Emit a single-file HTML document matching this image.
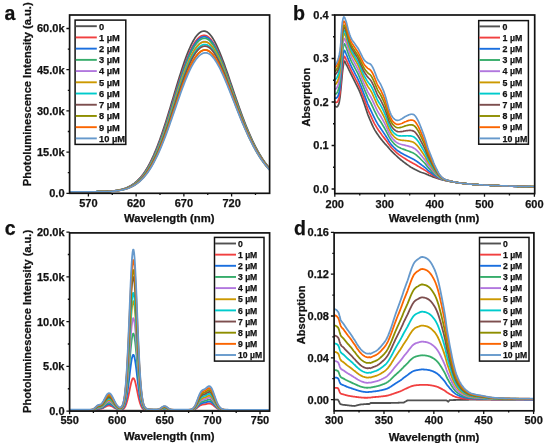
<!DOCTYPE html>
<html><head><meta charset="utf-8"><title>Figure</title>
<style>
html,body{margin:0;padding:0;background:#fff;}
body{width:550px;height:448px;overflow:hidden;font-family:"Liberation Sans",sans-serif;}
svg{display:block;filter:blur(0.45px);}
text{stroke:#111;stroke-width:0.25px;}
</style></head><body>
<svg width="550" height="448" viewBox="0 0 550 448" font-family="Liberation Sans, sans-serif" font-weight="bold" fill="#111">
<clipPath id="ca"><rect x="69.6" y="15" width="200" height="178.3"/></clipPath>
<path d="M68.6 191.8 L69.6 191.8 L70.6 191.8 L71.6 191.8 L72.6 191.8 L73.6 191.8 L74.6 191.8 L75.6 191.8 L76.6 191.8 L77.6 191.8 L78.6 191.8 L79.6 191.8 L80.6 191.79 L81.6 191.79 L82.6 191.79 L83.6 191.79 L84.6 191.79 L85.6 191.79 L86.6 191.78 L87.6 191.78 L88.6 191.78 L89.6 191.77 L90.6 191.77 L91.6 191.76 L92.6 191.75 L93.6 191.75 L94.6 191.74 L95.6 191.73 L96.6 191.71 L97.6 191.7 L98.6 191.68 L99.6 191.66 L100.6 191.64 L101.6 191.62 L102.6 191.59 L103.6 191.55 L104.6 191.52 L105.6 191.47 L106.6 191.43 L107.6 191.37 L108.6 191.31 L109.6 191.24 L110.6 191.16 L111.6 191.08 L112.6 190.98 L113.6 190.87 L114.6 190.75 L115.6 190.61 L116.6 190.46 L117.6 190.29 L118.6 190.1 L119.6 189.9 L120.6 189.67 L121.6 189.42 L122.6 189.14 L123.6 188.84 L124.6 188.5 L125.6 188.14 L126.6 187.74 L127.6 187.31 L128.6 186.84 L129.6 186.33 L130.6 185.77 L131.6 185.17 L132.6 184.52 L133.6 183.82 L134.6 183.06 L135.6 182.25 L136.6 181.38 L137.6 180.45 L138.6 179.45 L139.6 178.39 L140.6 177.25 L141.6 176.05 L142.6 174.77 L143.6 173.41 L144.6 171.97 L145.6 170.45 L146.6 168.85 L147.6 167.17 L148.6 165.4 L149.6 163.54 L150.6 161.6 L151.6 159.57 L152.6 157.45 L153.6 155.24 L154.6 152.94 L155.6 150.56 L156.6 148.09 L157.6 145.54 L158.6 142.91 L159.6 140.2 L160.6 137.41 L161.6 134.54 L162.6 131.61 L163.6 128.61 L164.6 125.55 L165.6 122.43 L166.6 119.26 L167.6 116.04 L168.6 112.79 L169.6 109.5 L170.6 106.18 L171.6 102.84 L172.6 99.49 L173.6 96.13 L174.6 92.78 L175.6 89.43 L176.6 86.1 L177.6 82.8 L178.6 79.54 L179.6 76.31 L180.6 73.14 L181.6 70.03 L182.6 66.99 L183.6 64.02 L184.6 61.14 L185.6 58.35 L186.6 55.66 L187.6 53.08 L188.6 50.61 L189.6 48.26 L190.6 46.05 L191.6 43.97 L192.6 42.02 L193.6 40.23 L194.6 38.58 L195.6 37.09 L196.6 35.76 L197.6 34.59 L198.6 33.59 L199.6 32.76 L200.6 32.09 L201.6 31.59 L202.6 31.27 L203.6 31.11 L204.6 31.13 L205.6 31.34 L206.6 31.74 L207.6 32.33 L208.6 33.11 L209.6 34.07 L210.6 35.21 L211.6 36.52 L212.6 38.01 L213.6 39.67 L214.6 41.45 L215.6 43.35 L216.6 45.38 L217.6 47.52 L218.6 49.78 L219.6 52.14 L220.6 54.59 L221.6 57.13 L222.6 59.74 L223.6 62.42 L224.6 65.16 L225.6 67.95 L226.6 70.78 L227.6 73.65 L228.6 76.55 L229.6 79.48 L230.6 82.41 L231.6 85.36 L232.6 88.3 L233.6 91.24 L234.6 94.18 L235.6 97.1 L236.6 99.99 L237.6 102.87 L238.6 105.71 L239.6 108.52 L240.6 111.3 L241.6 114.03 L242.6 116.72 L243.6 119.37 L244.6 121.96 L245.6 124.51 L246.6 127 L247.6 129.44 L248.6 131.82 L249.6 134.14 L250.6 136.41 L251.6 138.62 L252.6 140.76 L253.6 142.85 L254.6 144.88 L255.6 146.84 L256.6 148.75 L257.6 150.6 L258.6 152.38 L259.6 154.11 L260.6 155.78 L261.6 157.39 L262.6 158.94 L263.6 160.44 L264.6 161.89 L265.6 163.28 L266.6 164.61 L267.6 165.9 L268.6 167.13 L269.6 168.32 L270.6 169.45" stroke="#515151" stroke-width="1.7" fill="none" stroke-linejoin="round" clip-path="url(#ca)"/>
<path d="M68.6 191.8 L69.6 191.8 L70.6 191.8 L71.6 191.8 L72.6 191.8 L73.6 191.8 L74.6 191.8 L75.6 191.8 L76.6 191.8 L77.6 191.8 L78.6 191.8 L79.6 191.8 L80.6 191.79 L81.6 191.79 L82.6 191.79 L83.6 191.79 L84.6 191.79 L85.6 191.79 L86.6 191.78 L87.6 191.78 L88.6 191.78 L89.6 191.77 L90.6 191.77 L91.6 191.76 L92.6 191.76 L93.6 191.75 L94.6 191.74 L95.6 191.73 L96.6 191.72 L97.6 191.7 L98.6 191.69 L99.6 191.67 L100.6 191.65 L101.6 191.62 L102.6 191.6 L103.6 191.57 L104.6 191.53 L105.6 191.49 L106.6 191.44 L107.6 191.39 L108.6 191.33 L109.6 191.27 L110.6 191.19 L111.6 191.11 L112.6 191.01 L113.6 190.91 L114.6 190.79 L115.6 190.66 L116.6 190.52 L117.6 190.35 L118.6 190.18 L119.6 189.98 L120.6 189.76 L121.6 189.52 L122.6 189.25 L123.6 188.96 L124.6 188.64 L125.6 188.29 L126.6 187.91 L127.6 187.49 L128.6 187.04 L129.6 186.55 L130.6 186.01 L131.6 185.43 L132.6 184.81 L133.6 184.13 L134.6 183.41 L135.6 182.62 L136.6 181.79 L137.6 180.89 L138.6 179.92 L139.6 178.9 L140.6 177.8 L141.6 176.64 L142.6 175.4 L143.6 174.09 L144.6 172.7 L145.6 171.24 L146.6 169.69 L147.6 168.06 L148.6 166.35 L149.6 164.56 L150.6 162.68 L151.6 160.71 L152.6 158.66 L153.6 156.52 L154.6 154.3 L155.6 151.99 L156.6 149.6 L157.6 147.13 L158.6 144.58 L159.6 141.95 L160.6 139.24 L161.6 136.46 L162.6 133.62 L163.6 130.7 L164.6 127.73 L165.6 124.7 L166.6 121.62 L167.6 118.5 L168.6 115.33 L169.6 112.13 L170.6 108.9 L171.6 105.65 L172.6 102.39 L173.6 99.12 L174.6 95.85 L175.6 92.59 L176.6 89.35 L177.6 86.13 L178.6 82.95 L179.6 79.8 L180.6 76.7 L181.6 73.66 L182.6 70.69 L183.6 67.79 L184.6 64.97 L185.6 62.24 L186.6 59.6 L187.6 57.07 L188.6 54.65 L189.6 52.35 L190.6 50.17 L191.6 48.13 L192.6 46.21 L193.6 44.44 L194.6 42.82 L195.6 41.35 L196.6 40.03 L197.6 38.86 L198.6 37.86 L199.6 37.02 L200.6 36.35 L201.6 35.84 L202.6 35.5 L203.6 35.33 L204.6 35.32 L205.6 35.5 L206.6 35.86 L207.6 36.4 L208.6 37.13 L209.6 38.04 L210.6 39.12 L211.6 40.38 L212.6 41.8 L213.6 43.39 L214.6 45.11 L215.6 46.95 L216.6 48.9 L217.6 50.97 L218.6 53.16 L219.6 55.44 L220.6 57.81 L221.6 60.27 L222.6 62.8 L223.6 65.4 L224.6 68.06 L225.6 70.77 L226.6 73.53 L227.6 76.32 L228.6 79.14 L229.6 81.98 L230.6 84.84 L231.6 87.71 L232.6 90.58 L233.6 93.44 L234.6 96.3 L235.6 99.15 L236.6 101.97 L237.6 104.77 L238.6 107.55 L239.6 110.29 L240.6 113 L241.6 115.67 L242.6 118.29 L243.6 120.88 L244.6 123.41 L245.6 125.9 L246.6 128.33 L247.6 130.71 L248.6 133.04 L249.6 135.31 L250.6 137.53 L251.6 139.69 L252.6 141.79 L253.6 143.83 L254.6 145.81 L255.6 147.73 L256.6 149.6 L257.6 151.41 L258.6 153.15 L259.6 154.85 L260.6 156.48 L261.6 158.06 L262.6 159.58 L263.6 161.05 L264.6 162.46 L265.6 163.82 L266.6 165.13 L267.6 166.39 L268.6 167.6 L269.6 168.76 L270.6 169.87" stroke="#F14040" stroke-width="1.7" fill="none" stroke-linejoin="round" clip-path="url(#ca)"/>
<path d="M68.6 191.8 L69.6 191.8 L70.6 191.8 L71.6 191.8 L72.6 191.8 L73.6 191.8 L74.6 191.8 L75.6 191.8 L76.6 191.8 L77.6 191.8 L78.6 191.8 L79.6 191.8 L80.6 191.79 L81.6 191.79 L82.6 191.79 L83.6 191.79 L84.6 191.79 L85.6 191.79 L86.6 191.78 L87.6 191.78 L88.6 191.78 L89.6 191.77 L90.6 191.77 L91.6 191.76 L92.6 191.76 L93.6 191.75 L94.6 191.74 L95.6 191.73 L96.6 191.72 L97.6 191.71 L98.6 191.69 L99.6 191.67 L100.6 191.65 L101.6 191.63 L102.6 191.6 L103.6 191.57 L104.6 191.54 L105.6 191.5 L106.6 191.45 L107.6 191.4 L108.6 191.35 L109.6 191.28 L110.6 191.21 L111.6 191.13 L112.6 191.04 L113.6 190.93 L114.6 190.82 L115.6 190.69 L116.6 190.55 L117.6 190.39 L118.6 190.22 L119.6 190.02 L120.6 189.81 L121.6 189.58 L122.6 189.32 L123.6 189.03 L124.6 188.72 L125.6 188.38 L126.6 188 L127.6 187.6 L128.6 187.15 L129.6 186.67 L130.6 186.15 L131.6 185.58 L132.6 184.97 L133.6 184.31 L134.6 183.59 L135.6 182.83 L136.6 182 L137.6 181.12 L138.6 180.18 L139.6 179.17 L140.6 178.1 L141.6 176.95 L142.6 175.74 L143.6 174.45 L144.6 173.09 L145.6 171.65 L146.6 170.12 L147.6 168.52 L148.6 166.84 L149.6 165.07 L150.6 163.22 L151.6 161.29 L152.6 159.27 L153.6 157.16 L154.6 154.97 L155.6 152.7 L156.6 150.34 L157.6 147.9 L158.6 145.38 L159.6 142.79 L160.6 140.12 L161.6 137.38 L162.6 134.56 L163.6 131.69 L164.6 128.75 L165.6 125.76 L166.6 122.71 L167.6 119.62 L168.6 116.49 L169.6 113.32 L170.6 110.12 L171.6 106.91 L172.6 103.68 L173.6 100.44 L174.6 97.2 L175.6 93.96 L176.6 90.75 L177.6 87.55 L178.6 84.39 L179.6 81.27 L180.6 78.19 L181.6 75.17 L182.6 72.21 L183.6 69.32 L184.6 66.52 L185.6 63.8 L186.6 61.17 L187.6 58.65 L188.6 56.23 L189.6 53.93 L190.6 51.76 L191.6 49.71 L192.6 47.79 L193.6 46.02 L194.6 44.38 L195.6 42.9 L196.6 41.57 L197.6 40.39 L198.6 39.38 L199.6 38.52 L200.6 37.83 L201.6 37.3 L202.6 36.94 L203.6 36.74 L204.6 36.71 L205.6 36.86 L206.6 37.19 L207.6 37.7 L208.6 38.4 L209.6 39.27 L210.6 40.32 L211.6 41.54 L212.6 42.92 L213.6 44.47 L214.6 46.17 L215.6 47.96 L216.6 49.88 L217.6 51.92 L218.6 54.07 L219.6 56.31 L220.6 58.65 L221.6 61.08 L222.6 63.58 L223.6 66.14 L224.6 68.77 L225.6 71.45 L226.6 74.17 L227.6 76.94 L228.6 79.73 L229.6 82.54 L230.6 85.37 L231.6 88.21 L232.6 91.06 L233.6 93.9 L234.6 96.73 L235.6 99.55 L236.6 102.36 L237.6 105.14 L238.6 107.89 L239.6 110.61 L240.6 113.3 L241.6 115.95 L242.6 118.56 L243.6 121.13 L244.6 123.65 L245.6 126.12 L246.6 128.54 L247.6 130.91 L248.6 133.23 L249.6 135.49 L250.6 137.69 L251.6 139.84 L252.6 141.93 L253.6 143.96 L254.6 145.93 L255.6 147.85 L256.6 149.7 L257.6 151.5 L258.6 153.24 L259.6 154.93 L260.6 156.56 L261.6 158.13 L262.6 159.64 L263.6 161.11 L264.6 162.52 L265.6 163.87 L266.6 165.18 L267.6 166.43 L268.6 167.64 L269.6 168.8 L270.6 169.91" stroke="#1A6FDF" stroke-width="1.7" fill="none" stroke-linejoin="round" clip-path="url(#ca)"/>
<path d="M68.6 191.8 L69.6 191.8 L70.6 191.8 L71.6 191.8 L72.6 191.8 L73.6 191.8 L74.6 191.8 L75.6 191.8 L76.6 191.8 L77.6 191.8 L78.6 191.8 L79.6 191.8 L80.6 191.8 L81.6 191.79 L82.6 191.79 L83.6 191.79 L84.6 191.79 L85.6 191.79 L86.6 191.79 L87.6 191.78 L88.6 191.78 L89.6 191.78 L90.6 191.77 L91.6 191.77 L92.6 191.76 L93.6 191.75 L94.6 191.74 L95.6 191.73 L96.6 191.72 L97.6 191.71 L98.6 191.69 L99.6 191.68 L100.6 191.66 L101.6 191.63 L102.6 191.61 L103.6 191.58 L104.6 191.55 L105.6 191.51 L106.6 191.46 L107.6 191.41 L108.6 191.36 L109.6 191.3 L110.6 191.23 L111.6 191.15 L112.6 191.06 L113.6 190.96 L114.6 190.85 L115.6 190.72 L116.6 190.58 L117.6 190.43 L118.6 190.26 L119.6 190.07 L120.6 189.86 L121.6 189.63 L122.6 189.38 L123.6 189.1 L124.6 188.8 L125.6 188.47 L126.6 188.1 L127.6 187.7 L128.6 187.27 L129.6 186.8 L130.6 186.29 L131.6 185.73 L132.6 185.13 L133.6 184.48 L134.6 183.79 L135.6 183.04 L136.6 182.23 L137.6 181.37 L138.6 180.44 L139.6 179.45 L140.6 178.4 L141.6 177.28 L142.6 176.09 L143.6 174.82 L144.6 173.49 L145.6 172.07 L146.6 170.58 L147.6 169.01 L148.6 167.35 L149.6 165.62 L150.6 163.8 L151.6 161.89 L152.6 159.91 L153.6 157.84 L154.6 155.68 L155.6 153.44 L156.6 151.12 L157.6 148.72 L158.6 146.24 L159.6 143.68 L160.6 141.05 L161.6 138.35 L162.6 135.58 L163.6 132.74 L164.6 129.84 L165.6 126.88 L166.6 123.88 L167.6 120.82 L168.6 117.73 L169.6 114.6 L170.6 111.44 L171.6 108.26 L172.6 105.07 L173.6 101.86 L174.6 98.65 L175.6 95.45 L176.6 92.27 L177.6 89.1 L178.6 85.97 L179.6 82.87 L180.6 79.81 L181.6 76.82 L182.6 73.88 L183.6 71.01 L184.6 68.22 L185.6 65.51 L186.6 62.9 L187.6 60.39 L188.6 57.98 L189.6 55.69 L190.6 53.52 L191.6 51.47 L192.6 49.55 L193.6 47.77 L194.6 46.14 L195.6 44.65 L196.6 43.31 L197.6 42.12 L198.6 41.09 L199.6 40.22 L200.6 39.51 L201.6 38.96 L202.6 38.58 L203.6 38.36 L204.6 38.3 L205.6 38.42 L206.6 38.72 L207.6 39.2 L208.6 39.86 L209.6 40.7 L210.6 41.71 L211.6 42.9 L212.6 44.24 L213.6 45.75 L214.6 47.41 L215.6 49.17 L216.6 51.05 L217.6 53.05 L218.6 55.16 L219.6 57.37 L220.6 59.67 L221.6 62.06 L222.6 64.52 L223.6 67.05 L224.6 69.65 L225.6 72.29 L226.6 74.98 L227.6 77.71 L228.6 80.47 L229.6 83.25 L230.6 86.05 L231.6 88.86 L232.6 91.67 L233.6 94.49 L234.6 97.29 L235.6 100.09 L236.6 102.86 L237.6 105.62 L238.6 108.35 L239.6 111.05 L240.6 113.72 L241.6 116.34 L242.6 118.93 L243.6 121.48 L244.6 123.98 L245.6 126.43 L246.6 128.84 L247.6 131.19 L248.6 133.49 L249.6 135.73 L250.6 137.92 L251.6 140.06 L252.6 142.13 L253.6 144.15 L254.6 146.11 L255.6 148.02 L256.6 149.87 L257.6 151.65 L258.6 153.39 L259.6 155.06 L260.6 156.68 L261.6 158.25 L262.6 159.75 L263.6 161.21 L264.6 162.61 L265.6 163.96 L266.6 165.26 L267.6 166.51 L268.6 167.71 L269.6 168.87 L270.6 169.97" stroke="#37AD6B" stroke-width="1.7" fill="none" stroke-linejoin="round" clip-path="url(#ca)"/>
<path d="M68.6 191.8 L69.6 191.8 L70.6 191.8 L71.6 191.8 L72.6 191.8 L73.6 191.8 L74.6 191.8 L75.6 191.8 L76.6 191.8 L77.6 191.8 L78.6 191.8 L79.6 191.8 L80.6 191.8 L81.6 191.79 L82.6 191.79 L83.6 191.79 L84.6 191.79 L85.6 191.79 L86.6 191.79 L87.6 191.78 L88.6 191.78 L89.6 191.78 L90.6 191.77 L91.6 191.77 L92.6 191.76 L93.6 191.75 L94.6 191.75 L95.6 191.74 L96.6 191.73 L97.6 191.71 L98.6 191.7 L99.6 191.68 L100.6 191.66 L101.6 191.64 L102.6 191.62 L103.6 191.59 L104.6 191.56 L105.6 191.52 L106.6 191.48 L107.6 191.43 L108.6 191.38 L109.6 191.32 L110.6 191.25 L111.6 191.17 L112.6 191.09 L113.6 190.99 L114.6 190.88 L115.6 190.76 L116.6 190.63 L117.6 190.48 L118.6 190.32 L119.6 190.14 L120.6 189.94 L121.6 189.72 L122.6 189.47 L123.6 189.2 L124.6 188.91 L125.6 188.59 L126.6 188.24 L127.6 187.85 L128.6 187.43 L129.6 186.98 L130.6 186.48 L131.6 185.95 L132.6 185.37 L133.6 184.74 L134.6 184.06 L135.6 183.34 L136.6 182.56 L137.6 181.72 L138.6 180.83 L139.6 179.87 L140.6 178.85 L141.6 177.76 L142.6 176.61 L143.6 175.38 L144.6 174.08 L145.6 172.71 L146.6 171.26 L147.6 169.73 L148.6 168.13 L149.6 166.44 L150.6 164.67 L151.6 162.82 L152.6 160.89 L153.6 158.88 L154.6 156.78 L155.6 154.6 L156.6 152.34 L157.6 150.01 L158.6 147.59 L159.6 145.1 L160.6 142.53 L161.6 139.9 L162.6 137.2 L163.6 134.43 L164.6 131.6 L165.6 128.72 L166.6 125.78 L167.6 122.8 L168.6 119.78 L169.6 116.72 L170.6 113.64 L171.6 110.53 L172.6 107.4 L173.6 104.26 L174.6 101.13 L175.6 97.99 L176.6 94.87 L177.6 91.77 L178.6 88.7 L179.6 85.66 L180.6 82.67 L181.6 79.72 L182.6 76.84 L183.6 74.02 L184.6 71.28 L185.6 68.62 L186.6 66.05 L187.6 63.58 L188.6 61.2 L189.6 58.94 L190.6 56.8 L191.6 54.78 L192.6 52.88 L193.6 51.12 L194.6 49.5 L195.6 48.02 L196.6 46.69 L197.6 45.5 L198.6 44.47 L199.6 43.6 L200.6 42.88 L201.6 42.32 L202.6 41.92 L203.6 41.68 L204.6 41.6 L205.6 41.69 L206.6 41.96 L207.6 42.4 L208.6 43.02 L209.6 43.82 L210.6 44.78 L211.6 45.91 L212.6 47.21 L213.6 48.66 L214.6 50.27 L215.6 51.97 L216.6 53.79 L217.6 55.73 L218.6 57.78 L219.6 59.93 L220.6 62.17 L221.6 64.49 L222.6 66.89 L223.6 69.36 L224.6 71.89 L225.6 74.47 L226.6 77.1 L227.6 79.76 L228.6 82.45 L229.6 85.17 L230.6 87.91 L231.6 90.66 L232.6 93.41 L233.6 96.17 L234.6 98.91 L235.6 101.65 L236.6 104.37 L237.6 107.07 L238.6 109.74 L239.6 112.39 L240.6 115.01 L241.6 117.58 L242.6 120.12 L243.6 122.62 L244.6 125.08 L245.6 127.48 L246.6 129.84 L247.6 132.15 L248.6 134.41 L249.6 136.61 L250.6 138.76 L251.6 140.86 L252.6 142.9 L253.6 144.88 L254.6 146.81 L255.6 148.68 L256.6 150.5 L257.6 152.26 L258.6 153.96 L259.6 155.61 L260.6 157.2 L261.6 158.74 L262.6 160.23 L263.6 161.66 L264.6 163.04 L265.6 164.37 L266.6 165.65 L267.6 166.87 L268.6 168.06 L269.6 169.19 L270.6 170.28" stroke="#B177DE" stroke-width="1.7" fill="none" stroke-linejoin="round" clip-path="url(#ca)"/>
<path d="M68.6 191.8 L69.6 191.8 L70.6 191.8 L71.6 191.8 L72.6 191.8 L73.6 191.8 L74.6 191.8 L75.6 191.8 L76.6 191.8 L77.6 191.8 L78.6 191.8 L79.6 191.8 L80.6 191.8 L81.6 191.79 L82.6 191.79 L83.6 191.79 L84.6 191.79 L85.6 191.79 L86.6 191.79 L87.6 191.78 L88.6 191.78 L89.6 191.78 L90.6 191.77 L91.6 191.77 L92.6 191.76 L93.6 191.76 L94.6 191.75 L95.6 191.74 L96.6 191.73 L97.6 191.72 L98.6 191.7 L99.6 191.69 L100.6 191.67 L101.6 191.65 L102.6 191.62 L103.6 191.59 L104.6 191.56 L105.6 191.53 L106.6 191.48 L107.6 191.44 L108.6 191.39 L109.6 191.33 L110.6 191.26 L111.6 191.19 L112.6 191.1 L113.6 191.01 L114.6 190.9 L115.6 190.78 L116.6 190.65 L117.6 190.51 L118.6 190.35 L119.6 190.17 L120.6 189.97 L121.6 189.75 L122.6 189.51 L123.6 189.25 L124.6 188.96 L125.6 188.64 L126.6 188.3 L127.6 187.92 L128.6 187.5 L129.6 187.05 L130.6 186.57 L131.6 186.04 L132.6 185.46 L133.6 184.85 L134.6 184.18 L135.6 183.46 L136.6 182.69 L137.6 181.86 L138.6 180.98 L139.6 180.03 L140.6 179.02 L141.6 177.95 L142.6 176.8 L143.6 175.59 L144.6 174.3 L145.6 172.94 L146.6 171.51 L147.6 170 L148.6 168.4 L149.6 166.73 L150.6 164.98 L151.6 163.14 L152.6 161.23 L153.6 159.23 L154.6 157.15 L155.6 154.98 L156.6 152.74 L157.6 150.42 L158.6 148.02 L159.6 145.54 L160.6 142.99 L161.6 140.37 L162.6 137.68 L163.6 134.92 L164.6 132.11 L165.6 129.24 L166.6 126.31 L167.6 123.34 L168.6 120.33 L169.6 117.28 L170.6 114.2 L171.6 111.1 L172.6 107.98 L173.6 104.85 L174.6 101.72 L175.6 98.59 L176.6 95.47 L177.6 92.37 L178.6 89.29 L179.6 86.26 L180.6 83.26 L181.6 80.31 L182.6 77.42 L183.6 74.6 L184.6 71.85 L185.6 69.18 L186.6 66.6 L187.6 64.11 L188.6 61.73 L189.6 59.45 L190.6 57.29 L191.6 55.25 L192.6 53.34 L193.6 51.57 L194.6 49.92 L195.6 48.42 L196.6 47.07 L197.6 45.87 L198.6 44.81 L199.6 43.92 L200.6 43.17 L201.6 42.59 L202.6 42.17 L203.6 41.91 L204.6 41.8 L205.6 41.86 L206.6 42.1 L207.6 42.52 L208.6 43.12 L209.6 43.88 L210.6 44.82 L211.6 45.93 L212.6 47.2 L213.6 48.62 L214.6 50.21 L215.6 51.89 L216.6 53.7 L217.6 55.62 L218.6 57.65 L219.6 59.78 L220.6 62 L221.6 64.31 L222.6 66.7 L223.6 69.15 L224.6 71.67 L225.6 74.24 L226.6 76.85 L227.6 79.51 L228.6 82.19 L229.6 84.91 L230.6 87.64 L231.6 90.38 L232.6 93.13 L233.6 95.88 L234.6 98.63 L235.6 101.36 L236.6 104.08 L237.6 106.78 L238.6 109.45 L239.6 112.1 L240.6 114.72 L241.6 117.3 L242.6 119.84 L243.6 122.34 L244.6 124.8 L245.6 127.21 L246.6 129.57 L247.6 131.89 L248.6 134.15 L249.6 136.36 L250.6 138.52 L251.6 140.62 L252.6 142.66 L253.6 144.65 L254.6 146.59 L255.6 148.47 L256.6 150.29 L257.6 152.05 L258.6 153.76 L259.6 155.41 L260.6 157.01 L261.6 158.56 L262.6 160.05 L263.6 161.49 L264.6 162.87 L265.6 164.21 L266.6 165.49 L267.6 166.73 L268.6 167.91 L269.6 169.06 L270.6 170.15" stroke="#CC9900" stroke-width="1.7" fill="none" stroke-linejoin="round" clip-path="url(#ca)"/>
<path d="M68.6 191.8 L69.6 191.8 L70.6 191.8 L71.6 191.8 L72.6 191.8 L73.6 191.8 L74.6 191.8 L75.6 191.8 L76.6 191.8 L77.6 191.8 L78.6 191.8 L79.6 191.8 L80.6 191.8 L81.6 191.79 L82.6 191.79 L83.6 191.79 L84.6 191.79 L85.6 191.79 L86.6 191.79 L87.6 191.78 L88.6 191.78 L89.6 191.78 L90.6 191.77 L91.6 191.77 L92.6 191.76 L93.6 191.76 L94.6 191.75 L95.6 191.74 L96.6 191.73 L97.6 191.72 L98.6 191.71 L99.6 191.69 L100.6 191.67 L101.6 191.65 L102.6 191.63 L103.6 191.6 L104.6 191.57 L105.6 191.54 L106.6 191.5 L107.6 191.45 L108.6 191.4 L109.6 191.34 L110.6 191.28 L111.6 191.21 L112.6 191.13 L113.6 191.04 L114.6 190.93 L115.6 190.82 L116.6 190.7 L117.6 190.55 L118.6 190.4 L119.6 190.23 L120.6 190.03 L121.6 189.82 L122.6 189.59 L123.6 189.34 L124.6 189.06 L125.6 188.75 L126.6 188.41 L127.6 188.04 L128.6 187.64 L129.6 187.21 L130.6 186.73 L131.6 186.22 L132.6 185.67 L133.6 185.06 L134.6 184.42 L135.6 183.72 L136.6 182.97 L137.6 182.17 L138.6 181.31 L139.6 180.39 L140.6 179.41 L141.6 178.36 L142.6 177.25 L143.6 176.07 L144.6 174.81 L145.6 173.49 L146.6 172.09 L147.6 170.62 L148.6 169.06 L149.6 167.43 L150.6 165.72 L151.6 163.93 L152.6 162.06 L153.6 160.11 L154.6 158.08 L155.6 155.97 L156.6 153.78 L157.6 151.51 L158.6 149.16 L159.6 146.74 L160.6 144.25 L161.6 141.68 L162.6 139.05 L163.6 136.36 L164.6 133.6 L165.6 130.79 L166.6 127.93 L167.6 125.02 L168.6 122.06 L169.6 119.07 L170.6 116.06 L171.6 113.01 L172.6 109.95 L173.6 106.88 L174.6 103.8 L175.6 100.73 L176.6 97.66 L177.6 94.61 L178.6 91.59 L179.6 88.6 L180.6 85.65 L181.6 82.75 L182.6 79.9 L183.6 77.12 L184.6 74.41 L185.6 71.77 L186.6 69.22 L187.6 66.77 L188.6 64.41 L189.6 62.16 L190.6 60.02 L191.6 58 L192.6 56.11 L193.6 54.34 L194.6 52.71 L195.6 51.22 L196.6 49.87 L197.6 48.66 L198.6 47.6 L199.6 46.7 L200.6 45.95 L201.6 45.35 L202.6 44.91 L203.6 44.63 L204.6 44.51 L205.6 44.54 L206.6 44.75 L207.6 45.14 L208.6 45.69 L209.6 46.42 L210.6 47.32 L211.6 48.38 L212.6 49.6 L213.6 50.98 L214.6 52.51 L215.6 54.16 L216.6 55.91 L217.6 57.78 L218.6 59.76 L219.6 61.83 L220.6 64 L221.6 66.26 L222.6 68.59 L223.6 70.99 L224.6 73.45 L225.6 75.97 L226.6 78.53 L227.6 81.14 L228.6 83.77 L229.6 86.43 L230.6 89.11 L231.6 91.8 L232.6 94.5 L233.6 97.2 L234.6 99.9 L235.6 102.59 L236.6 105.26 L237.6 107.91 L238.6 110.54 L239.6 113.15 L240.6 115.72 L241.6 118.26 L242.6 120.76 L243.6 123.23 L244.6 125.65 L245.6 128.02 L246.6 130.35 L247.6 132.63 L248.6 134.86 L249.6 137.04 L250.6 139.16 L251.6 141.23 L252.6 143.25 L253.6 145.21 L254.6 147.12 L255.6 148.97 L256.6 150.77 L257.6 152.51 L258.6 154.2 L259.6 155.83 L260.6 157.41 L261.6 158.93 L262.6 160.4 L263.6 161.82 L264.6 163.19 L265.6 164.51 L266.6 165.78 L267.6 167 L268.6 168.17 L269.6 169.3 L270.6 170.38" stroke="#00CBCC" stroke-width="1.7" fill="none" stroke-linejoin="round" clip-path="url(#ca)"/>
<path d="M68.6 191.8 L69.6 191.8 L70.6 191.8 L71.6 191.8 L72.6 191.8 L73.6 191.8 L74.6 191.8 L75.6 191.8 L76.6 191.8 L77.6 191.8 L78.6 191.8 L79.6 191.8 L80.6 191.8 L81.6 191.79 L82.6 191.79 L83.6 191.79 L84.6 191.79 L85.6 191.79 L86.6 191.79 L87.6 191.78 L88.6 191.78 L89.6 191.78 L90.6 191.77 L91.6 191.77 L92.6 191.76 L93.6 191.76 L94.6 191.75 L95.6 191.74 L96.6 191.73 L97.6 191.72 L98.6 191.71 L99.6 191.69 L100.6 191.68 L101.6 191.66 L102.6 191.63 L103.6 191.61 L104.6 191.58 L105.6 191.54 L106.6 191.51 L107.6 191.46 L108.6 191.41 L109.6 191.36 L110.6 191.3 L111.6 191.23 L112.6 191.15 L113.6 191.06 L114.6 190.96 L115.6 190.85 L116.6 190.73 L117.6 190.59 L118.6 190.44 L119.6 190.27 L120.6 190.08 L121.6 189.88 L122.6 189.65 L123.6 189.4 L124.6 189.13 L125.6 188.83 L126.6 188.5 L127.6 188.14 L128.6 187.75 L129.6 187.32 L130.6 186.86 L131.6 186.36 L132.6 185.82 L133.6 185.23 L134.6 184.6 L135.6 183.92 L136.6 183.18 L137.6 182.4 L138.6 181.55 L139.6 180.65 L140.6 179.69 L141.6 178.66 L142.6 177.57 L143.6 176.42 L144.6 175.19 L145.6 173.89 L146.6 172.52 L147.6 171.07 L148.6 169.55 L149.6 167.95 L150.6 166.27 L151.6 164.51 L152.6 162.67 L153.6 160.75 L154.6 158.75 L155.6 156.68 L156.6 154.52 L157.6 152.29 L158.6 149.98 L159.6 147.59 L160.6 145.14 L161.6 142.61 L162.6 140.02 L163.6 137.36 L164.6 134.65 L165.6 131.87 L166.6 129.05 L167.6 126.18 L168.6 123.26 L169.6 120.31 L170.6 117.33 L171.6 114.32 L172.6 111.29 L173.6 108.26 L174.6 105.21 L175.6 102.17 L176.6 99.14 L177.6 96.12 L178.6 93.13 L179.6 90.16 L180.6 87.24 L181.6 84.36 L182.6 81.54 L183.6 78.77 L184.6 76.08 L185.6 73.46 L186.6 70.93 L187.6 68.49 L188.6 66.14 L189.6 63.9 L190.6 61.77 L191.6 59.75 L192.6 57.86 L193.6 56.09 L194.6 54.45 L195.6 52.96 L196.6 51.6 L197.6 50.38 L198.6 49.32 L199.6 48.4 L200.6 47.63 L201.6 47.02 L202.6 46.57 L203.6 46.26 L204.6 46.12 L205.6 46.13 L206.6 46.31 L207.6 46.66 L208.6 47.19 L209.6 47.88 L210.6 48.74 L211.6 49.77 L212.6 50.95 L213.6 52.3 L214.6 53.79 L215.6 55.4 L216.6 57.12 L217.6 58.95 L218.6 60.89 L219.6 62.93 L220.6 65.07 L221.6 67.28 L222.6 69.58 L223.6 71.94 L224.6 74.37 L225.6 76.85 L226.6 79.38 L227.6 81.95 L228.6 84.55 L229.6 87.18 L230.6 89.83 L231.6 92.49 L232.6 95.16 L233.6 97.83 L234.6 100.5 L235.6 103.16 L236.6 105.8 L237.6 108.43 L238.6 111.04 L239.6 113.62 L240.6 116.17 L241.6 118.69 L242.6 121.17 L243.6 123.61 L244.6 126.01 L245.6 128.36 L246.6 130.67 L247.6 132.94 L248.6 135.15 L249.6 137.31 L250.6 139.42 L251.6 141.48 L252.6 143.48 L253.6 145.43 L254.6 147.33 L255.6 149.17 L256.6 150.95 L257.6 152.68 L258.6 154.36 L259.6 155.98 L260.6 157.55 L261.6 159.07 L262.6 160.53 L263.6 161.94 L264.6 163.3 L265.6 164.61 L266.6 165.88 L267.6 167.09 L268.6 168.26 L269.6 169.38 L270.6 170.46" stroke="#7D4E4E" stroke-width="1.7" fill="none" stroke-linejoin="round" clip-path="url(#ca)"/>
<path d="M68.6 191.8 L69.6 191.8 L70.6 191.8 L71.6 191.8 L72.6 191.8 L73.6 191.8 L74.6 191.8 L75.6 191.8 L76.6 191.8 L77.6 191.8 L78.6 191.8 L79.6 191.8 L80.6 191.8 L81.6 191.8 L82.6 191.79 L83.6 191.79 L84.6 191.79 L85.6 191.79 L86.6 191.79 L87.6 191.79 L88.6 191.78 L89.6 191.78 L90.6 191.78 L91.6 191.77 L92.6 191.77 L93.6 191.76 L94.6 191.75 L95.6 191.75 L96.6 191.74 L97.6 191.73 L98.6 191.71 L99.6 191.7 L100.6 191.68 L101.6 191.66 L102.6 191.64 L103.6 191.62 L104.6 191.59 L105.6 191.56 L106.6 191.52 L107.6 191.48 L108.6 191.43 L109.6 191.38 L110.6 191.32 L111.6 191.25 L112.6 191.18 L113.6 191.09 L114.6 191 L115.6 190.89 L116.6 190.77 L117.6 190.64 L118.6 190.5 L119.6 190.34 L120.6 190.16 L121.6 189.96 L122.6 189.74 L123.6 189.5 L124.6 189.24 L125.6 188.95 L126.6 188.64 L127.6 188.29 L128.6 187.91 L129.6 187.51 L130.6 187.06 L131.6 186.58 L132.6 186.06 L133.6 185.49 L134.6 184.88 L135.6 184.22 L136.6 183.52 L137.6 182.76 L138.6 181.95 L139.6 181.08 L140.6 180.15 L141.6 179.16 L142.6 178.11 L143.6 176.99 L144.6 175.81 L145.6 174.55 L146.6 173.22 L147.6 171.83 L148.6 170.35 L149.6 168.81 L150.6 167.18 L151.6 165.48 L152.6 163.7 L153.6 161.85 L154.6 159.91 L155.6 157.9 L156.6 155.81 L157.6 153.65 L158.6 151.41 L159.6 149.1 L160.6 146.72 L161.6 144.27 L162.6 141.75 L163.6 139.17 L164.6 136.54 L165.6 133.84 L166.6 131.1 L167.6 128.31 L168.6 125.48 L169.6 122.61 L170.6 119.71 L171.6 116.78 L172.6 113.84 L173.6 110.88 L174.6 107.92 L175.6 104.95 L176.6 102 L177.6 99.05 L178.6 96.13 L179.6 93.24 L180.6 90.39 L181.6 87.58 L182.6 84.82 L183.6 82.12 L184.6 79.49 L185.6 76.93 L186.6 74.45 L187.6 72.05 L188.6 69.75 L189.6 67.55 L190.6 65.46 L191.6 63.48 L192.6 61.62 L193.6 59.88 L194.6 58.27 L195.6 56.79 L196.6 55.44 L197.6 54.24 L198.6 53.18 L199.6 52.27 L200.6 51.5 L201.6 50.88 L202.6 50.41 L203.6 50.09 L204.6 49.93 L205.6 49.91 L206.6 50.07 L207.6 50.39 L208.6 50.87 L209.6 51.52 L210.6 52.34 L211.6 53.31 L212.6 54.45 L213.6 55.73 L214.6 57.16 L215.6 58.72 L216.6 60.37 L217.6 62.14 L218.6 64.02 L219.6 65.99 L220.6 68.05 L221.6 70.2 L222.6 72.43 L223.6 74.72 L224.6 77.08 L225.6 79.48 L226.6 81.94 L227.6 84.44 L228.6 86.97 L229.6 89.52 L230.6 92.1 L231.6 94.69 L232.6 97.29 L233.6 99.89 L234.6 102.49 L235.6 105.08 L236.6 107.66 L237.6 110.22 L238.6 112.77 L239.6 115.28 L240.6 117.77 L241.6 120.23 L242.6 122.65 L243.6 125.03 L244.6 127.38 L245.6 129.68 L246.6 131.93 L247.6 134.14 L248.6 136.31 L249.6 138.42 L250.6 140.48 L251.6 142.49 L252.6 144.45 L253.6 146.36 L254.6 148.21 L255.6 150.01 L256.6 151.76 L257.6 153.45 L258.6 155.09 L259.6 156.68 L260.6 158.22 L261.6 159.7 L262.6 161.13 L263.6 162.52 L264.6 163.85 L265.6 165.13 L266.6 166.37 L267.6 167.56 L268.6 168.7 L269.6 169.8 L270.6 170.86" stroke="#8E8E00" stroke-width="1.7" fill="none" stroke-linejoin="round" clip-path="url(#ca)"/>
<path d="M68.6 191.8 L69.6 191.8 L70.6 191.8 L71.6 191.8 L72.6 191.8 L73.6 191.8 L74.6 191.8 L75.6 191.8 L76.6 191.8 L77.6 191.8 L78.6 191.8 L79.6 191.8 L80.6 191.8 L81.6 191.8 L82.6 191.79 L83.6 191.79 L84.6 191.79 L85.6 191.79 L86.6 191.79 L87.6 191.79 L88.6 191.78 L89.6 191.78 L90.6 191.78 L91.6 191.77 L92.6 191.77 L93.6 191.76 L94.6 191.75 L95.6 191.75 L96.6 191.74 L97.6 191.73 L98.6 191.72 L99.6 191.7 L100.6 191.68 L101.6 191.67 L102.6 191.65 L103.6 191.62 L104.6 191.59 L105.6 191.56 L106.6 191.53 L107.6 191.49 L108.6 191.44 L109.6 191.39 L110.6 191.33 L111.6 191.26 L112.6 191.19 L113.6 191.11 L114.6 191.01 L115.6 190.91 L116.6 190.79 L117.6 190.66 L118.6 190.52 L119.6 190.36 L120.6 190.19 L121.6 189.99 L122.6 189.78 L123.6 189.54 L124.6 189.28 L125.6 189 L126.6 188.69 L127.6 188.35 L128.6 187.98 L129.6 187.57 L130.6 187.13 L131.6 186.66 L132.6 186.14 L133.6 185.58 L134.6 184.98 L135.6 184.33 L136.6 183.63 L137.6 182.88 L138.6 182.08 L139.6 181.22 L140.6 180.3 L141.6 179.32 L142.6 178.28 L143.6 177.17 L144.6 176 L145.6 174.76 L146.6 173.44 L147.6 172.05 L148.6 170.59 L149.6 169.06 L150.6 167.45 L151.6 165.76 L152.6 163.99 L153.6 162.15 L154.6 160.23 L155.6 158.23 L156.6 156.16 L157.6 154.01 L158.6 151.78 L159.6 149.48 L160.6 147.11 L161.6 144.67 L162.6 142.17 L163.6 139.6 L164.6 136.97 L165.6 134.29 L166.6 131.56 L167.6 128.77 L168.6 125.95 L169.6 123.09 L170.6 120.19 L171.6 117.27 L172.6 114.33 L173.6 111.38 L174.6 108.42 L175.6 105.46 L176.6 102.5 L177.6 99.56 L178.6 96.64 L179.6 93.74 L180.6 90.89 L181.6 88.07 L182.6 85.31 L183.6 82.6 L184.6 79.96 L185.6 77.39 L186.6 74.89 L187.6 72.49 L188.6 70.18 L189.6 67.96 L190.6 65.86 L191.6 63.86 L192.6 61.98 L193.6 60.22 L194.6 58.59 L195.6 57.1 L196.6 55.73 L197.6 54.51 L198.6 53.43 L199.6 52.49 L200.6 51.7 L201.6 51.06 L202.6 50.57 L203.6 50.23 L204.6 50.04 L205.6 50.01 L206.6 50.13 L207.6 50.43 L208.6 50.89 L209.6 51.51 L210.6 52.3 L211.6 53.26 L212.6 54.36 L213.6 55.62 L214.6 57.03 L215.6 58.57 L216.6 60.21 L217.6 61.96 L218.6 63.82 L219.6 65.78 L220.6 67.83 L221.6 69.96 L222.6 72.17 L223.6 74.46 L224.6 76.8 L225.6 79.2 L226.6 81.65 L227.6 84.14 L228.6 86.66 L229.6 89.21 L230.6 91.78 L231.6 94.37 L232.6 96.97 L233.6 99.56 L234.6 102.16 L235.6 104.75 L236.6 107.33 L237.6 109.9 L238.6 112.44 L239.6 114.96 L240.6 117.45 L241.6 119.91 L242.6 122.34 L243.6 124.73 L244.6 127.07 L245.6 129.38 L246.6 131.64 L247.6 133.86 L248.6 136.02 L249.6 138.14 L250.6 140.21 L251.6 142.23 L252.6 144.2 L253.6 146.11 L254.6 147.97 L255.6 149.78 L256.6 151.53 L257.6 153.23 L258.6 154.88 L259.6 156.47 L260.6 158.01 L261.6 159.51 L262.6 160.94 L263.6 162.33 L264.6 163.67 L265.6 164.96 L266.6 166.21 L267.6 167.4 L268.6 168.55 L269.6 169.66 L270.6 170.72" stroke="#FB6501" stroke-width="1.7" fill="none" stroke-linejoin="round" clip-path="url(#ca)"/>
<path d="M68.6 191.8 L69.6 191.8 L70.6 191.8 L71.6 191.8 L72.6 191.8 L73.6 191.8 L74.6 191.8 L75.6 191.8 L76.6 191.8 L77.6 191.8 L78.6 191.8 L79.6 191.8 L80.6 191.8 L81.6 191.8 L82.6 191.79 L83.6 191.79 L84.6 191.79 L85.6 191.79 L86.6 191.79 L87.6 191.79 L88.6 191.78 L89.6 191.78 L90.6 191.78 L91.6 191.77 L92.6 191.77 L93.6 191.76 L94.6 191.76 L95.6 191.75 L96.6 191.74 L97.6 191.73 L98.6 191.72 L99.6 191.71 L100.6 191.69 L101.6 191.67 L102.6 191.65 L103.6 191.63 L104.6 191.6 L105.6 191.57 L106.6 191.54 L107.6 191.5 L108.6 191.45 L109.6 191.4 L110.6 191.35 L111.6 191.28 L112.6 191.21 L113.6 191.13 L114.6 191.04 L115.6 190.94 L116.6 190.83 L117.6 190.71 L118.6 190.57 L119.6 190.41 L120.6 190.24 L121.6 190.06 L122.6 189.85 L123.6 189.62 L124.6 189.37 L125.6 189.1 L126.6 188.8 L127.6 188.47 L128.6 188.11 L129.6 187.72 L130.6 187.29 L131.6 186.83 L132.6 186.33 L133.6 185.79 L134.6 185.21 L135.6 184.58 L136.6 183.9 L137.6 183.17 L138.6 182.39 L139.6 181.56 L140.6 180.67 L141.6 179.72 L142.6 178.7 L143.6 177.63 L144.6 176.49 L145.6 175.28 L146.6 174 L147.6 172.65 L148.6 171.23 L149.6 169.74 L150.6 168.17 L151.6 166.53 L152.6 164.81 L153.6 163.01 L154.6 161.14 L155.6 159.19 L156.6 157.17 L157.6 155.07 L158.6 152.9 L159.6 150.66 L160.6 148.35 L161.6 145.97 L162.6 143.52 L163.6 141.01 L164.6 138.45 L165.6 135.83 L166.6 133.15 L167.6 130.43 L168.6 127.67 L169.6 124.87 L170.6 122.04 L171.6 119.18 L172.6 116.3 L173.6 113.4 L174.6 110.5 L175.6 107.6 L176.6 104.7 L177.6 101.81 L178.6 98.95 L179.6 96.1 L180.6 93.3 L181.6 90.53 L182.6 87.81 L183.6 85.15 L184.6 82.55 L185.6 80.02 L186.6 77.56 L187.6 75.19 L188.6 72.91 L189.6 70.73 L190.6 68.65 L191.6 66.67 L192.6 64.81 L193.6 63.07 L194.6 61.46 L195.6 59.97 L196.6 58.61 L197.6 57.39 L198.6 56.31 L199.6 55.37 L200.6 54.58 L201.6 53.93 L202.6 53.42 L203.6 53.07 L204.6 52.86 L205.6 52.8 L206.6 52.9 L207.6 53.16 L208.6 53.59 L209.6 54.18 L210.6 54.93 L211.6 55.84 L212.6 56.9 L213.6 58.12 L214.6 59.48 L215.6 60.98 L216.6 62.56 L217.6 64.26 L218.6 66.07 L219.6 67.97 L220.6 69.97 L221.6 72.05 L222.6 74.21 L223.6 76.43 L224.6 78.72 L225.6 81.07 L226.6 83.46 L227.6 85.89 L228.6 88.36 L229.6 90.86 L230.6 93.38 L231.6 95.91 L232.6 98.46 L233.6 101 L234.6 103.55 L235.6 106.09 L236.6 108.62 L237.6 111.14 L238.6 113.64 L239.6 116.11 L240.6 118.56 L241.6 120.97 L242.6 123.35 L243.6 125.7 L244.6 128.01 L245.6 130.28 L246.6 132.5 L247.6 134.68 L248.6 136.81 L249.6 138.89 L250.6 140.93 L251.6 142.91 L252.6 144.85 L253.6 146.73 L254.6 148.56 L255.6 150.34 L256.6 152.07 L257.6 153.74 L258.6 155.37 L259.6 156.94 L260.6 158.46 L261.6 159.93 L262.6 161.35 L263.6 162.71 L264.6 164.04 L265.6 165.31 L266.6 166.53 L267.6 167.71 L268.6 168.84 L269.6 169.93 L270.6 170.98" stroke="#6699CC" stroke-width="1.7" fill="none" stroke-linejoin="round" clip-path="url(#ca)"/>
<rect x="69.6" y="15" width="200" height="178.3" fill="none" stroke="#111" stroke-width="1.7"/>
<path d="M88.4 193.3 V196.5 M136.13 193.3 V196.5 M183.87 193.3 V196.5 M231.61 193.3 V196.5" stroke="#111" stroke-width="1.3" fill="none"/>
<path d="M112.27 193.3 V195.1 M160 193.3 V195.1 M207.74 193.3 V195.1 M255.47 193.3 V195.1" stroke="#111" stroke-width="1.3" fill="none"/>
<path d="M69.6 193.3 H66.4 M69.6 152.1 H66.4 M69.6 110.9 H66.4 M69.6 69.7 H66.4 M69.6 28.5 H66.4" stroke="#111" stroke-width="1.3" fill="none"/>
<path d="M69.6 172.7 H67.8 M69.6 131.5 H67.8 M69.6 90.3 H67.8 M69.6 49.1 H67.8" stroke="#111" stroke-width="1.3" fill="none"/>
<text x="88.4" y="207.2" font-size="11" text-anchor="middle" >570</text>
<text x="136.13" y="207.2" font-size="11" text-anchor="middle" >620</text>
<text x="183.87" y="207.2" font-size="11" text-anchor="middle" >670</text>
<text x="231.61" y="207.2" font-size="11" text-anchor="middle" >720</text>
<text x="64.5" y="197.2" font-size="11" text-anchor="end" >0.0</text>
<text x="64.5" y="156" font-size="11" text-anchor="end" >15.0k</text>
<text x="64.5" y="114.8" font-size="11" text-anchor="end" >30.0k</text>
<text x="64.5" y="73.6" font-size="11" text-anchor="end" >45.0k</text>
<text x="64.5" y="32.4" font-size="11" text-anchor="end" >60.0k</text>
<text x="169.2" y="222.3" font-size="11.3" text-anchor="middle" >Wavelength (nm)</text>
<text x="31.2" y="94.3" font-size="11.15" text-anchor="middle" transform="rotate(-90 31.2 94.3)">Photoluminescence Intensity (a.u.)</text>
<text x="4.6" y="19.6" font-size="19.5" text-anchor="start" >a</text>
<rect x="75.1" y="20.1" width="50.7" height="124.3" fill="#fff" stroke="#111" stroke-width="1.5"/>
<path d="M75.8 26.2 H96.8" stroke="#515151" stroke-width="1.9"/>
<text x="99" y="29.55" font-size="9.3" text-anchor="start" >0</text>
<path d="M75.8 37.42 H96.8" stroke="#F14040" stroke-width="1.9"/>
<text x="99" y="40.77" font-size="9.3" text-anchor="start" >1 µM</text>
<path d="M75.8 48.64 H96.8" stroke="#1A6FDF" stroke-width="1.9"/>
<text x="99" y="51.99" font-size="9.3" text-anchor="start" >2 µM</text>
<path d="M75.8 59.86 H96.8" stroke="#37AD6B" stroke-width="1.9"/>
<text x="99" y="63.21" font-size="9.3" text-anchor="start" >3 µM</text>
<path d="M75.8 71.08 H96.8" stroke="#B177DE" stroke-width="1.9"/>
<text x="99" y="74.43" font-size="9.3" text-anchor="start" >4 µM</text>
<path d="M75.8 82.3 H96.8" stroke="#CC9900" stroke-width="1.9"/>
<text x="99" y="85.65" font-size="9.3" text-anchor="start" >5 µM</text>
<path d="M75.8 93.52 H96.8" stroke="#00CBCC" stroke-width="1.9"/>
<text x="99" y="96.87" font-size="9.3" text-anchor="start" >6 µM</text>
<path d="M75.8 104.74 H96.8" stroke="#7D4E4E" stroke-width="1.9"/>
<text x="99" y="108.09" font-size="9.3" text-anchor="start" >7 µM</text>
<path d="M75.8 115.96 H96.8" stroke="#8E8E00" stroke-width="1.9"/>
<text x="99" y="119.31" font-size="9.3" text-anchor="start" >8 µM</text>
<path d="M75.8 127.18 H96.8" stroke="#FB6501" stroke-width="1.9"/>
<text x="99" y="130.53" font-size="9.3" text-anchor="start" >9 µM</text>
<path d="M75.8 138.4 H96.8" stroke="#6699CC" stroke-width="1.9"/>
<text x="99" y="141.75" font-size="9.3" text-anchor="start" >10 µM</text>
<clipPath id="cb"><rect x="334.8" y="15" width="199.9" height="178.6"/></clipPath>
<path d="M334.8 106.08 L335.55 106.45 L336.3 106.8 L337.05 106.8 L337.8 106.15 L338.55 104.69 L339.3 101.99 L340.05 97.11 L340.8 89.96 L341.55 82.09 L342.3 73.84 L343.05 67.35 L343.8 62.44 L344.55 61.03 L345.3 62.35 L346.05 64.09 L346.8 65.47 L347.55 66.97 L348.3 68.5 L349.05 70.01 L349.8 71.54 L350.55 73.07 L351.3 74.6 L352.05 76.11 L352.8 77.61 L353.55 79.11 L354.3 80.6 L355.05 82.1 L355.8 83.57 L356.55 85.02 L357.3 86.49 L358.05 88.03 L358.8 89.67 L359.55 91.4 L360.3 93.2 L361.05 95.07 L361.8 97 L362.55 99.01 L363.3 101.1 L364.05 103.25 L364.8 105.42 L365.55 107.64 L366.3 109.95 L367.05 112.25 L367.8 114.45 L368.55 116.44 L369.3 118.26 L370.05 119.98 L370.8 121.68 L371.55 123.4 L372.3 125.09 L373.05 126.7 L373.8 128.21 L374.55 129.58 L375.3 130.84 L376.05 132.02 L376.8 133.16 L377.55 134.27 L378.3 135.36 L379.05 136.4 L379.8 137.4 L380.55 138.39 L381.3 139.36 L382.05 140.3 L382.8 141.22 L383.55 142.12 L384.3 143 L385.05 143.85 L385.8 144.66 L386.55 145.47 L387.3 146.3 L388.05 147.17 L388.8 148.05 L389.55 148.93 L390.3 149.78 L391.05 150.58 L391.8 151.35 L392.55 152.09 L393.3 152.82 L394.05 153.55 L394.8 154.28 L395.55 155.01 L396.3 155.74 L397.05 156.46 L397.8 157.16 L398.55 157.83 L399.3 158.48 L400.05 159.11 L400.8 159.73 L401.55 160.33 L402.3 160.93 L403.05 161.52 L403.8 162.1 L404.55 162.68 L405.3 163.24 L406.05 163.8 L406.8 164.34 L407.55 164.88 L408.3 165.4 L409.05 165.92 L409.8 166.43 L410.55 166.92 L411.3 167.4 L412.05 167.85 L412.8 168.28 L413.55 168.69 L414.3 169.09 L415.05 169.48 L415.8 169.85 L416.55 170.22 L417.3 170.59 L418.05 170.94 L418.8 171.29 L419.55 171.62 L420.3 171.94 L421.05 172.24 L421.8 172.51 L422.55 172.76 L423.3 173.01 L424.05 173.26 L424.8 173.52 L425.55 173.82 L426.3 174.13 L427.05 174.45 L427.8 174.78 L428.55 175.1 L429.3 175.42 L430.05 175.72 L430.8 176.03 L431.55 176.33 L432.3 176.62 L433.05 176.91 L433.8 177.19 L434.55 177.46 L435.3 177.73 L436.05 177.99 L436.8 178.24 L437.55 178.48 L438.3 178.71 L439.05 178.93 L439.8 179.15 L440.55 179.35 L441.3 179.55 L442.05 179.73 L442.8 179.91 L443.55 180.08 L444.3 180.24 L445.05 180.4 L445.8 180.56 L446.55 180.72 L447.3 180.87 L448.05 181.02 L448.8 181.17 L449.55 181.31 L450.3 181.45 L451.05 181.58 L451.8 181.72 L452.55 181.84 L453.3 181.96 L454.05 182.08 L454.8 182.2 L455.55 182.31 L456.3 182.42 L457.05 182.53 L457.8 182.63 L458.55 182.74 L459.3 182.84 L460.05 182.93 L460.8 183.03 L461.55 183.12 L462.3 183.22 L463.05 183.31 L463.8 183.39 L464.55 183.48 L465.3 183.57 L466.05 183.65 L466.8 183.73 L467.55 183.82 L468.3 183.9 L469.05 183.97 L469.8 184.05 L470.55 184.12 L471.3 184.19 L472.05 184.26 L472.8 184.32 L473.55 184.39 L474.3 184.45 L475.05 184.5 L475.8 184.56 L476.55 184.61 L477.3 184.66 L478.05 184.7 L478.8 184.75 L479.55 184.79 L480.3 184.83 L481.05 184.87 L481.8 184.91 L482.55 184.95 L483.3 184.98 L484.05 185.02 L484.8 185.05 L485.55 185.09 L486.3 185.12 L487.05 185.16 L487.8 185.19 L488.55 185.23 L489.3 185.27 L490.05 185.3 L490.8 185.34 L491.55 185.38 L492.3 185.41 L493.05 185.45 L493.8 185.49 L494.55 185.53 L495.3 185.56 L496.05 185.6 L496.8 185.64 L497.55 185.67 L498.3 185.71 L499.05 185.74 L499.8 185.78 L500.55 185.81 L501.3 185.84 L502.05 185.88 L502.8 185.91 L503.55 185.94 L504.3 185.97 L505.05 186 L505.8 186.03 L506.55 186.06 L507.3 186.09 L508.05 186.12 L508.8 186.14 L509.55 186.17 L510.3 186.19 L511.05 186.22 L511.8 186.24 L512.55 186.27 L513.3 186.29 L514.05 186.32 L514.8 186.34 L515.55 186.36 L516.3 186.39 L517.05 186.41 L517.8 186.43 L518.55 186.45 L519.3 186.48 L520.05 186.5 L520.8 186.52 L521.55 186.55 L522.3 186.57 L523.05 186.59 L523.8 186.62 L524.55 186.64 L525.3 186.66 L526.05 186.68 L526.8 186.7 L527.55 186.73 L528.3 186.75 L529.05 186.77 L529.8 186.79 L530.55 186.81 L531.3 186.83 L532.05 186.86 L532.8 186.88 L533.55 186.9 L534.3 186.92 L535.05 186.94" stroke="#515151" stroke-width="1.7" fill="none" stroke-linejoin="round" clip-path="url(#cb)"/>
<path d="M334.8 102.03 L335.55 102.26 L336.3 102.44 L337.05 102.26 L337.8 101.45 L338.55 99.86 L339.3 97.09 L340.05 92.25 L340.8 84.99 L341.55 76.6 L342.3 68.33 L343.05 62.1 L343.8 57.49 L344.55 56.29 L345.3 57.68 L346.05 59.45 L346.8 60.97 L347.55 62.67 L348.3 64.36 L349.05 65.98 L349.8 67.61 L350.55 69.21 L351.3 70.77 L352.05 72.27 L352.8 73.74 L353.55 75.2 L354.3 76.66 L355.05 78.12 L355.8 79.56 L356.55 80.97 L357.3 82.41 L358.05 83.92 L358.8 85.53 L359.55 87.24 L360.3 89.03 L361.05 90.87 L361.8 92.78 L362.55 94.75 L363.3 96.77 L364.05 98.82 L364.8 100.87 L365.55 102.95 L366.3 105.09 L367.05 107.23 L367.8 109.26 L368.55 111.1 L369.3 112.77 L370.05 114.36 L370.8 115.96 L371.55 117.6 L372.3 119.25 L373.05 120.85 L373.8 122.39 L374.55 123.81 L375.3 125.14 L376.05 126.41 L376.8 127.64 L377.55 128.83 L378.3 129.95 L379.05 131.01 L379.8 132.05 L380.55 133.07 L381.3 134.11 L382.05 135.13 L382.8 136.14 L383.55 137.13 L384.3 138.13 L385.05 139.12 L385.8 140.1 L386.55 141.09 L387.3 142.1 L388.05 143.17 L388.8 144.25 L389.55 145.27 L390.3 146.23 L391.05 147.13 L391.8 147.97 L392.55 148.75 L393.3 149.5 L394.05 150.24 L394.8 150.96 L395.55 151.67 L396.3 152.37 L397.05 153.03 L397.8 153.67 L398.55 154.26 L399.3 154.83 L400.05 155.37 L400.8 155.89 L401.55 156.4 L402.3 156.9 L403.05 157.39 L403.8 157.87 L404.55 158.34 L405.3 158.81 L406.05 159.28 L406.8 159.74 L407.55 160.18 L408.3 160.63 L409.05 161.07 L409.8 161.5 L410.55 161.93 L411.3 162.35 L412.05 162.75 L412.8 163.15 L413.55 163.55 L414.3 163.96 L415.05 164.37 L415.8 164.81 L416.55 165.25 L417.3 165.71 L418.05 166.16 L418.8 166.62 L419.55 167.09 L420.3 167.55 L421.05 168 L421.8 168.43 L422.55 168.85 L423.3 169.26 L424.05 169.68 L424.8 170.12 L425.55 170.61 L426.3 171.13 L427.05 171.67 L427.8 172.2 L428.55 172.69 L429.3 173.16 L430.05 173.61 L430.8 174.06 L431.55 174.51 L432.3 174.96 L433.05 175.41 L433.8 175.85 L434.55 176.26 L435.3 176.66 L436.05 177.04 L436.8 177.41 L437.55 177.77 L438.3 178.12 L439.05 178.45 L439.8 178.74 L440.55 179.02 L441.3 179.27 L442.05 179.51 L442.8 179.73 L443.55 179.93 L444.3 180.12 L445.05 180.3 L445.8 180.47 L446.55 180.64 L447.3 180.8 L448.05 180.96 L448.8 181.11 L449.55 181.27 L450.3 181.41 L451.05 181.55 L451.8 181.68 L452.55 181.81 L453.3 181.94 L454.05 182.06 L454.8 182.18 L455.55 182.3 L456.3 182.41 L457.05 182.53 L457.8 182.63 L458.55 182.74 L459.3 182.84 L460.05 182.94 L460.8 183.04 L461.55 183.13 L462.3 183.23 L463.05 183.32 L463.8 183.4 L464.55 183.49 L465.3 183.58 L466.05 183.66 L466.8 183.74 L467.55 183.82 L468.3 183.9 L469.05 183.98 L469.8 184.05 L470.55 184.12 L471.3 184.19 L472.05 184.26 L472.8 184.33 L473.55 184.39 L474.3 184.45 L475.05 184.5 L475.8 184.56 L476.55 184.61 L477.3 184.66 L478.05 184.7 L478.8 184.75 L479.55 184.79 L480.3 184.83 L481.05 184.87 L481.8 184.91 L482.55 184.95 L483.3 184.98 L484.05 185.02 L484.8 185.06 L485.55 185.09 L486.3 185.12 L487.05 185.16 L487.8 185.19 L488.55 185.23 L489.3 185.27 L490.05 185.3 L490.8 185.34 L491.55 185.38 L492.3 185.41 L493.05 185.45 L493.8 185.49 L494.55 185.52 L495.3 185.56 L496.05 185.6 L496.8 185.63 L497.55 185.67 L498.3 185.7 L499.05 185.74 L499.8 185.77 L500.55 185.8 L501.3 185.84 L502.05 185.87 L502.8 185.9 L503.55 185.93 L504.3 185.96 L505.05 185.99 L505.8 186.02 L506.55 186.05 L507.3 186.08 L508.05 186.1 L508.8 186.13 L509.55 186.16 L510.3 186.18 L511.05 186.21 L511.8 186.23 L512.55 186.25 L513.3 186.28 L514.05 186.3 L514.8 186.32 L515.55 186.35 L516.3 186.37 L517.05 186.39 L517.8 186.41 L518.55 186.44 L519.3 186.46 L520.05 186.48 L520.8 186.51 L521.55 186.53 L522.3 186.55 L523.05 186.57 L523.8 186.59 L524.55 186.61 L525.3 186.64 L526.05 186.66 L526.8 186.68 L527.55 186.7 L528.3 186.72 L529.05 186.74 L529.8 186.76 L530.55 186.78 L531.3 186.8 L532.05 186.82 L532.8 186.84 L533.55 186.87 L534.3 186.89 L535.05 186.91" stroke="#F14040" stroke-width="1.7" fill="none" stroke-linejoin="round" clip-path="url(#cb)"/>
<path d="M334.8 97.97 L335.55 98.06 L336.3 98.04 L337.05 97.56 L337.8 96.47 L338.55 94.63 L339.3 91.66 L340.05 86.76 L340.8 79.25 L341.55 70.14 L342.3 61.72 L343.05 55.69 L343.8 51.33 L344.55 50.4 L345.3 51.9 L346.05 53.76 L346.8 55.5 L347.55 57.45 L348.3 59.37 L349.05 61.18 L349.8 62.96 L350.55 64.67 L351.3 66.28 L352.05 67.81 L352.8 69.28 L353.55 70.73 L354.3 72.17 L355.05 73.63 L355.8 75.06 L356.55 76.47 L357.3 77.91 L358.05 79.41 L358.8 81.03 L359.55 82.77 L360.3 84.57 L361.05 86.43 L361.8 88.33 L362.55 90.29 L363.3 92.27 L364.05 94.24 L364.8 96.18 L365.55 98.13 L366.3 100.14 L367.05 102.12 L367.8 104.02 L368.55 105.72 L369.3 107.26 L370.05 108.75 L370.8 110.28 L371.55 111.88 L372.3 113.52 L373.05 115.14 L373.8 116.73 L374.55 118.24 L375.3 119.67 L376.05 121.04 L376.8 122.4 L377.55 123.68 L378.3 124.86 L379.05 125.98 L379.8 127.06 L380.55 128.16 L381.3 129.28 L382.05 130.4 L382.8 131.51 L383.55 132.62 L384.3 133.75 L385.05 134.89 L385.8 136.05 L386.55 137.23 L387.3 138.42 L388.05 139.69 L388.8 140.95 L389.55 142.11 L390.3 143.2 L391.05 144.2 L391.8 145.11 L392.55 145.94 L393.3 146.73 L394.05 147.49 L394.8 148.24 L395.55 148.93 L396.3 149.59 L397.05 150.22 L397.8 150.8 L398.55 151.33 L399.3 151.82 L400.05 152.29 L400.8 152.74 L401.55 153.18 L402.3 153.6 L403.05 154 L403.8 154.39 L404.55 154.78 L405.3 155.17 L406.05 155.57 L406.8 155.95 L407.55 156.33 L408.3 156.7 L409.05 157.08 L409.8 157.45 L410.55 157.83 L411.3 158.2 L412.05 158.57 L412.8 158.94 L413.55 159.33 L414.3 159.74 L415.05 160.18 L415.8 160.66 L416.55 161.17 L417.3 161.7 L418.05 162.23 L418.8 162.79 L419.55 163.37 L420.3 163.96 L421.05 164.53 L421.8 165.09 L422.55 165.64 L423.3 166.19 L424.05 166.75 L424.8 167.33 L425.55 167.97 L426.3 168.67 L427.05 169.39 L427.8 170.08 L428.55 170.71 L429.3 171.3 L430.05 171.87 L430.8 172.44 L431.55 173.01 L432.3 173.6 L433.05 174.18 L433.8 174.74 L434.55 175.27 L435.3 175.78 L436.05 176.26 L436.8 176.72 L437.55 177.19 L438.3 177.63 L439.05 178.05 L439.8 178.41 L440.55 178.74 L441.3 179.05 L442.05 179.33 L442.8 179.58 L443.55 179.81 L444.3 180.02 L445.05 180.21 L445.8 180.4 L446.55 180.57 L447.3 180.74 L448.05 180.91 L448.8 181.07 L449.55 181.23 L450.3 181.38 L451.05 181.52 L451.8 181.66 L452.55 181.79 L453.3 181.92 L454.05 182.05 L454.8 182.17 L455.55 182.29 L456.3 182.41 L457.05 182.52 L457.8 182.63 L458.55 182.74 L459.3 182.85 L460.05 182.95 L460.8 183.05 L461.55 183.14 L462.3 183.23 L463.05 183.32 L463.8 183.41 L464.55 183.5 L465.3 183.58 L466.05 183.67 L466.8 183.75 L467.55 183.83 L468.3 183.91 L469.05 183.98 L469.8 184.06 L470.55 184.13 L471.3 184.2 L472.05 184.26 L472.8 184.33 L473.55 184.39 L474.3 184.45 L475.05 184.5 L475.8 184.56 L476.55 184.61 L477.3 184.66 L478.05 184.7 L478.8 184.75 L479.55 184.79 L480.3 184.83 L481.05 184.87 L481.8 184.91 L482.55 184.95 L483.3 184.98 L484.05 185.02 L484.8 185.06 L485.55 185.09 L486.3 185.13 L487.05 185.16 L487.8 185.19 L488.55 185.23 L489.3 185.27 L490.05 185.3 L490.8 185.34 L491.55 185.38 L492.3 185.41 L493.05 185.45 L493.8 185.49 L494.55 185.52 L495.3 185.56 L496.05 185.59 L496.8 185.63 L497.55 185.66 L498.3 185.7 L499.05 185.73 L499.8 185.77 L500.55 185.8 L501.3 185.83 L502.05 185.86 L502.8 185.89 L503.55 185.93 L504.3 185.96 L505.05 185.98 L505.8 186.01 L506.55 186.04 L507.3 186.07 L508.05 186.1 L508.8 186.12 L509.55 186.15 L510.3 186.17 L511.05 186.2 L511.8 186.22 L512.55 186.24 L513.3 186.27 L514.05 186.29 L514.8 186.31 L515.55 186.33 L516.3 186.36 L517.05 186.38 L517.8 186.4 L518.55 186.42 L519.3 186.44 L520.05 186.47 L520.8 186.49 L521.55 186.51 L522.3 186.53 L523.05 186.55 L523.8 186.57 L524.55 186.6 L525.3 186.62 L526.05 186.64 L526.8 186.66 L527.55 186.68 L528.3 186.7 L529.05 186.72 L529.8 186.74 L530.55 186.76 L531.3 186.78 L532.05 186.8 L532.8 186.82 L533.55 186.84 L534.3 186.86 L535.05 186.88" stroke="#1A6FDF" stroke-width="1.7" fill="none" stroke-linejoin="round" clip-path="url(#cb)"/>
<path d="M334.8 93.92 L335.55 93.86 L336.3 93.61 L337.05 92.75 L337.8 91.31 L338.55 89.15 L339.3 85.89 L340.05 80.86 L340.8 73.03 L341.55 63.08 L342.3 54.42 L343.05 48.54 L343.8 44.43 L344.55 43.76 L345.3 45.36 L346.05 47.3 L346.8 49.26 L347.55 51.49 L348.3 53.65 L349.05 55.64 L349.8 57.57 L350.55 59.39 L351.3 61.06 L352.05 62.59 L352.8 64.03 L353.55 65.44 L354.3 66.85 L355.05 68.28 L355.8 69.69 L356.55 71.06 L357.3 72.47 L358.05 73.95 L358.8 75.56 L359.55 77.29 L360.3 79.1 L361.05 80.93 L361.8 82.82 L362.55 84.74 L363.3 86.65 L364.05 88.5 L364.8 90.3 L365.55 92.07 L366.3 93.87 L367.05 95.66 L367.8 97.36 L368.55 98.86 L369.3 100.23 L370.05 101.57 L370.8 102.98 L371.55 104.5 L372.3 106.1 L373.05 107.73 L373.8 109.36 L374.55 110.96 L375.3 112.49 L376.05 113.99 L376.8 115.47 L377.55 116.86 L378.3 118.11 L379.05 119.26 L379.8 120.4 L380.55 121.56 L381.3 122.78 L382.05 124 L382.8 125.23 L383.55 126.48 L384.3 127.76 L385.05 129.09 L385.8 130.48 L386.55 131.88 L387.3 133.31 L388.05 134.84 L388.8 136.34 L389.55 137.67 L390.3 138.91 L391.05 140.05 L391.8 141.06 L392.55 141.94 L393.3 142.76 L394.05 143.54 L394.8 144.29 L395.55 144.96 L396.3 145.58 L397.05 146.15 L397.8 146.65 L398.55 147.08 L399.3 147.48 L400.05 147.83 L400.8 148.18 L401.55 148.51 L402.3 148.81 L403.05 149.09 L403.8 149.36 L404.55 149.63 L405.3 149.9 L406.05 150.19 L406.8 150.47 L407.55 150.74 L408.3 151.02 L409.05 151.3 L409.8 151.59 L410.55 151.89 L411.3 152.2 L412.05 152.51 L412.8 152.85 L413.55 153.21 L414.3 153.63 L415.05 154.11 L415.8 154.66 L416.55 155.26 L417.3 155.89 L418.05 156.54 L418.8 157.24 L419.55 157.98 L420.3 158.74 L421.05 159.49 L421.8 160.24 L422.55 160.99 L423.3 161.74 L424.05 162.5 L424.8 163.28 L425.55 164.15 L426.3 165.11 L427.05 166.09 L427.8 167.01 L428.55 167.84 L429.3 168.61 L430.05 169.36 L430.8 170.1 L431.55 170.85 L432.3 171.62 L433.05 172.4 L433.8 173.14 L434.55 173.84 L435.3 174.5 L436.05 175.13 L436.8 175.74 L437.55 176.34 L438.3 176.93 L439.05 177.47 L439.8 177.93 L440.55 178.35 L441.3 178.72 L442.05 179.06 L442.8 179.37 L443.55 179.64 L444.3 179.88 L445.05 180.09 L445.8 180.29 L446.55 180.48 L447.3 180.66 L448.05 180.84 L448.8 181.01 L449.55 181.17 L450.3 181.33 L451.05 181.48 L451.8 181.62 L452.55 181.76 L453.3 181.89 L454.05 182.02 L454.8 182.15 L455.55 182.28 L456.3 182.4 L457.05 182.52 L457.8 182.63 L458.55 182.74 L459.3 182.85 L460.05 182.96 L460.8 183.06 L461.55 183.15 L462.3 183.24 L463.05 183.34 L463.8 183.42 L464.55 183.51 L465.3 183.59 L466.05 183.68 L466.8 183.76 L467.55 183.84 L468.3 183.91 L469.05 183.99 L469.8 184.06 L470.55 184.13 L471.3 184.2 L472.05 184.26 L472.8 184.33 L473.55 184.39 L474.3 184.45 L475.05 184.5 L475.8 184.56 L476.55 184.61 L477.3 184.66 L478.05 184.7 L478.8 184.75 L479.55 184.79 L480.3 184.83 L481.05 184.87 L481.8 184.91 L482.55 184.95 L483.3 184.99 L484.05 185.02 L484.8 185.06 L485.55 185.09 L486.3 185.13 L487.05 185.16 L487.8 185.2 L488.55 185.23 L489.3 185.27 L490.05 185.3 L490.8 185.34 L491.55 185.38 L492.3 185.41 L493.05 185.45 L493.8 185.48 L494.55 185.52 L495.3 185.55 L496.05 185.59 L496.8 185.62 L497.55 185.66 L498.3 185.69 L499.05 185.73 L499.8 185.76 L500.55 185.79 L501.3 185.82 L502.05 185.85 L502.8 185.88 L503.55 185.91 L504.3 185.94 L505.05 185.97 L505.8 186 L506.55 186.03 L507.3 186.06 L508.05 186.08 L508.8 186.11 L509.55 186.13 L510.3 186.16 L511.05 186.18 L511.8 186.2 L512.55 186.23 L513.3 186.25 L514.05 186.27 L514.8 186.29 L515.55 186.32 L516.3 186.34 L517.05 186.36 L517.8 186.38 L518.55 186.4 L519.3 186.42 L520.05 186.44 L520.8 186.47 L521.55 186.49 L522.3 186.51 L523.05 186.53 L523.8 186.55 L524.55 186.57 L525.3 186.59 L526.05 186.61 L526.8 186.63 L527.55 186.65 L528.3 186.66 L529.05 186.68 L529.8 186.7 L530.55 186.72 L531.3 186.74 L532.05 186.76 L532.8 186.78 L533.55 186.8 L534.3 186.82 L535.05 186.84" stroke="#37AD6B" stroke-width="1.7" fill="none" stroke-linejoin="round" clip-path="url(#cb)"/>
<path d="M334.8 89.14 L335.55 88.91 L336.3 88.47 L337.05 87.43 L337.8 85.83 L338.55 83.55 L339.3 80.23 L340.05 75.29 L340.8 67.34 L341.55 56.84 L342.3 48.18 L343.05 42.63 L343.8 38.87 L344.55 38.46 L345.3 40.14 L346.05 42.13 L346.8 44.26 L347.55 46.71 L348.3 49.06 L349.05 51.18 L349.8 53.23 L350.55 55.14 L351.3 56.84 L352.05 58.37 L352.8 59.79 L353.55 61.16 L354.3 62.54 L355.05 63.94 L355.8 65.31 L356.55 66.66 L357.3 68.04 L358.05 69.49 L358.8 71.08 L359.55 72.8 L360.3 74.6 L361.05 76.42 L361.8 78.28 L362.55 80.16 L363.3 82.01 L364.05 83.77 L364.8 85.43 L365.55 87.06 L366.3 88.69 L367.05 90.3 L367.8 91.83 L368.55 93.18 L369.3 94.39 L370.05 95.6 L370.8 96.91 L371.55 98.36 L372.3 99.93 L373.05 101.55 L373.8 103.21 L374.55 104.88 L375.3 106.49 L376.05 108.08 L376.8 109.68 L377.55 111.14 L378.3 112.43 L379.05 113.63 L379.8 114.79 L380.55 116.01 L381.3 117.3 L382.05 118.61 L382.8 119.93 L383.55 121.29 L384.3 122.7 L385.05 124.18 L385.8 125.75 L386.55 127.35 L387.3 128.97 L388.05 130.71 L388.8 132.41 L389.55 133.9 L390.3 135.26 L391.05 136.5 L391.8 137.59 L392.55 138.51 L393.3 139.36 L394.05 140.16 L394.8 140.9 L395.55 141.55 L396.3 142.13 L397.05 142.65 L397.8 143.08 L398.55 143.44 L399.3 143.74 L400.05 144.01 L400.8 144.26 L401.55 144.5 L402.3 144.7 L403.05 144.87 L403.8 145.04 L404.55 145.2 L405.3 145.38 L406.05 145.58 L406.8 145.77 L407.55 145.95 L408.3 146.14 L409.05 146.34 L409.8 146.56 L410.55 146.79 L411.3 147.04 L412.05 147.31 L412.8 147.61 L413.55 147.96 L414.3 148.39 L415.05 148.9 L415.8 149.51 L416.55 150.18 L417.3 150.91 L418.05 151.66 L418.8 152.47 L419.55 153.35 L420.3 154.27 L421.05 155.17 L421.8 156.08 L422.55 157 L423.3 157.92 L424.05 158.85 L424.8 159.8 L425.55 160.88 L426.3 162.05 L427.05 163.25 L427.8 164.37 L428.55 165.37 L429.3 166.31 L430.05 167.2 L430.8 168.09 L431.55 169 L432.3 169.93 L433.05 170.86 L433.8 171.77 L434.55 172.62 L435.3 173.41 L436.05 174.16 L436.8 174.89 L437.55 175.62 L438.3 176.33 L439.05 176.98 L439.8 177.52 L440.55 178 L441.3 178.44 L442.05 178.83 L442.8 179.18 L443.55 179.49 L444.3 179.75 L445.05 179.99 L445.8 180.2 L446.55 180.39 L447.3 180.59 L448.05 180.78 L448.8 180.96 L449.55 181.13 L450.3 181.29 L451.05 181.44 L451.8 181.59 L452.55 181.73 L453.3 181.87 L454.05 182 L454.8 182.14 L455.55 182.26 L456.3 182.39 L457.05 182.51 L457.8 182.63 L458.55 182.75 L459.3 182.86 L460.05 182.96 L460.8 183.06 L461.55 183.16 L462.3 183.25 L463.05 183.35 L463.8 183.43 L464.55 183.52 L465.3 183.6 L466.05 183.69 L466.8 183.77 L467.55 183.84 L468.3 183.92 L469.05 183.99 L469.8 184.06 L470.55 184.13 L471.3 184.2 L472.05 184.27 L472.8 184.33 L473.55 184.39 L474.3 184.45 L475.05 184.5 L475.8 184.56 L476.55 184.61 L477.3 184.66 L478.05 184.7 L478.8 184.75 L479.55 184.79 L480.3 184.83 L481.05 184.87 L481.8 184.91 L482.55 184.95 L483.3 184.99 L484.05 185.02 L484.8 185.06 L485.55 185.09 L486.3 185.13 L487.05 185.16 L487.8 185.2 L488.55 185.23 L489.3 185.27 L490.05 185.3 L490.8 185.34 L491.55 185.38 L492.3 185.41 L493.05 185.45 L493.8 185.48 L494.55 185.52 L495.3 185.55 L496.05 185.59 L496.8 185.62 L497.55 185.65 L498.3 185.69 L499.05 185.72 L499.8 185.75 L500.55 185.78 L501.3 185.82 L502.05 185.85 L502.8 185.88 L503.55 185.91 L504.3 185.94 L505.05 185.96 L505.8 185.99 L506.55 186.02 L507.3 186.04 L508.05 186.07 L508.8 186.1 L509.55 186.12 L510.3 186.14 L511.05 186.17 L511.8 186.19 L512.55 186.21 L513.3 186.23 L514.05 186.26 L514.8 186.28 L515.55 186.3 L516.3 186.32 L517.05 186.34 L517.8 186.36 L518.55 186.38 L519.3 186.4 L520.05 186.42 L520.8 186.45 L521.55 186.47 L522.3 186.49 L523.05 186.51 L523.8 186.52 L524.55 186.54 L525.3 186.56 L526.05 186.58 L526.8 186.6 L527.55 186.62 L528.3 186.64 L529.05 186.65 L529.8 186.67 L530.55 186.69 L531.3 186.71 L532.05 186.73 L532.8 186.74 L533.55 186.76 L534.3 186.78 L535.05 186.8" stroke="#B177DE" stroke-width="1.7" fill="none" stroke-linejoin="round" clip-path="url(#cb)"/>
<path d="M334.8 84.51 L335.55 84.12 L336.3 83.52 L337.05 82.32 L337.8 80.6 L338.55 78.23 L339.3 74.88 L340.05 70.04 L340.8 62.02 L341.55 51.02 L342.3 42.39 L343.05 37.16 L343.8 33.77 L344.55 33.58 L345.3 35.32 L346.05 37.35 L346.8 39.62 L347.55 42.27 L348.3 44.78 L349.05 47.02 L349.8 49.17 L350.55 51.14 L351.3 52.86 L352.05 54.38 L352.8 55.77 L353.55 57.1 L354.3 58.42 L355.05 59.79 L355.8 61.12 L356.55 62.43 L357.3 63.76 L358.05 65.18 L358.8 66.74 L359.55 68.44 L360.3 70.22 L361.05 72.01 L361.8 73.83 L362.55 75.67 L363.3 77.45 L364.05 79.1 L364.8 80.63 L365.55 82.1 L366.3 83.56 L367.05 84.98 L367.8 86.34 L368.55 87.51 L369.3 88.57 L370.05 89.63 L370.8 90.83 L371.55 92.21 L372.3 93.72 L373.05 95.32 L373.8 97.01 L374.55 98.73 L375.3 100.42 L376.05 102.1 L376.8 103.79 L377.55 105.33 L378.3 106.66 L379.05 107.87 L379.8 109.06 L380.55 110.32 L381.3 111.68 L382.05 113.06 L382.8 114.48 L383.55 115.94 L384.3 117.47 L385.05 119.1 L385.8 120.84 L386.55 122.64 L387.3 124.46 L388.05 126.41 L388.8 128.31 L389.55 129.94 L390.3 131.43 L391.05 132.78 L391.8 133.94 L392.55 134.9 L393.3 135.77 L394.05 136.57 L394.8 137.3 L395.55 137.93 L396.3 138.47 L397.05 138.93 L397.8 139.29 L398.55 139.57 L399.3 139.78 L400.05 139.95 L400.8 140.1 L401.55 140.24 L402.3 140.33 L403.05 140.4 L403.8 140.45 L404.55 140.5 L405.3 140.58 L406.05 140.68 L406.8 140.77 L407.55 140.86 L408.3 140.96 L409.05 141.08 L409.8 141.21 L410.55 141.38 L411.3 141.57 L412.05 141.79 L412.8 142.05 L413.55 142.39 L414.3 142.82 L415.05 143.37 L415.8 144.04 L416.55 144.79 L417.3 145.62 L418.05 146.47 L418.8 147.41 L419.55 148.44 L420.3 149.51 L421.05 150.58 L421.8 151.66 L422.55 152.76 L423.3 153.87 L424.05 154.97 L424.8 156.11 L425.55 157.39 L426.3 158.81 L427.05 160.24 L427.8 161.57 L428.55 162.76 L429.3 163.86 L430.05 164.91 L430.8 165.95 L431.55 167.02 L432.3 168.13 L433.05 169.24 L433.8 170.31 L434.55 171.31 L435.3 172.25 L436.05 173.13 L436.8 173.99 L437.55 174.85 L438.3 175.69 L439.05 176.45 L439.8 177.08 L440.55 177.64 L441.3 178.14 L442.05 178.59 L442.8 178.98 L443.55 179.33 L444.3 179.62 L445.05 179.88 L445.8 180.1 L446.55 180.31 L447.3 180.51 L448.05 180.71 L448.8 180.9 L449.55 181.08 L450.3 181.25 L451.05 181.41 L451.8 181.56 L452.55 181.7 L453.3 181.84 L454.05 181.98 L454.8 182.12 L455.55 182.25 L456.3 182.38 L457.05 182.51 L457.8 182.63 L458.55 182.75 L459.3 182.86 L460.05 182.97 L460.8 183.07 L461.55 183.17 L462.3 183.26 L463.05 183.36 L463.8 183.44 L464.55 183.53 L465.3 183.61 L466.05 183.7 L466.8 183.77 L467.55 183.85 L468.3 183.93 L469.05 184 L469.8 184.07 L470.55 184.14 L471.3 184.2 L472.05 184.27 L472.8 184.33 L473.55 184.39 L474.3 184.45 L475.05 184.5 L475.8 184.56 L476.55 184.61 L477.3 184.66 L478.05 184.7 L478.8 184.75 L479.55 184.79 L480.3 184.83 L481.05 184.87 L481.8 184.91 L482.55 184.95 L483.3 184.99 L484.05 185.02 L484.8 185.06 L485.55 185.09 L486.3 185.13 L487.05 185.16 L487.8 185.2 L488.55 185.23 L489.3 185.27 L490.05 185.3 L490.8 185.34 L491.55 185.37 L492.3 185.41 L493.05 185.45 L493.8 185.48 L494.55 185.51 L495.3 185.55 L496.05 185.58 L496.8 185.62 L497.55 185.65 L498.3 185.68 L499.05 185.71 L499.8 185.75 L500.55 185.78 L501.3 185.81 L502.05 185.84 L502.8 185.87 L503.55 185.9 L504.3 185.93 L505.05 185.95 L505.8 185.98 L506.55 186.01 L507.3 186.03 L508.05 186.06 L508.8 186.08 L509.55 186.11 L510.3 186.13 L511.05 186.15 L511.8 186.18 L512.55 186.2 L513.3 186.22 L514.05 186.24 L514.8 186.26 L515.55 186.28 L516.3 186.3 L517.05 186.32 L517.8 186.34 L518.55 186.36 L519.3 186.38 L520.05 186.4 L520.8 186.42 L521.55 186.44 L522.3 186.46 L523.05 186.48 L523.8 186.5 L524.55 186.52 L525.3 186.54 L526.05 186.55 L526.8 186.57 L527.55 186.59 L528.3 186.61 L529.05 186.62 L529.8 186.64 L530.55 186.66 L531.3 186.67 L532.05 186.69 L532.8 186.71 L533.55 186.73 L534.3 186.74 L535.05 186.76" stroke="#CC9900" stroke-width="1.7" fill="none" stroke-linejoin="round" clip-path="url(#cb)"/>
<path d="M334.8 79.77 L335.55 79.21 L336.3 78.52 L337.05 77.35 L337.8 75.72 L338.55 73.47 L339.3 70.3 L340.05 65.76 L340.8 57.88 L341.55 46.73 L342.3 38.35 L343.05 33.57 L343.8 30.62 L344.55 30.6 L345.3 32.33 L346.05 34.35 L346.8 36.68 L347.55 39.41 L348.3 41.99 L349.05 44.27 L349.8 46.46 L350.55 48.45 L351.3 50.15 L352.05 51.63 L352.8 52.97 L353.55 54.23 L354.3 55.49 L355.05 56.8 L355.8 58.07 L356.55 59.31 L357.3 60.58 L358.05 61.94 L358.8 63.44 L359.55 65.09 L360.3 66.82 L361.05 68.54 L361.8 70.3 L362.55 72.08 L363.3 73.78 L364.05 75.33 L364.8 76.73 L365.55 78.05 L366.3 79.34 L367.05 80.6 L367.8 81.79 L368.55 82.79 L369.3 83.68 L370.05 84.59 L370.8 85.67 L371.55 86.95 L372.3 88.4 L373.05 89.96 L373.8 91.64 L374.55 93.38 L375.3 95.11 L376.05 96.83 L376.8 98.58 L377.55 100.16 L378.3 101.49 L379.05 102.7 L379.8 103.88 L380.55 105.15 L381.3 106.54 L382.05 107.97 L382.8 109.44 L383.55 110.98 L384.3 112.59 L385.05 114.34 L385.8 116.23 L386.55 118.18 L387.3 120.16 L388.05 122.3 L388.8 124.37 L389.55 126.12 L390.3 127.72 L391.05 129.15 L391.8 130.36 L392.55 131.34 L393.3 132.22 L394.05 133.01 L394.8 133.71 L395.55 134.31 L396.3 134.81 L397.05 135.22 L397.8 135.51 L398.55 135.7 L399.3 135.81 L400.05 135.88 L400.8 135.93 L401.55 135.98 L402.3 135.97 L403.05 135.92 L403.8 135.86 L404.55 135.8 L405.3 135.77 L406.05 135.78 L406.8 135.77 L407.55 135.77 L408.3 135.78 L409.05 135.81 L409.8 135.87 L410.55 135.96 L411.3 136.09 L412.05 136.26 L412.8 136.49 L413.55 136.81 L414.3 137.25 L415.05 137.83 L415.8 138.56 L416.55 139.41 L417.3 140.33 L418.05 141.29 L418.8 142.35 L419.55 143.53 L420.3 144.76 L421.05 145.99 L421.8 147.25 L422.55 148.53 L423.3 149.81 L424.05 151.1 L424.8 152.42 L425.55 153.91 L426.3 155.56 L427.05 157.22 L427.8 158.77 L428.55 160.14 L429.3 161.41 L430.05 162.62 L430.8 163.82 L431.55 165.05 L432.3 166.33 L433.05 167.61 L433.8 168.85 L434.55 170.01 L435.3 171.08 L436.05 172.1 L436.8 173.09 L437.55 174.08 L438.3 175.05 L439.05 175.92 L439.8 176.65 L440.55 177.28 L441.3 177.84 L442.05 178.35 L442.8 178.79 L443.55 179.17 L444.3 179.49 L445.05 179.76 L445.8 180 L446.55 180.22 L447.3 180.43 L448.05 180.65 L448.8 180.85 L449.55 181.03 L450.3 181.21 L451.05 181.37 L451.8 181.52 L452.55 181.67 L453.3 181.82 L454.05 181.96 L454.8 182.1 L455.55 182.24 L456.3 182.37 L457.05 182.5 L457.8 182.63 L458.55 182.75 L459.3 182.87 L460.05 182.98 L460.8 183.08 L461.55 183.18 L462.3 183.27 L463.05 183.37 L463.8 183.45 L464.55 183.54 L465.3 183.62 L466.05 183.7 L466.8 183.78 L467.55 183.86 L468.3 183.93 L469.05 184 L469.8 184.07 L470.55 184.14 L471.3 184.21 L472.05 184.27 L472.8 184.33 L473.55 184.39 L474.3 184.45 L475.05 184.5 L475.8 184.56 L476.55 184.61 L477.3 184.66 L478.05 184.7 L478.8 184.75 L479.55 184.79 L480.3 184.83 L481.05 184.87 L481.8 184.91 L482.55 184.95 L483.3 184.99 L484.05 185.02 L484.8 185.06 L485.55 185.09 L486.3 185.13 L487.05 185.16 L487.8 185.2 L488.55 185.23 L489.3 185.27 L490.05 185.3 L490.8 185.34 L491.55 185.37 L492.3 185.41 L493.05 185.44 L493.8 185.48 L494.55 185.51 L495.3 185.55 L496.05 185.58 L496.8 185.61 L497.55 185.65 L498.3 185.68 L499.05 185.71 L499.8 185.74 L500.55 185.77 L501.3 185.8 L502.05 185.83 L502.8 185.86 L503.55 185.89 L504.3 185.92 L505.05 185.94 L505.8 185.97 L506.55 186 L507.3 186.02 L508.05 186.05 L508.8 186.07 L509.55 186.09 L510.3 186.12 L511.05 186.14 L511.8 186.16 L512.55 186.18 L513.3 186.2 L514.05 186.22 L514.8 186.25 L515.55 186.27 L516.3 186.29 L517.05 186.31 L517.8 186.33 L518.55 186.34 L519.3 186.36 L520.05 186.38 L520.8 186.4 L521.55 186.42 L522.3 186.44 L523.05 186.46 L523.8 186.48 L524.55 186.49 L525.3 186.51 L526.05 186.53 L526.8 186.54 L527.55 186.56 L528.3 186.58 L529.05 186.59 L529.8 186.61 L530.55 186.62 L531.3 186.64 L532.05 186.66 L532.8 186.67 L533.55 186.69 L534.3 186.7 L535.05 186.72" stroke="#00CBCC" stroke-width="1.7" fill="none" stroke-linejoin="round" clip-path="url(#cb)"/>
<path d="M334.8 74.9 L335.55 74.18 L336.3 73.39 L337.05 72.27 L337.8 70.73 L338.55 68.61 L339.3 65.64 L340.05 61.4 L340.8 53.69 L341.55 42.4 L342.3 34.28 L343.05 29.96 L343.8 27.46 L344.55 27.61 L345.3 29.34 L346.05 31.34 L346.8 33.73 L347.55 36.54 L348.3 39.2 L349.05 41.52 L349.8 43.74 L350.55 45.74 L351.3 47.43 L352.05 48.86 L352.8 50.14 L353.55 51.34 L354.3 52.54 L355.05 53.78 L355.8 54.99 L356.55 56.16 L357.3 57.37 L358.05 58.66 L358.8 60.1 L359.55 61.7 L360.3 63.38 L361.05 65.04 L361.8 66.73 L362.55 68.44 L363.3 70.07 L364.05 71.51 L364.8 72.78 L365.55 73.95 L366.3 75.07 L367.05 76.15 L367.8 77.17 L368.55 78 L369.3 78.72 L370.05 79.49 L370.8 80.44 L371.55 81.63 L372.3 83 L373.05 84.52 L373.8 86.19 L374.55 87.95 L375.3 89.71 L376.05 91.48 L376.8 93.29 L377.55 94.9 L378.3 96.24 L379.05 97.44 L379.8 98.62 L380.55 99.9 L381.3 101.33 L382.05 102.8 L382.8 104.33 L383.55 105.93 L384.3 107.63 L385.05 109.5 L385.8 111.53 L386.55 113.65 L387.3 115.79 L388.05 118.11 L388.8 120.35 L389.55 122.23 L390.3 123.93 L391.05 125.45 L391.8 126.72 L392.55 127.72 L393.3 128.6 L394.05 129.37 L394.8 130.05 L395.55 130.62 L396.3 131.08 L397.05 131.43 L397.8 131.65 L398.55 131.75 L399.3 131.77 L400.05 131.74 L400.8 131.69 L401.55 131.64 L402.3 131.52 L403.05 131.36 L403.8 131.18 L404.55 131.01 L405.3 130.88 L406.05 130.78 L406.8 130.68 L407.55 130.58 L408.3 130.5 L409.05 130.45 L409.8 130.42 L410.55 130.44 L411.3 130.51 L412.05 130.63 L412.8 130.83 L413.55 131.13 L414.3 131.58 L415.05 132.19 L415.8 132.99 L416.55 133.91 L417.3 134.93 L418.05 136 L418.8 137.19 L419.55 138.52 L420.3 139.92 L421.05 141.31 L421.8 142.74 L422.55 144.2 L423.3 145.68 L424.05 147.14 L424.8 148.66 L425.55 150.37 L426.3 152.25 L427.05 154.15 L427.8 155.92 L428.55 157.47 L429.3 158.91 L430.05 160.28 L430.8 161.64 L431.55 163.04 L432.3 164.5 L433.05 165.96 L433.8 167.37 L434.55 168.68 L435.3 169.9 L436.05 171.06 L436.8 172.17 L437.55 173.3 L438.3 174.4 L439.05 175.39 L439.8 176.2 L440.55 176.91 L441.3 177.54 L442.05 178.1 L442.8 178.59 L443.55 179.01 L444.3 179.36 L445.05 179.65 L445.8 179.9 L446.55 180.13 L447.3 180.36 L448.05 180.58 L448.8 180.79 L449.55 180.98 L450.3 181.16 L451.05 181.33 L451.8 181.49 L452.55 181.64 L453.3 181.79 L454.05 181.94 L454.8 182.08 L455.55 182.23 L456.3 182.36 L457.05 182.5 L457.8 182.63 L458.55 182.75 L459.3 182.87 L460.05 182.98 L460.8 183.09 L461.55 183.19 L462.3 183.29 L463.05 183.38 L463.8 183.47 L464.55 183.55 L465.3 183.63 L466.05 183.71 L466.8 183.79 L467.55 183.87 L468.3 183.94 L469.05 184.01 L469.8 184.08 L470.55 184.14 L471.3 184.21 L472.05 184.27 L472.8 184.33 L473.55 184.39 L474.3 184.45 L475.05 184.5 L475.8 184.56 L476.55 184.61 L477.3 184.66 L478.05 184.7 L478.8 184.75 L479.55 184.79 L480.3 184.83 L481.05 184.87 L481.8 184.91 L482.55 184.95 L483.3 184.99 L484.05 185.02 L484.8 185.06 L485.55 185.09 L486.3 185.13 L487.05 185.16 L487.8 185.2 L488.55 185.23 L489.3 185.27 L490.05 185.3 L490.8 185.34 L491.55 185.37 L492.3 185.41 L493.05 185.44 L493.8 185.48 L494.55 185.51 L495.3 185.54 L496.05 185.58 L496.8 185.61 L497.55 185.64 L498.3 185.67 L499.05 185.7 L499.8 185.73 L500.55 185.76 L501.3 185.79 L502.05 185.82 L502.8 185.85 L503.55 185.88 L504.3 185.91 L505.05 185.93 L505.8 185.96 L506.55 185.98 L507.3 186.01 L508.05 186.03 L508.8 186.06 L509.55 186.08 L510.3 186.1 L511.05 186.12 L511.8 186.15 L512.55 186.17 L513.3 186.19 L514.05 186.21 L514.8 186.23 L515.55 186.25 L516.3 186.27 L517.05 186.29 L517.8 186.31 L518.55 186.33 L519.3 186.34 L520.05 186.36 L520.8 186.38 L521.55 186.4 L522.3 186.42 L523.05 186.43 L523.8 186.45 L524.55 186.47 L525.3 186.48 L526.05 186.5 L526.8 186.51 L527.55 186.53 L528.3 186.55 L529.05 186.56 L529.8 186.58 L530.55 186.59 L531.3 186.61 L532.05 186.62 L532.8 186.64 L533.55 186.65 L534.3 186.67 L535.05 186.68" stroke="#7D4E4E" stroke-width="1.7" fill="none" stroke-linejoin="round" clip-path="url(#cb)"/>
<path d="M334.8 71.58 L335.55 70.73 L336.3 69.87 L337.05 68.76 L337.8 67.26 L338.55 65.22 L339.3 62.35 L340.05 58.3 L340.8 50.67 L341.55 39.24 L342.3 31.27 L343.05 27.25 L343.8 25.06 L344.55 25.3 L345.3 27.02 L346.05 28.98 L346.8 31.39 L347.55 34.25 L348.3 36.94 L349.05 39.28 L349.8 41.51 L350.55 43.5 L351.3 45.16 L352.05 46.54 L352.8 47.76 L353.55 48.88 L354.3 50 L355.05 51.18 L355.8 52.31 L356.55 53.41 L357.3 54.54 L358.05 55.76 L358.8 57.13 L359.55 58.66 L360.3 60.27 L361.05 61.86 L361.8 63.48 L362.55 65.12 L363.3 66.67 L364.05 68 L364.8 69.14 L365.55 70.16 L366.3 71.11 L367.05 72.01 L367.8 72.86 L368.55 73.51 L369.3 74.07 L370.05 74.69 L370.8 75.51 L371.55 76.59 L372.3 77.89 L373.05 79.35 L373.8 81 L374.55 82.77 L375.3 84.55 L376.05 86.34 L376.8 88.21 L377.55 89.84 L378.3 91.17 L379.05 92.35 L379.8 93.52 L380.55 94.8 L381.3 96.25 L382.05 97.75 L382.8 99.32 L383.55 100.98 L384.3 102.76 L385.05 104.73 L385.8 106.9 L386.55 109.17 L387.3 111.46 L388.05 113.96 L388.8 116.37 L389.55 118.36 L390.3 120.16 L391.05 121.75 L391.8 123.07 L392.55 124.08 L393.3 124.95 L394.05 125.71 L394.8 126.36 L395.55 126.89 L396.3 127.31 L397.05 127.61 L397.8 127.75 L398.55 127.77 L399.3 127.69 L400.05 127.56 L400.8 127.41 L401.55 127.26 L402.3 127.03 L403.05 126.75 L403.8 126.46 L404.55 126.17 L405.3 125.93 L406.05 125.74 L406.8 125.54 L407.55 125.35 L408.3 125.17 L409.05 125.03 L409.8 124.92 L410.55 124.87 L411.3 124.88 L412.05 124.95 L412.8 125.11 L413.55 125.39 L414.3 125.85 L415.05 126.5 L415.8 127.36 L416.55 128.37 L417.3 129.48 L418.05 130.66 L418.8 131.98 L419.55 133.47 L420.3 135.03 L421.05 136.59 L421.8 138.2 L422.55 139.84 L423.3 141.51 L424.05 143.16 L424.8 144.87 L425.55 146.78 L426.3 148.91 L427.05 151.05 L427.8 153.04 L428.55 154.78 L429.3 156.39 L430.05 157.92 L430.8 159.44 L431.55 161.01 L432.3 162.64 L433.05 164.28 L433.8 165.87 L434.55 167.34 L435.3 168.71 L436.05 170 L436.8 171.25 L437.55 172.5 L438.3 173.74 L439.05 174.85 L439.8 175.75 L440.55 176.54 L441.3 177.23 L442.05 177.85 L442.8 178.38 L443.55 178.84 L444.3 179.22 L445.05 179.54 L445.8 179.8 L446.55 180.04 L447.3 180.28 L448.05 180.51 L448.8 180.73 L449.55 180.93 L450.3 181.12 L451.05 181.29 L451.8 181.46 L452.55 181.61 L453.3 181.76 L454.05 181.92 L454.8 182.07 L455.55 182.21 L456.3 182.35 L457.05 182.49 L457.8 182.63 L458.55 182.75 L459.3 182.88 L460.05 182.99 L460.8 183.1 L461.55 183.2 L462.3 183.3 L463.05 183.39 L463.8 183.48 L464.55 183.56 L465.3 183.64 L466.05 183.72 L466.8 183.8 L467.55 183.87 L468.3 183.95 L469.05 184.02 L469.8 184.08 L470.55 184.15 L471.3 184.21 L472.05 184.27 L472.8 184.33 L473.55 184.39 L474.3 184.45 L475.05 184.5 L475.8 184.56 L476.55 184.61 L477.3 184.66 L478.05 184.7 L478.8 184.75 L479.55 184.79 L480.3 184.83 L481.05 184.87 L481.8 184.91 L482.55 184.95 L483.3 184.99 L484.05 185.02 L484.8 185.06 L485.55 185.09 L486.3 185.13 L487.05 185.16 L487.8 185.2 L488.55 185.23 L489.3 185.27 L490.05 185.3 L490.8 185.34 L491.55 185.37 L492.3 185.41 L493.05 185.44 L493.8 185.47 L494.55 185.51 L495.3 185.54 L496.05 185.57 L496.8 185.6 L497.55 185.64 L498.3 185.67 L499.05 185.7 L499.8 185.73 L500.55 185.76 L501.3 185.79 L502.05 185.81 L502.8 185.84 L503.55 185.87 L504.3 185.9 L505.05 185.92 L505.8 185.95 L506.55 185.97 L507.3 186 L508.05 186.02 L508.8 186.04 L509.55 186.07 L510.3 186.09 L511.05 186.11 L511.8 186.13 L512.55 186.15 L513.3 186.17 L514.05 186.19 L514.8 186.21 L515.55 186.23 L516.3 186.25 L517.05 186.27 L517.8 186.29 L518.55 186.31 L519.3 186.32 L520.05 186.34 L520.8 186.36 L521.55 186.38 L522.3 186.39 L523.05 186.41 L523.8 186.42 L524.55 186.44 L525.3 186.46 L526.05 186.47 L526.8 186.49 L527.55 186.5 L528.3 186.51 L529.05 186.53 L529.8 186.54 L530.55 186.56 L531.3 186.57 L532.05 186.58 L532.8 186.6 L533.55 186.61 L534.3 186.63 L535.05 186.64" stroke="#8E8E00" stroke-width="1.7" fill="none" stroke-linejoin="round" clip-path="url(#cb)"/>
<path d="M334.8 68.26 L335.55 67.29 L336.3 66.3 L337.05 65.06 L337.8 63.45 L338.55 61.32 L339.3 58.42 L340.05 54.42 L340.8 46.71 L341.55 34.89 L342.3 26.92 L343.05 23.13 L343.8 21.19 L344.55 21.6 L345.3 23.34 L346.05 25.33 L346.8 27.83 L347.55 30.83 L348.3 33.64 L349.05 36.06 L349.8 38.35 L350.55 40.39 L351.3 42.05 L352.05 43.42 L352.8 44.6 L353.55 45.68 L354.3 46.76 L355.05 47.89 L355.8 48.98 L356.55 50.04 L357.3 51.13 L358.05 52.3 L358.8 53.64 L359.55 55.15 L360.3 56.73 L361.05 58.28 L361.8 59.86 L362.55 61.45 L363.3 62.94 L364.05 64.18 L364.8 65.2 L365.55 66.09 L366.3 66.89 L367.05 67.64 L367.8 68.33 L368.55 68.84 L369.3 69.26 L370.05 69.75 L370.8 70.47 L371.55 71.48 L372.3 72.72 L373.05 74.16 L373.8 75.83 L374.55 77.63 L375.3 79.47 L376.05 81.32 L376.8 83.26 L377.55 84.95 L378.3 86.3 L379.05 87.49 L379.8 88.67 L380.55 89.98 L381.3 91.48 L382.05 93.03 L382.8 94.67 L383.55 96.42 L384.3 98.29 L385.05 100.38 L385.8 102.7 L386.55 105.12 L387.3 107.58 L388.05 110.25 L388.8 112.83 L389.55 114.94 L390.3 116.84 L391.05 118.52 L391.8 119.9 L392.55 120.94 L393.3 121.83 L394.05 122.59 L394.8 123.22 L395.55 123.72 L396.3 124.11 L397.05 124.36 L397.8 124.44 L398.55 124.39 L399.3 124.23 L400.05 124.01 L400.8 123.78 L401.55 123.53 L402.3 123.22 L403.05 122.84 L403.8 122.45 L404.55 122.07 L405.3 121.73 L406.05 121.46 L406.8 121.17 L407.55 120.9 L408.3 120.65 L409.05 120.43 L409.8 120.26 L410.55 120.14 L411.3 120.1 L412.05 120.12 L412.8 120.25 L413.55 120.52 L414.3 120.98 L415.05 121.67 L415.8 122.57 L416.55 123.66 L417.3 124.86 L418.05 126.13 L418.8 127.56 L419.55 129.18 L420.3 130.88 L421.05 132.58 L421.8 134.34 L422.55 136.14 L423.3 137.96 L424.05 139.77 L424.8 141.64 L425.55 143.74 L426.3 146.07 L427.05 148.42 L427.8 150.6 L428.55 152.49 L429.3 154.25 L430.05 155.92 L430.8 157.58 L431.55 159.29 L432.3 161.07 L433.05 162.86 L433.8 164.59 L434.55 166.2 L435.3 167.69 L436.05 169.1 L436.8 170.46 L437.55 171.83 L438.3 173.18 L439.05 174.39 L439.8 175.37 L440.55 176.22 L441.3 176.97 L442.05 177.64 L442.8 178.21 L443.55 178.71 L444.3 179.11 L445.05 179.44 L445.8 179.72 L446.55 179.97 L447.3 180.21 L448.05 180.46 L448.8 180.68 L449.55 180.89 L450.3 181.08 L451.05 181.26 L451.8 181.43 L452.55 181.59 L453.3 181.74 L454.05 181.9 L454.8 182.05 L455.55 182.2 L456.3 182.35 L457.05 182.49 L457.8 182.63 L458.55 182.76 L459.3 182.88 L460.05 183 L460.8 183.11 L461.55 183.21 L462.3 183.3 L463.05 183.4 L463.8 183.49 L464.55 183.57 L465.3 183.65 L466.05 183.73 L466.8 183.81 L467.55 183.88 L468.3 183.95 L469.05 184.02 L469.8 184.09 L470.55 184.15 L471.3 184.21 L472.05 184.27 L472.8 184.33 L473.55 184.39 L474.3 184.45 L475.05 184.5 L475.8 184.56 L476.55 184.61 L477.3 184.66 L478.05 184.7 L478.8 184.75 L479.55 184.79 L480.3 184.83 L481.05 184.88 L481.8 184.91 L482.55 184.95 L483.3 184.99 L484.05 185.03 L484.8 185.06 L485.55 185.1 L486.3 185.13 L487.05 185.16 L487.8 185.2 L488.55 185.23 L489.3 185.27 L490.05 185.3 L490.8 185.34 L491.55 185.37 L492.3 185.41 L493.05 185.44 L493.8 185.47 L494.55 185.51 L495.3 185.54 L496.05 185.57 L496.8 185.6 L497.55 185.63 L498.3 185.66 L499.05 185.69 L499.8 185.72 L500.55 185.75 L501.3 185.78 L502.05 185.81 L502.8 185.83 L503.55 185.86 L504.3 185.89 L505.05 185.91 L505.8 185.94 L506.55 185.96 L507.3 185.99 L508.05 186.01 L508.8 186.03 L509.55 186.05 L510.3 186.08 L511.05 186.1 L511.8 186.12 L512.55 186.14 L513.3 186.16 L514.05 186.18 L514.8 186.2 L515.55 186.22 L516.3 186.23 L517.05 186.25 L517.8 186.27 L518.55 186.29 L519.3 186.31 L520.05 186.32 L520.8 186.34 L521.55 186.36 L522.3 186.37 L523.05 186.39 L523.8 186.4 L524.55 186.42 L525.3 186.43 L526.05 186.45 L526.8 186.46 L527.55 186.47 L528.3 186.49 L529.05 186.5 L529.8 186.51 L530.55 186.53 L531.3 186.54 L532.05 186.55 L532.8 186.57 L533.55 186.58 L534.3 186.59 L535.05 186.61" stroke="#FB6501" stroke-width="1.7" fill="none" stroke-linejoin="round" clip-path="url(#cb)"/>
<path d="M334.8 65.54 L335.55 64.48 L336.3 63.35 L337.05 61.89 L337.8 60.07 L338.55 57.76 L339.3 54.7 L340.05 50.65 L340.8 42.76 L341.55 30.43 L342.3 22.34 L343.05 18.67 L343.8 16.9 L344.55 17.45 L345.3 19.22 L346.05 21.22 L346.8 23.83 L347.55 26.97 L348.3 29.9 L349.05 32.41 L349.8 34.77 L350.55 36.85 L351.3 38.52 L352.05 39.85 L352.8 40.99 L353.55 42.01 L354.3 43.03 L355.05 44.11 L355.8 45.14 L356.55 46.14 L357.3 47.17 L358.05 48.3 L358.8 49.58 L359.55 51.05 L360.3 52.6 L361.05 54.1 L361.8 55.62 L362.55 57.16 L363.3 58.57 L364.05 59.7 L364.8 60.58 L365.55 61.31 L366.3 61.92 L367.05 62.48 L367.8 62.99 L368.55 63.32 L369.3 63.56 L370.05 63.89 L370.8 64.49 L371.55 65.41 L372.3 66.59 L373.05 68 L373.8 69.67 L374.55 71.51 L375.3 73.4 L376.05 75.33 L376.8 77.35 L377.55 79.1 L378.3 80.47 L379.05 81.67 L379.8 82.86 L380.55 84.2 L381.3 85.75 L382.05 87.37 L382.8 89.08 L383.55 90.92 L384.3 92.9 L385.05 95.13 L385.8 97.62 L386.55 100.23 L387.3 102.88 L388.05 105.76 L388.8 108.54 L389.55 110.8 L390.3 112.81 L391.05 114.59 L391.8 116.04 L392.55 117.11 L393.3 118.01 L394.05 118.77 L394.8 119.38 L395.55 119.86 L396.3 120.2 L397.05 120.4 L397.8 120.4 L398.55 120.25 L399.3 119.99 L400.05 119.67 L400.8 119.33 L401.55 118.99 L402.3 118.56 L403.05 118.06 L403.8 117.55 L404.55 117.05 L405.3 116.6 L406.05 116.22 L406.8 115.84 L407.55 115.46 L408.3 115.12 L409.05 114.8 L409.8 114.55 L410.55 114.36 L411.3 114.25 L412.05 114.22 L412.8 114.31 L413.55 114.57 L414.3 115.03 L415.05 115.76 L415.8 116.73 L416.55 117.9 L417.3 119.21 L418.05 120.59 L418.8 122.16 L419.55 123.93 L420.3 125.8 L421.05 127.68 L421.8 129.62 L422.55 131.61 L423.3 133.63 L424.05 135.63 L424.8 137.7 L425.55 140.03 L426.3 142.6 L427.05 145.2 L427.8 147.61 L428.55 149.7 L429.3 151.63 L430.05 153.47 L430.8 155.3 L431.55 157.19 L432.3 159.15 L433.05 161.13 L433.8 163.04 L434.55 164.81 L435.3 166.45 L436.05 168 L436.8 169.5 L437.55 171.01 L438.3 172.49 L439.05 173.82 L439.8 174.9 L440.55 175.83 L441.3 176.66 L442.05 177.38 L442.8 178 L443.55 178.54 L444.3 178.97 L445.05 179.32 L445.8 179.61 L446.55 179.88 L447.3 180.13 L448.05 180.39 L448.8 180.62 L449.55 180.84 L450.3 181.04 L451.05 181.22 L451.8 181.39 L452.55 181.55 L453.3 181.72 L454.05 181.87 L454.8 182.03 L455.55 182.19 L456.3 182.34 L457.05 182.48 L457.8 182.62 L458.55 182.76 L459.3 182.89 L460.05 183.01 L460.8 183.12 L461.55 183.22 L462.3 183.32 L463.05 183.41 L463.8 183.5 L464.55 183.58 L465.3 183.66 L466.05 183.74 L466.8 183.82 L467.55 183.89 L468.3 183.96 L469.05 184.03 L469.8 184.09 L470.55 184.16 L471.3 184.22 L472.05 184.28 L472.8 184.33 L473.55 184.39 L474.3 184.45 L475.05 184.5 L475.8 184.56 L476.55 184.61 L477.3 184.66 L478.05 184.7 L478.8 184.75 L479.55 184.79 L480.3 184.84 L481.05 184.88 L481.8 184.91 L482.55 184.95 L483.3 184.99 L484.05 185.03 L484.8 185.06 L485.55 185.1 L486.3 185.13 L487.05 185.16 L487.8 185.2 L488.55 185.23 L489.3 185.27 L490.05 185.3 L490.8 185.34 L491.55 185.37 L492.3 185.4 L493.05 185.44 L493.8 185.47 L494.55 185.5 L495.3 185.53 L496.05 185.57 L496.8 185.6 L497.55 185.63 L498.3 185.66 L499.05 185.69 L499.8 185.71 L500.55 185.74 L501.3 185.77 L502.05 185.8 L502.8 185.82 L503.55 185.85 L504.3 185.88 L505.05 185.9 L505.8 185.93 L506.55 185.95 L507.3 185.97 L508.05 186 L508.8 186.02 L509.55 186.04 L510.3 186.06 L511.05 186.08 L511.8 186.1 L512.55 186.12 L513.3 186.14 L514.05 186.16 L514.8 186.18 L515.55 186.2 L516.3 186.22 L517.05 186.23 L517.8 186.25 L518.55 186.27 L519.3 186.28 L520.05 186.3 L520.8 186.32 L521.55 186.33 L522.3 186.35 L523.05 186.36 L523.8 186.38 L524.55 186.39 L525.3 186.4 L526.05 186.42 L526.8 186.43 L527.55 186.44 L528.3 186.46 L529.05 186.47 L529.8 186.48 L530.55 186.49 L531.3 186.5 L532.05 186.52 L532.8 186.53 L533.55 186.54 L534.3 186.55 L535.05 186.57" stroke="#6699CC" stroke-width="1.7" fill="none" stroke-linejoin="round" clip-path="url(#cb)"/>
<rect x="334.8" y="15" width="199.9" height="178.6" fill="none" stroke="#111" stroke-width="1.7"/>
<path d="M334.8 193.6 V196.8 M384.7 193.6 V196.8 M434.6 193.6 V196.8 M484.5 193.6 V196.8 M534.4 193.6 V196.8" stroke="#111" stroke-width="1.3" fill="none"/>
<path d="M359.75 193.6 V195.4 M409.65 193.6 V195.4 M459.55 193.6 V195.4 M509.45 193.6 V195.4" stroke="#111" stroke-width="1.3" fill="none"/>
<path d="M334.8 189 H331.6 M334.8 145.5 H331.6 M334.8 102 H331.6 M334.8 58.5 H331.6 M334.8 15 H331.6" stroke="#111" stroke-width="1.3" fill="none"/>
<path d="M334.8 167.25 H333 M334.8 123.75 H333 M334.8 80.25 H333 M334.8 36.75 H333" stroke="#111" stroke-width="1.3" fill="none"/>
<text x="334.8" y="207.5" font-size="11" text-anchor="middle" >200</text>
<text x="384.7" y="207.5" font-size="11" text-anchor="middle" >300</text>
<text x="434.6" y="207.5" font-size="11" text-anchor="middle" >400</text>
<text x="484.5" y="207.5" font-size="11" text-anchor="middle" >500</text>
<text x="534.4" y="207.5" font-size="11" text-anchor="middle" >600</text>
<text x="328.6" y="192.9" font-size="11" text-anchor="end" >0.0</text>
<text x="328.6" y="149.4" font-size="11" text-anchor="end" >0.1</text>
<text x="328.6" y="105.9" font-size="11" text-anchor="end" >0.2</text>
<text x="328.6" y="62.4" font-size="11" text-anchor="end" >0.3</text>
<text x="328.6" y="18.9" font-size="11" text-anchor="end" >0.4</text>
<text x="434" y="222.3" font-size="11.3" text-anchor="middle" >Wavelength (nm)</text>
<text x="310" y="97.2" font-size="11" text-anchor="middle" transform="rotate(-90 310 97.2)">Absorption</text>
<text x="293" y="19.8" font-size="19.6" text-anchor="start" >b</text>
<rect x="478.7" y="20.6" width="49.7" height="123.6" fill="#fff" stroke="#111" stroke-width="1.5"/>
<path d="M479.2 26.4 H500" stroke="#515151" stroke-width="1.9"/>
<text x="502.6" y="29.57" font-size="8.8" text-anchor="start" >0</text>
<path d="M479.2 37.6 H500" stroke="#F14040" stroke-width="1.9"/>
<text x="502.6" y="40.77" font-size="8.8" text-anchor="start" >1 µM</text>
<path d="M479.2 48.8 H500" stroke="#1A6FDF" stroke-width="1.9"/>
<text x="502.6" y="51.97" font-size="8.8" text-anchor="start" >2 µM</text>
<path d="M479.2 60 H500" stroke="#37AD6B" stroke-width="1.9"/>
<text x="502.6" y="63.17" font-size="8.8" text-anchor="start" >3 µM</text>
<path d="M479.2 71.2 H500" stroke="#B177DE" stroke-width="1.9"/>
<text x="502.6" y="74.37" font-size="8.8" text-anchor="start" >4 µM</text>
<path d="M479.2 82.4 H500" stroke="#CC9900" stroke-width="1.9"/>
<text x="502.6" y="85.57" font-size="8.8" text-anchor="start" >5 µM</text>
<path d="M479.2 93.6 H500" stroke="#00CBCC" stroke-width="1.9"/>
<text x="502.6" y="96.77" font-size="8.8" text-anchor="start" >6 µM</text>
<path d="M479.2 104.8 H500" stroke="#7D4E4E" stroke-width="1.9"/>
<text x="502.6" y="107.97" font-size="8.8" text-anchor="start" >7 µM</text>
<path d="M479.2 116 H500" stroke="#8E8E00" stroke-width="1.9"/>
<text x="502.6" y="119.17" font-size="8.8" text-anchor="start" >8 µM</text>
<path d="M479.2 127.2 H500" stroke="#FB6501" stroke-width="1.9"/>
<text x="502.6" y="130.37" font-size="8.8" text-anchor="start" >9 µM</text>
<path d="M479.2 138.4 H500" stroke="#6699CC" stroke-width="1.9"/>
<text x="502.6" y="141.57" font-size="8.8" text-anchor="start" >10 µM</text>
<clipPath id="cc"><rect x="69.6" y="232.9" width="200" height="178.2"/></clipPath>
<path d="M69.6 410.6 L70.1 410.6 L70.6 410.6 L71.1 410.6 L71.6 410.6 L72.1 410.6 L72.6 410.6 L73.1 410.6 L73.6 410.6 L74.1 410.6 L74.6 410.6 L75.1 410.6 L75.6 410.6 L76.1 410.6 L76.6 410.6 L77.1 410.6 L77.6 410.6 L78.1 410.6 L78.6 410.6 L79.1 410.6 L79.6 410.6 L80.1 410.6 L80.6 410.6 L81.1 410.6 L81.6 410.6 L82.1 410.6 L82.6 410.6 L83.1 410.6 L83.6 410.6 L84.1 410.6 L84.6 410.6 L85.1 410.6 L85.6 410.6 L86.1 410.6 L86.6 410.6 L87.1 410.6 L87.6 410.6 L88.1 410.6 L88.6 410.6 L89.1 410.6 L89.6 410.6 L90.1 410.6 L90.6 410.6 L91.1 410.6 L91.6 410.6 L92.1 410.6 L92.6 410.6 L93.1 410.6 L93.6 410.6 L94.1 410.6 L94.6 410.6 L95.1 410.6 L95.6 410.6 L96.1 410.6 L96.6 410.6 L97.1 410.6 L97.6 410.6 L98.1 410.6 L98.6 410.6 L99.1 410.6 L99.6 410.6 L100.1 410.6 L100.6 410.6 L101.1 410.6 L101.6 410.6 L102.1 410.6 L102.6 410.6 L103.1 410.6 L103.6 410.6 L104.1 410.6 L104.6 410.6 L105.1 410.6 L105.6 410.6 L106.1 410.6 L106.6 410.6 L107.1 410.6 L107.6 410.6 L108.1 410.6 L108.6 410.6 L109.1 410.6 L109.6 410.6 L110.1 410.6 L110.6 410.6 L111.1 410.6 L111.6 410.6 L112.1 410.6 L112.6 410.6 L113.1 410.6 L113.6 410.6 L114.1 410.6 L114.6 410.6 L115.1 410.6 L115.6 410.6 L116.1 410.6 L116.6 410.6 L117.1 410.6 L117.6 410.6 L118.1 410.6 L118.6 410.6 L119.1 410.6 L119.6 410.6 L120.1 410.6 L120.6 410.6 L121.1 410.6 L121.6 410.6 L122.1 410.6 L122.6 410.6 L123.1 410.6 L123.6 410.6 L124.1 410.6 L124.6 410.6 L125.1 410.6 L125.6 410.6 L126.1 410.6 L126.6 410.6 L127.1 410.6 L127.6 410.6 L128.1 410.6 L128.6 410.6 L129.1 410.6 L129.6 410.6 L130.1 410.6 L130.6 410.6 L131.1 410.6 L131.6 410.6 L132.1 410.6 L132.6 410.6 L133.1 410.6 L133.6 410.6 L134.1 410.6 L134.6 410.6 L135.1 410.6 L135.6 410.6 L136.1 410.6 L136.6 410.6 L137.1 410.6 L137.6 410.6 L138.1 410.6 L138.6 410.6 L139.1 410.6 L139.6 410.6 L140.1 410.6 L140.6 410.6 L141.1 410.6 L141.6 410.6 L142.1 410.6 L142.6 410.6 L143.1 410.6 L143.6 410.6 L144.1 410.6 L144.6 410.6 L145.1 410.6 L145.6 410.6 L146.1 410.6 L146.6 410.6 L147.1 410.6 L147.6 410.6 L148.1 410.6 L148.6 410.6 L149.1 410.6 L149.6 410.6 L150.1 410.6 L150.6 410.6 L151.1 410.6 L151.6 410.6 L152.1 410.6 L152.6 410.6 L153.1 410.6 L153.6 410.6 L154.1 410.6 L154.6 410.6 L155.1 410.6 L155.6 410.6 L156.1 410.6 L156.6 410.6 L157.1 410.6 L157.6 410.6 L158.1 410.6 L158.6 410.6 L159.1 410.6 L159.6 410.6 L160.1 410.6 L160.6 410.6 L161.1 410.6 L161.6 410.6 L162.1 410.6 L162.6 410.6 L163.1 410.6 L163.6 410.6 L164.1 410.6 L164.6 410.6 L165.1 410.6 L165.6 410.6 L166.1 410.6 L166.6 410.6 L167.1 410.6 L167.6 410.6 L168.1 410.6 L168.6 410.6 L169.1 410.6 L169.6 410.6 L170.1 410.6 L170.6 410.6 L171.1 410.6 L171.6 410.6 L172.1 410.6 L172.6 410.6 L173.1 410.6 L173.6 410.6 L174.1 410.6 L174.6 410.6 L175.1 410.6 L175.6 410.6 L176.1 410.6 L176.6 410.6 L177.1 410.6 L177.6 410.6 L178.1 410.6 L178.6 410.6 L179.1 410.6 L179.6 410.6 L180.1 410.6 L180.6 410.6 L181.1 410.6 L181.6 410.6 L182.1 410.6 L182.6 410.6 L183.1 410.6 L183.6 410.6 L184.1 410.6 L184.6 410.6 L185.1 410.6 L185.6 410.6 L186.1 410.6 L186.6 410.6 L187.1 410.6 L187.6 410.6 L188.1 410.6 L188.6 410.6 L189.1 410.6 L189.6 410.6 L190.1 410.6 L190.6 410.6 L191.1 410.6 L191.6 410.6 L192.1 410.6 L192.6 410.6 L193.1 410.6 L193.6 410.6 L194.1 410.6 L194.6 410.6 L195.1 410.6 L195.6 410.6 L196.1 410.6 L196.6 410.6 L197.1 410.6 L197.6 410.6 L198.1 410.6 L198.6 410.6 L199.1 410.6 L199.6 410.6 L200.1 410.6 L200.6 410.6 L201.1 410.6 L201.6 410.6 L202.1 410.6 L202.6 410.6 L203.1 410.6 L203.6 410.6 L204.1 410.6 L204.6 410.6 L205.1 410.6 L205.6 410.6 L206.1 410.6 L206.6 410.6 L207.1 410.6 L207.6 410.6 L208.1 410.6 L208.6 410.6 L209.1 410.6 L209.6 410.6 L210.1 410.6 L210.6 410.6 L211.1 410.6 L211.6 410.6 L212.1 410.6 L212.6 410.6 L213.1 410.6 L213.6 410.6 L214.1 410.6 L214.6 410.6 L215.1 410.6 L215.6 410.6 L216.1 410.6 L216.6 410.6 L217.1 410.6 L217.6 410.6 L218.1 410.6 L218.6 410.6 L219.1 410.6 L219.6 410.6 L220.1 410.6 L220.6 410.6 L221.1 410.6 L221.6 410.6 L222.1 410.6 L222.6 410.6 L223.1 410.6 L223.6 410.6 L224.1 410.6 L224.6 410.6 L225.1 410.6 L225.6 410.6 L226.1 410.6 L226.6 410.6 L227.1 410.6 L227.6 410.6 L228.1 410.6 L228.6 410.6 L229.1 410.6 L229.6 410.6 L230.1 410.6 L230.6 410.6 L231.1 410.6 L231.6 410.6 L232.1 410.6 L232.6 410.6 L233.1 410.6 L233.6 410.6 L234.1 410.6 L234.6 410.6 L235.1 410.6 L235.6 410.6 L236.1 410.6 L236.6 410.6 L237.1 410.6 L237.6 410.6 L238.1 410.6 L238.6 410.6 L239.1 410.6 L239.6 410.6 L240.1 410.6 L240.6 410.6 L241.1 410.6 L241.6 410.6 L242.1 410.6 L242.6 410.6 L243.1 410.6 L243.6 410.6 L244.1 410.6 L244.6 410.6 L245.1 410.6 L245.6 410.6 L246.1 410.6 L246.6 410.6 L247.1 410.6 L247.6 410.6 L248.1 410.6 L248.6 410.6 L249.1 410.6 L249.6 410.6 L250.1 410.6 L250.6 410.6 L251.1 410.6 L251.6 410.6 L252.1 410.6 L252.6 410.6 L253.1 410.6 L253.6 410.6 L254.1 410.6 L254.6 410.6 L255.1 410.6 L255.6 410.6 L256.1 410.6 L256.6 410.6 L257.1 410.6 L257.6 410.6 L258.1 410.6 L258.6 410.6 L259.1 410.6 L259.6 410.6 L260.1 410.6 L260.6 410.6 L261.1 410.6 L261.6 410.6 L262.1 410.6 L262.6 410.6 L263.1 410.6 L263.6 410.6 L264.1 410.6 L264.6 410.6 L265.1 410.6 L265.6 410.6 L266.1 410.6 L266.6 410.6 L267.1 410.6 L267.6 410.6 L268.1 410.6 L268.6 410.6 L269.1 410.6 L269.6 410.6 L270.1 410.6" stroke="#515151" stroke-width="1.8" fill="none" stroke-linejoin="round" clip-path="url(#cc)"/>
<path d="M69.6 410.51 L70.1 410.51 L70.6 410.51 L71.1 410.51 L71.6 410.51 L72.1 410.51 L72.6 410.51 L73.1 410.51 L73.6 410.51 L74.1 410.51 L74.6 410.51 L75.1 410.51 L75.6 410.51 L76.1 410.51 L76.6 410.51 L77.1 410.51 L77.6 410.51 L78.1 410.51 L78.6 410.51 L79.1 410.51 L79.6 410.51 L80.1 410.51 L80.6 410.51 L81.1 410.51 L81.6 410.51 L82.1 410.51 L82.6 410.51 L83.1 410.51 L83.6 410.51 L84.1 410.51 L84.6 410.51 L85.1 410.51 L85.6 410.51 L86.1 410.51 L86.6 410.51 L87.1 410.51 L87.6 410.51 L88.1 410.51 L88.6 410.51 L89.1 410.5 L89.6 410.5 L90.1 410.5 L90.6 410.49 L91.1 410.47 L91.6 410.45 L92.1 410.42 L92.6 410.37 L93.1 410.31 L93.6 410.23 L94.1 410.12 L94.6 410 L95.1 409.86 L95.6 409.71 L96.1 409.57 L96.6 409.42 L97.1 409.3 L97.6 409.2 L98.1 409.12 L98.6 409.07 L99.1 409.03 L99.6 409 L100.1 408.96 L100.6 408.9 L101.1 408.81 L101.6 408.69 L102.1 408.52 L102.6 408.32 L103.1 408.09 L103.6 407.83 L104.1 407.55 L104.6 407.25 L105.1 406.96 L105.6 406.68 L106.1 406.41 L106.6 406.17 L107.1 405.96 L107.6 405.8 L108.1 405.68 L108.6 405.61 L109.1 405.59 L109.6 405.63 L110.1 405.71 L110.6 405.85 L111.1 406.03 L111.6 406.25 L112.1 406.5 L112.6 406.77 L113.1 407.07 L113.6 407.37 L114.1 407.67 L114.6 407.97 L115.1 408.27 L115.6 408.54 L116.1 408.8 L116.6 409.03 L117.1 409.24 L117.6 409.43 L118.1 409.59 L118.6 409.72 L119.1 409.83 L119.6 409.9 L120.1 409.95 L120.6 409.96 L121.1 409.93 L121.6 409.85 L122.1 409.72 L122.6 409.52 L123.1 409.23 L123.6 408.84 L124.1 408.33 L124.6 407.66 L125.1 406.82 L125.6 405.79 L126.1 404.54 L126.6 403.07 L127.1 401.36 L127.6 399.43 L128.1 397.29 L128.6 394.99 L129.1 392.56 L129.6 390.07 L130.1 387.61 L130.6 385.25 L131.1 383.09 L131.6 381.23 L132.1 379.75 L132.6 378.74 L133.1 378.24 L133.6 378.3 L134.1 378.9 L134.6 380.01 L135.1 381.57 L135.6 383.5 L136.1 385.71 L136.6 388.09 L137.1 390.57 L137.6 393.05 L138.1 395.46 L138.6 397.74 L139.1 399.84 L139.6 401.73 L140.1 403.39 L140.6 404.82 L141.1 406.03 L141.6 407.03 L142.1 407.84 L142.6 408.48 L143.1 408.98 L143.6 409.37 L144.1 409.66 L144.6 409.88 L145.1 410.04 L145.6 410.15 L146.1 410.24 L146.6 410.29 L147.1 410.34 L147.6 410.37 L148.1 410.39 L148.6 410.4 L149.1 410.41 L149.6 410.42 L150.1 410.43 L150.6 410.44 L151.1 410.44 L151.6 410.45 L152.1 410.45 L152.6 410.45 L153.1 410.46 L153.6 410.46 L154.1 410.46 L154.6 410.46 L155.1 410.46 L155.6 410.46 L156.1 410.46 L156.6 410.45 L157.1 410.43 L157.6 410.41 L158.1 410.39 L158.6 410.35 L159.1 410.29 L159.6 410.23 L160.1 410.15 L160.6 410.05 L161.1 409.95 L161.6 409.84 L162.1 409.73 L162.6 409.62 L163.1 409.54 L163.6 409.47 L164.1 409.43 L164.6 409.42 L165.1 409.44 L165.6 409.5 L166.1 409.57 L166.6 409.67 L167.1 409.78 L167.6 409.89 L168.1 410 L168.6 410.1 L169.1 410.2 L169.6 410.27 L170.1 410.33 L170.6 410.38 L171.1 410.42 L171.6 410.45 L172.1 410.47 L172.6 410.48 L173.1 410.49 L173.6 410.5 L174.1 410.5 L174.6 410.5 L175.1 410.5 L175.6 410.5 L176.1 410.51 L176.6 410.51 L177.1 410.51 L177.6 410.51 L178.1 410.51 L178.6 410.51 L179.1 410.51 L179.6 410.51 L180.1 410.51 L180.6 410.51 L181.1 410.51 L181.6 410.51 L182.1 410.51 L182.6 410.51 L183.1 410.51 L183.6 410.51 L184.1 410.51 L184.6 410.51 L185.1 410.51 L185.6 410.51 L186.1 410.51 L186.6 410.51 L187.1 410.51 L187.6 410.5 L188.1 410.5 L188.6 410.49 L189.1 410.49 L189.6 410.47 L190.1 410.45 L190.6 410.42 L191.1 410.38 L191.6 410.33 L192.1 410.25 L192.6 410.16 L193.1 410.03 L193.6 409.88 L194.1 409.69 L194.6 409.46 L195.1 409.2 L195.6 408.89 L196.1 408.55 L196.6 408.18 L197.1 407.79 L197.6 407.39 L198.1 406.98 L198.6 406.58 L199.1 406.2 L199.6 405.85 L200.1 405.54 L200.6 405.27 L201.1 405.05 L201.6 404.88 L202.1 404.74 L202.6 404.64 L203.1 404.55 L203.6 404.48 L204.1 404.41 L204.6 404.34 L205.1 404.25 L205.6 404.15 L206.1 404.03 L206.6 403.91 L207.1 403.79 L207.6 403.67 L208.1 403.57 L208.6 403.5 L209.1 403.47 L209.6 403.49 L210.1 403.56 L210.6 403.68 L211.1 403.87 L211.6 404.11 L212.1 404.4 L212.6 404.74 L213.1 405.12 L213.6 405.52 L214.1 405.95 L214.6 406.38 L215.1 406.81 L215.6 407.24 L216.1 407.64 L216.6 408.03 L217.1 408.38 L217.6 408.71 L218.1 409 L218.6 409.26 L219.1 409.48 L219.6 409.68 L220.1 409.84 L220.6 409.98 L221.1 410.1 L221.6 410.19 L222.1 410.27 L222.6 410.33 L223.1 410.37 L223.6 410.41 L224.1 410.44 L224.6 410.46 L225.1 410.48 L225.6 410.49 L226.1 410.5 L226.6 410.5 L227.1 410.51 L227.6 410.51 L228.1 410.51 L228.6 410.51 L229.1 410.52 L229.6 410.52 L230.1 410.52 L230.6 410.52 L231.1 410.52 L231.6 410.52 L232.1 410.52 L232.6 410.52 L233.1 410.52 L233.6 410.52 L234.1 410.52 L234.6 410.52 L235.1 410.52 L235.6 410.52 L236.1 410.52 L236.6 410.52 L237.1 410.52 L237.6 410.52 L238.1 410.52 L238.6 410.52 L239.1 410.52 L239.6 410.52 L240.1 410.52 L240.6 410.52 L241.1 410.52 L241.6 410.52 L242.1 410.52 L242.6 410.52 L243.1 410.52 L243.6 410.52 L244.1 410.52 L244.6 410.52 L245.1 410.52 L245.6 410.52 L246.1 410.52 L246.6 410.52 L247.1 410.52 L247.6 410.52 L248.1 410.52 L248.6 410.52 L249.1 410.52 L249.6 410.52 L250.1 410.52 L250.6 410.52 L251.1 410.52 L251.6 410.52 L252.1 410.52 L252.6 410.52 L253.1 410.52 L253.6 410.52 L254.1 410.52 L254.6 410.52 L255.1 410.52 L255.6 410.52 L256.1 410.52 L256.6 410.52 L257.1 410.52 L257.6 410.52 L258.1 410.52 L258.6 410.52 L259.1 410.52 L259.6 410.52 L260.1 410.52 L260.6 410.52 L261.1 410.52 L261.6 410.52 L262.1 410.52 L262.6 410.52 L263.1 410.52 L263.6 410.52 L264.1 410.52 L264.6 410.52 L265.1 410.52 L265.6 410.52 L266.1 410.52 L266.6 410.52 L267.1 410.52 L267.6 410.52 L268.1 410.52 L268.6 410.52 L269.1 410.52 L269.6 410.52 L270.1 410.52" stroke="#F14040" stroke-width="1.8" fill="none" stroke-linejoin="round" clip-path="url(#cc)"/>
<path d="M69.6 410.43 L70.1 410.43 L70.6 410.43 L71.1 410.43 L71.6 410.43 L72.1 410.43 L72.6 410.43 L73.1 410.43 L73.6 410.43 L74.1 410.43 L74.6 410.43 L75.1 410.43 L75.6 410.43 L76.1 410.43 L76.6 410.43 L77.1 410.43 L77.6 410.43 L78.1 410.43 L78.6 410.43 L79.1 410.42 L79.6 410.42 L80.1 410.42 L80.6 410.42 L81.1 410.42 L81.6 410.42 L82.1 410.42 L82.6 410.42 L83.1 410.42 L83.6 410.42 L84.1 410.42 L84.6 410.42 L85.1 410.42 L85.6 410.42 L86.1 410.42 L86.6 410.42 L87.1 410.42 L87.6 410.42 L88.1 410.42 L88.6 410.42 L89.1 410.41 L89.6 410.41 L90.1 410.4 L90.6 410.39 L91.1 410.37 L91.6 410.35 L92.1 410.31 L92.6 410.25 L93.1 410.17 L93.6 410.06 L94.1 409.93 L94.6 409.78 L95.1 409.6 L95.6 409.42 L96.1 409.23 L96.6 409.05 L97.1 408.89 L97.6 408.76 L98.1 408.67 L98.6 408.6 L99.1 408.55 L99.6 408.51 L100.1 408.46 L100.6 408.38 L101.1 408.27 L101.6 408.11 L102.1 407.91 L102.6 407.66 L103.1 407.36 L103.6 407.03 L104.1 406.67 L104.6 406.3 L105.1 405.93 L105.6 405.58 L106.1 405.24 L106.6 404.93 L107.1 404.67 L107.6 404.46 L108.1 404.31 L108.6 404.22 L109.1 404.2 L109.6 404.24 L110.1 404.35 L110.6 404.52 L111.1 404.75 L111.6 405.02 L112.1 405.34 L112.6 405.68 L113.1 406.05 L113.6 406.43 L114.1 406.82 L114.6 407.2 L115.1 407.56 L115.6 407.91 L116.1 408.23 L116.6 408.52 L117.1 408.79 L117.6 409.02 L118.1 409.21 L118.6 409.37 L119.1 409.49 L119.6 409.57 L120.1 409.61 L120.6 409.59 L121.1 409.52 L121.6 409.36 L122.1 409.12 L122.6 408.76 L123.1 408.25 L123.6 407.57 L124.1 406.68 L124.6 405.52 L125.1 404.08 L125.6 402.29 L126.1 400.14 L126.6 397.59 L127.1 394.65 L127.6 391.32 L128.1 387.63 L128.6 383.65 L129.1 379.46 L129.6 375.17 L130.1 370.92 L130.6 366.86 L131.1 363.14 L131.6 359.93 L132.1 357.38 L132.6 355.63 L133.1 354.78 L133.6 354.87 L134.1 355.91 L134.6 357.83 L135.1 360.52 L135.6 363.84 L136.1 367.65 L136.6 371.76 L137.1 376.03 L137.6 380.31 L138.1 384.47 L138.6 388.4 L139.1 392.02 L139.6 395.28 L140.1 398.14 L140.6 400.61 L141.1 402.69 L141.6 404.41 L142.1 405.81 L142.6 406.92 L143.1 407.79 L143.6 408.46 L144.1 408.96 L144.6 409.33 L145.1 409.61 L145.6 409.81 L146.1 409.95 L146.6 410.05 L147.1 410.12 L147.6 410.17 L148.1 410.21 L148.6 410.24 L149.1 410.26 L149.6 410.27 L150.1 410.29 L150.6 410.3 L151.1 410.3 L151.6 410.31 L152.1 410.32 L152.6 410.32 L153.1 410.33 L153.6 410.33 L154.1 410.34 L154.6 410.34 L155.1 410.34 L155.6 410.34 L156.1 410.34 L156.6 410.33 L157.1 410.31 L157.6 410.29 L158.1 410.25 L158.6 410.2 L159.1 410.14 L159.6 410.05 L160.1 409.95 L160.6 409.83 L161.1 409.7 L161.6 409.56 L162.1 409.43 L162.6 409.3 L163.1 409.19 L163.6 409.1 L164.1 409.05 L164.6 409.04 L165.1 409.07 L165.6 409.14 L166.1 409.24 L166.6 409.36 L167.1 409.5 L167.6 409.64 L168.1 409.78 L168.6 409.91 L169.1 410.02 L169.6 410.12 L170.1 410.2 L170.6 410.26 L171.1 410.31 L171.6 410.34 L172.1 410.37 L172.6 410.38 L173.1 410.4 L173.6 410.4 L174.1 410.41 L174.6 410.41 L175.1 410.41 L175.6 410.41 L176.1 410.42 L176.6 410.42 L177.1 410.42 L177.6 410.42 L178.1 410.42 L178.6 410.42 L179.1 410.42 L179.6 410.42 L180.1 410.42 L180.6 410.42 L181.1 410.42 L181.6 410.42 L182.1 410.42 L182.6 410.42 L183.1 410.42 L183.6 410.42 L184.1 410.42 L184.6 410.42 L185.1 410.42 L185.6 410.42 L186.1 410.42 L186.6 410.42 L187.1 410.42 L187.6 410.42 L188.1 410.41 L188.6 410.4 L189.1 410.39 L189.6 410.37 L190.1 410.35 L190.6 410.31 L191.1 410.26 L191.6 410.19 L192.1 410.1 L192.6 409.98 L193.1 409.82 L193.6 409.63 L194.1 409.39 L194.6 409.1 L195.1 408.77 L195.6 408.38 L196.1 407.96 L196.6 407.49 L197.1 407 L197.6 406.48 L198.1 405.97 L198.6 405.46 L199.1 404.98 L199.6 404.54 L200.1 404.15 L200.6 403.82 L201.1 403.54 L201.6 403.32 L202.1 403.15 L202.6 403.02 L203.1 402.91 L203.6 402.82 L204.1 402.73 L204.6 402.64 L205.1 402.52 L205.6 402.4 L206.1 402.25 L206.6 402.1 L207.1 401.94 L207.6 401.8 L208.1 401.67 L208.6 401.58 L209.1 401.55 L209.6 401.57 L210.1 401.65 L210.6 401.81 L211.1 402.04 L211.6 402.35 L212.1 402.72 L212.6 403.15 L213.1 403.62 L213.6 404.13 L214.1 404.67 L214.6 405.21 L215.1 405.76 L215.6 406.29 L216.1 406.81 L216.6 407.29 L217.1 407.74 L217.6 408.15 L218.1 408.52 L218.6 408.85 L219.1 409.13 L219.6 409.38 L220.1 409.59 L220.6 409.76 L221.1 409.91 L221.6 410.02 L222.1 410.12 L222.6 410.19 L223.1 410.25 L223.6 410.3 L224.1 410.34 L224.6 410.36 L225.1 410.38 L225.6 410.4 L226.1 410.41 L226.6 410.42 L227.1 410.42 L227.6 410.43 L228.1 410.43 L228.6 410.43 L229.1 410.43 L229.6 410.43 L230.1 410.43 L230.6 410.43 L231.1 410.43 L231.6 410.44 L232.1 410.44 L232.6 410.44 L233.1 410.44 L233.6 410.44 L234.1 410.44 L234.6 410.44 L235.1 410.44 L235.6 410.44 L236.1 410.44 L236.6 410.44 L237.1 410.44 L237.6 410.44 L238.1 410.44 L238.6 410.44 L239.1 410.44 L239.6 410.44 L240.1 410.44 L240.6 410.44 L241.1 410.44 L241.6 410.44 L242.1 410.44 L242.6 410.44 L243.1 410.44 L243.6 410.44 L244.1 410.44 L244.6 410.44 L245.1 410.44 L245.6 410.44 L246.1 410.44 L246.6 410.44 L247.1 410.44 L247.6 410.44 L248.1 410.44 L248.6 410.44 L249.1 410.44 L249.6 410.44 L250.1 410.44 L250.6 410.44 L251.1 410.44 L251.6 410.44 L252.1 410.44 L252.6 410.44 L253.1 410.44 L253.6 410.44 L254.1 410.44 L254.6 410.44 L255.1 410.44 L255.6 410.44 L256.1 410.44 L256.6 410.44 L257.1 410.44 L257.6 410.44 L258.1 410.44 L258.6 410.44 L259.1 410.44 L259.6 410.44 L260.1 410.44 L260.6 410.44 L261.1 410.44 L261.6 410.44 L262.1 410.44 L262.6 410.44 L263.1 410.44 L263.6 410.44 L264.1 410.44 L264.6 410.44 L265.1 410.44 L265.6 410.44 L266.1 410.44 L266.6 410.44 L267.1 410.44 L267.6 410.44 L268.1 410.44 L268.6 410.44 L269.1 410.44 L269.6 410.44 L270.1 410.44" stroke="#1A6FDF" stroke-width="1.8" fill="none" stroke-linejoin="round" clip-path="url(#cc)"/>
<path d="M69.6 410.34 L70.1 410.34 L70.6 410.34 L71.1 410.34 L71.6 410.34 L72.1 410.34 L72.6 410.34 L73.1 410.34 L73.6 410.34 L74.1 410.34 L74.6 410.34 L75.1 410.34 L75.6 410.34 L76.1 410.34 L76.6 410.34 L77.1 410.34 L77.6 410.34 L78.1 410.34 L78.6 410.34 L79.1 410.34 L79.6 410.34 L80.1 410.34 L80.6 410.34 L81.1 410.34 L81.6 410.34 L82.1 410.34 L82.6 410.34 L83.1 410.34 L83.6 410.34 L84.1 410.33 L84.6 410.33 L85.1 410.33 L85.6 410.33 L86.1 410.33 L86.6 410.33 L87.1 410.33 L87.6 410.33 L88.1 410.33 L88.6 410.33 L89.1 410.32 L89.6 410.32 L90.1 410.31 L90.6 410.3 L91.1 410.28 L91.6 410.24 L92.1 410.19 L92.6 410.12 L93.1 410.03 L93.6 409.9 L94.1 409.74 L94.6 409.56 L95.1 409.34 L95.6 409.12 L96.1 408.89 L96.6 408.67 L97.1 408.48 L97.6 408.33 L98.1 408.21 L98.6 408.13 L99.1 408.07 L99.6 408.02 L100.1 407.96 L100.6 407.87 L101.1 407.73 L101.6 407.54 L102.1 407.3 L102.6 406.99 L103.1 406.63 L103.6 406.23 L104.1 405.8 L104.6 405.36 L105.1 404.91 L105.6 404.48 L106.1 404.07 L106.6 403.7 L107.1 403.39 L107.6 403.13 L108.1 402.95 L108.6 402.84 L109.1 402.81 L109.6 402.87 L110.1 403 L110.6 403.2 L111.1 403.47 L111.6 403.8 L112.1 404.18 L112.6 404.6 L113.1 405.05 L113.6 405.5 L114.1 405.97 L114.6 406.42 L115.1 406.86 L115.6 407.28 L116.1 407.67 L116.6 408.02 L117.1 408.33 L117.6 408.61 L118.1 408.84 L118.6 409.03 L119.1 409.17 L119.6 409.26 L120.1 409.29 L120.6 409.25 L121.1 409.13 L121.6 408.91 L122.1 408.56 L122.6 408.06 L123.1 407.36 L123.6 406.42 L124.1 405.18 L124.6 403.59 L125.1 401.59 L125.6 399.13 L126.1 396.16 L126.6 392.65 L127.1 388.59 L127.6 383.99 L128.1 378.91 L128.6 373.42 L129.1 367.64 L129.6 361.73 L130.1 355.87 L130.6 350.26 L131.1 345.13 L131.6 340.71 L132.1 337.19 L132.6 334.78 L133.1 333.61 L133.6 333.74 L134.1 335.17 L134.6 337.81 L135.1 341.52 L135.6 346.11 L136.1 351.35 L136.6 357.03 L137.1 362.92 L137.6 368.82 L138.1 374.55 L138.6 379.97 L139.1 384.96 L139.6 389.45 L140.1 393.4 L140.6 396.81 L141.1 399.68 L141.6 402.05 L142.1 403.98 L142.6 405.51 L143.1 406.7 L143.6 407.62 L144.1 408.32 L144.6 408.83 L145.1 409.21 L145.6 409.49 L146.1 409.68 L146.6 409.82 L147.1 409.92 L147.6 409.99 L148.1 410.04 L148.6 410.08 L149.1 410.11 L149.6 410.13 L150.1 410.15 L150.6 410.16 L151.1 410.17 L151.6 410.18 L152.1 410.19 L152.6 410.2 L153.1 410.21 L153.6 410.21 L154.1 410.22 L154.6 410.22 L155.1 410.23 L155.6 410.23 L156.1 410.22 L156.6 410.21 L157.1 410.19 L157.6 410.16 L158.1 410.12 L158.6 410.06 L159.1 409.98 L159.6 409.88 L160.1 409.76 L160.6 409.62 L161.1 409.46 L161.6 409.29 L162.1 409.13 L162.6 408.97 L163.1 408.84 L163.6 408.74 L164.1 408.68 L164.6 408.66 L165.1 408.7 L165.6 408.78 L166.1 408.9 L166.6 409.05 L167.1 409.21 L167.6 409.39 L168.1 409.55 L168.6 409.71 L169.1 409.85 L169.6 409.97 L170.1 410.06 L170.6 410.14 L171.1 410.19 L171.6 410.24 L172.1 410.27 L172.6 410.29 L173.1 410.3 L173.6 410.31 L174.1 410.32 L174.6 410.32 L175.1 410.32 L175.6 410.32 L176.1 410.33 L176.6 410.33 L177.1 410.33 L177.6 410.33 L178.1 410.33 L178.6 410.33 L179.1 410.33 L179.6 410.33 L180.1 410.33 L180.6 410.33 L181.1 410.33 L181.6 410.33 L182.1 410.33 L182.6 410.33 L183.1 410.34 L183.6 410.34 L184.1 410.34 L184.6 410.34 L185.1 410.34 L185.6 410.34 L186.1 410.34 L186.6 410.33 L187.1 410.33 L187.6 410.33 L188.1 410.32 L188.6 410.31 L189.1 410.3 L189.6 410.28 L190.1 410.25 L190.6 410.2 L191.1 410.14 L191.6 410.06 L192.1 409.95 L192.6 409.8 L193.1 409.61 L193.6 409.38 L194.1 409.09 L194.6 408.74 L195.1 408.34 L195.6 407.88 L196.1 407.36 L196.6 406.8 L197.1 406.2 L197.6 405.58 L198.1 404.96 L198.6 404.35 L199.1 403.77 L199.6 403.24 L200.1 402.77 L200.6 402.36 L201.1 402.03 L201.6 401.76 L202.1 401.55 L202.6 401.39 L203.1 401.27 L203.6 401.16 L204.1 401.05 L204.6 400.93 L205.1 400.8 L205.6 400.65 L206.1 400.47 L206.6 400.29 L207.1 400.1 L207.6 399.92 L208.1 399.77 L208.6 399.67 L209.1 399.62 L209.6 399.64 L210.1 399.75 L210.6 399.94 L211.1 400.22 L211.6 400.59 L212.1 401.04 L212.6 401.55 L213.1 402.13 L213.6 402.74 L214.1 403.39 L214.6 404.05 L215.1 404.71 L215.6 405.35 L216.1 405.97 L216.6 406.56 L217.1 407.1 L217.6 407.59 L218.1 408.04 L218.6 408.43 L219.1 408.78 L219.6 409.07 L220.1 409.33 L220.6 409.54 L221.1 409.71 L221.6 409.86 L222.1 409.97 L222.6 410.06 L223.1 410.14 L223.6 410.19 L224.1 410.23 L224.6 410.27 L225.1 410.29 L225.6 410.31 L226.1 410.32 L226.6 410.33 L227.1 410.34 L227.6 410.34 L228.1 410.35 L228.6 410.35 L229.1 410.35 L229.6 410.35 L230.1 410.35 L230.6 410.35 L231.1 410.35 L231.6 410.35 L232.1 410.35 L232.6 410.35 L233.1 410.35 L233.6 410.35 L234.1 410.35 L234.6 410.35 L235.1 410.35 L235.6 410.35 L236.1 410.35 L236.6 410.35 L237.1 410.35 L237.6 410.35 L238.1 410.35 L238.6 410.35 L239.1 410.35 L239.6 410.35 L240.1 410.35 L240.6 410.35 L241.1 410.35 L241.6 410.35 L242.1 410.35 L242.6 410.35 L243.1 410.35 L243.6 410.35 L244.1 410.35 L244.6 410.36 L245.1 410.36 L245.6 410.36 L246.1 410.36 L246.6 410.36 L247.1 410.36 L247.6 410.36 L248.1 410.36 L248.6 410.36 L249.1 410.36 L249.6 410.36 L250.1 410.36 L250.6 410.36 L251.1 410.36 L251.6 410.36 L252.1 410.36 L252.6 410.36 L253.1 410.36 L253.6 410.36 L254.1 410.36 L254.6 410.36 L255.1 410.36 L255.6 410.36 L256.1 410.36 L256.6 410.36 L257.1 410.36 L257.6 410.36 L258.1 410.36 L258.6 410.36 L259.1 410.36 L259.6 410.36 L260.1 410.36 L260.6 410.36 L261.1 410.36 L261.6 410.36 L262.1 410.36 L262.6 410.36 L263.1 410.36 L263.6 410.36 L264.1 410.36 L264.6 410.36 L265.1 410.36 L265.6 410.36 L266.1 410.36 L266.6 410.36 L267.1 410.36 L267.6 410.36 L268.1 410.36 L268.6 410.36 L269.1 410.36 L269.6 410.36 L270.1 410.36" stroke="#37AD6B" stroke-width="1.8" fill="none" stroke-linejoin="round" clip-path="url(#cc)"/>
<path d="M69.6 410.26 L70.1 410.26 L70.6 410.26 L71.1 410.26 L71.6 410.26 L72.1 410.26 L72.6 410.26 L73.1 410.26 L73.6 410.26 L74.1 410.26 L74.6 410.26 L75.1 410.26 L75.6 410.26 L76.1 410.26 L76.6 410.26 L77.1 410.26 L77.6 410.26 L78.1 410.26 L78.6 410.26 L79.1 410.26 L79.6 410.25 L80.1 410.25 L80.6 410.25 L81.1 410.25 L81.6 410.25 L82.1 410.25 L82.6 410.25 L83.1 410.25 L83.6 410.25 L84.1 410.25 L84.6 410.25 L85.1 410.25 L85.6 410.25 L86.1 410.25 L86.6 410.25 L87.1 410.25 L87.6 410.24 L88.1 410.24 L88.6 410.24 L89.1 410.24 L89.6 410.23 L90.1 410.22 L90.6 410.21 L91.1 410.18 L91.6 410.14 L92.1 410.08 L92.6 410 L93.1 409.89 L93.6 409.74 L94.1 409.56 L94.6 409.34 L95.1 409.09 L95.6 408.82 L96.1 408.56 L96.6 408.3 L97.1 408.08 L97.6 407.9 L98.1 407.76 L98.6 407.67 L99.1 407.6 L99.6 407.54 L100.1 407.47 L100.6 407.36 L101.1 407.2 L101.6 406.98 L102.1 406.69 L102.6 406.33 L103.1 405.91 L103.6 405.44 L104.1 404.94 L104.6 404.42 L105.1 403.89 L105.6 403.38 L106.1 402.91 L106.6 402.48 L107.1 402.11 L107.6 401.81 L108.1 401.59 L108.6 401.47 L109.1 401.43 L109.6 401.5 L110.1 401.65 L110.6 401.89 L111.1 402.21 L111.6 402.59 L112.1 403.04 L112.6 403.53 L113.1 404.05 L113.6 404.59 L114.1 405.13 L114.6 405.66 L115.1 406.18 L115.6 406.66 L116.1 407.12 L116.6 407.53 L117.1 407.9 L117.6 408.22 L118.1 408.49 L118.6 408.71 L119.1 408.87 L119.6 408.97 L120.1 409.01 L120.6 408.96 L121.1 408.81 L121.6 408.55 L122.1 408.13 L122.6 407.53 L123.1 406.68 L123.6 405.55 L124.1 404.07 L124.6 402.16 L125.1 399.76 L125.6 396.81 L126.1 393.25 L126.6 389.04 L127.1 384.17 L127.6 378.66 L128.1 372.56 L128.6 365.98 L129.1 359.05 L129.6 351.96 L130.1 344.93 L130.6 338.2 L131.1 332.05 L131.6 326.74 L132.1 322.53 L132.6 319.64 L133.1 318.23 L133.6 318.38 L134.1 320.1 L134.6 323.27 L135.1 327.72 L135.6 333.22 L136.1 339.51 L136.6 346.32 L137.1 353.38 L137.6 360.46 L138.1 367.33 L138.6 373.83 L139.1 379.81 L139.6 385.2 L140.1 389.94 L140.6 394.03 L141.1 397.47 L141.6 400.32 L142.1 402.62 L142.6 404.46 L143.1 405.9 L143.6 407 L144.1 407.83 L144.6 408.45 L145.1 408.9 L145.6 409.23 L146.1 409.47 L146.6 409.64 L147.1 409.76 L147.6 409.84 L148.1 409.9 L148.6 409.95 L149.1 409.98 L149.6 410 L150.1 410.02 L150.6 410.04 L151.1 410.06 L151.6 410.07 L152.1 410.08 L152.6 410.09 L153.1 410.1 L153.6 410.11 L154.1 410.11 L154.6 410.12 L155.1 410.12 L155.6 410.12 L156.1 410.11 L156.6 410.1 L157.1 410.08 L157.6 410.05 L158.1 410 L158.6 409.93 L159.1 409.83 L159.6 409.72 L160.1 409.57 L160.6 409.41 L161.1 409.22 L161.6 409.03 L162.1 408.83 L162.6 408.65 L163.1 408.49 L163.6 408.38 L164.1 408.31 L164.6 408.29 L165.1 408.33 L165.6 408.43 L166.1 408.57 L166.6 408.74 L167.1 408.93 L167.6 409.14 L168.1 409.33 L168.6 409.52 L169.1 409.68 L169.6 409.82 L170.1 409.93 L170.6 410.02 L171.1 410.09 L171.6 410.13 L172.1 410.17 L172.6 410.19 L173.1 410.21 L173.6 410.22 L174.1 410.23 L174.6 410.23 L175.1 410.24 L175.6 410.24 L176.1 410.24 L176.6 410.24 L177.1 410.24 L177.6 410.24 L178.1 410.24 L178.6 410.24 L179.1 410.25 L179.6 410.25 L180.1 410.25 L180.6 410.25 L181.1 410.25 L181.6 410.25 L182.1 410.25 L182.6 410.25 L183.1 410.25 L183.6 410.25 L184.1 410.25 L184.6 410.25 L185.1 410.25 L185.6 410.25 L186.1 410.25 L186.6 410.25 L187.1 410.25 L187.6 410.24 L188.1 410.24 L188.6 410.23 L189.1 410.21 L189.6 410.18 L190.1 410.15 L190.6 410.1 L191.1 410.02 L191.6 409.93 L192.1 409.79 L192.6 409.62 L193.1 409.4 L193.6 409.13 L194.1 408.79 L194.6 408.38 L195.1 407.91 L195.6 407.37 L196.1 406.76 L196.6 406.1 L197.1 405.4 L197.6 404.68 L198.1 403.95 L198.6 403.23 L199.1 402.56 L199.6 401.94 L200.1 401.38 L200.6 400.91 L201.1 400.52 L201.6 400.2 L202.1 399.96 L202.6 399.77 L203.1 399.62 L203.6 399.5 L204.1 399.37 L204.6 399.24 L205.1 399.08 L205.6 398.9 L206.1 398.69 L206.6 398.48 L207.1 398.25 L207.6 398.05 L208.1 397.87 L208.6 397.75 L209.1 397.69 L209.6 397.72 L210.1 397.85 L210.6 398.07 L211.1 398.4 L211.6 398.83 L212.1 399.35 L212.6 399.96 L213.1 400.63 L213.6 401.36 L214.1 402.11 L214.6 402.89 L215.1 403.66 L215.6 404.41 L216.1 405.14 L216.6 405.82 L217.1 406.46 L217.6 407.04 L218.1 407.56 L218.6 408.02 L219.1 408.43 L219.6 408.77 L220.1 409.07 L220.6 409.32 L221.1 409.52 L221.6 409.69 L222.1 409.82 L222.6 409.93 L223.1 410.02 L223.6 410.08 L224.1 410.13 L224.6 410.17 L225.1 410.2 L225.6 410.22 L226.1 410.24 L226.6 410.25 L227.1 410.25 L227.6 410.26 L228.1 410.26 L228.6 410.27 L229.1 410.27 L229.6 410.27 L230.1 410.27 L230.6 410.27 L231.1 410.27 L231.6 410.27 L232.1 410.27 L232.6 410.27 L233.1 410.27 L233.6 410.27 L234.1 410.27 L234.6 410.27 L235.1 410.27 L235.6 410.27 L236.1 410.27 L236.6 410.27 L237.1 410.27 L237.6 410.27 L238.1 410.27 L238.6 410.27 L239.1 410.27 L239.6 410.27 L240.1 410.27 L240.6 410.27 L241.1 410.27 L241.6 410.27 L242.1 410.27 L242.6 410.27 L243.1 410.27 L243.6 410.27 L244.1 410.27 L244.6 410.27 L245.1 410.27 L245.6 410.27 L246.1 410.27 L246.6 410.27 L247.1 410.27 L247.6 410.27 L248.1 410.27 L248.6 410.27 L249.1 410.27 L249.6 410.27 L250.1 410.27 L250.6 410.27 L251.1 410.27 L251.6 410.27 L252.1 410.27 L252.6 410.27 L253.1 410.27 L253.6 410.27 L254.1 410.27 L254.6 410.27 L255.1 410.28 L255.6 410.28 L256.1 410.28 L256.6 410.28 L257.1 410.28 L257.6 410.28 L258.1 410.28 L258.6 410.28 L259.1 410.28 L259.6 410.28 L260.1 410.28 L260.6 410.28 L261.1 410.28 L261.6 410.28 L262.1 410.28 L262.6 410.28 L263.1 410.28 L263.6 410.28 L264.1 410.28 L264.6 410.28 L265.1 410.28 L265.6 410.28 L266.1 410.28 L266.6 410.28 L267.1 410.28 L267.6 410.28 L268.1 410.28 L268.6 410.28 L269.1 410.28 L269.6 410.28 L270.1 410.28" stroke="#B177DE" stroke-width="1.8" fill="none" stroke-linejoin="round" clip-path="url(#cc)"/>
<path d="M69.6 410.18 L70.1 410.18 L70.6 410.18 L71.1 410.18 L71.6 410.18 L72.1 410.18 L72.6 410.18 L73.1 410.18 L73.6 410.18 L74.1 410.18 L74.6 410.17 L75.1 410.17 L75.6 410.17 L76.1 410.17 L76.6 410.17 L77.1 410.17 L77.6 410.17 L78.1 410.17 L78.6 410.17 L79.1 410.17 L79.6 410.17 L80.1 410.17 L80.6 410.17 L81.1 410.17 L81.6 410.17 L82.1 410.17 L82.6 410.17 L83.1 410.17 L83.6 410.16 L84.1 410.16 L84.6 410.16 L85.1 410.16 L85.6 410.16 L86.1 410.16 L86.6 410.16 L87.1 410.16 L87.6 410.16 L88.1 410.16 L88.6 410.15 L89.1 410.15 L89.6 410.14 L90.1 410.13 L90.6 410.11 L91.1 410.08 L91.6 410.04 L92.1 409.97 L92.6 409.88 L93.1 409.75 L93.6 409.58 L94.1 409.37 L94.6 409.12 L95.1 408.83 L95.6 408.53 L96.1 408.22 L96.6 407.93 L97.1 407.68 L97.6 407.47 L98.1 407.31 L98.6 407.2 L99.1 407.12 L99.6 407.05 L100.1 406.97 L100.6 406.85 L101.1 406.67 L101.6 406.41 L102.1 406.08 L102.6 405.67 L103.1 405.19 L103.6 404.65 L104.1 404.07 L104.6 403.47 L105.1 402.87 L105.6 402.29 L106.1 401.74 L106.6 401.25 L107.1 400.82 L107.6 400.48 L108.1 400.24 L108.6 400.09 L109.1 400.05 L109.6 400.12 L110.1 400.3 L110.6 400.57 L111.1 400.94 L111.6 401.38 L112.1 401.89 L112.6 402.45 L113.1 403.05 L113.6 403.66 L114.1 404.28 L114.6 404.89 L115.1 405.49 L115.6 406.04 L116.1 406.56 L116.6 407.04 L117.1 407.46 L117.6 407.83 L118.1 408.14 L118.6 408.38 L119.1 408.57 L119.6 408.68 L120.1 408.71 L120.6 408.65 L121.1 408.47 L121.6 408.16 L122.1 407.66 L122.6 406.94 L123.1 405.95 L123.6 404.6 L124.1 402.84 L124.6 400.58 L125.1 397.74 L125.6 394.24 L126.1 390.02 L126.6 385.04 L127.1 379.27 L127.6 372.74 L128.1 365.52 L128.6 357.72 L129.1 349.51 L129.6 341.11 L130.1 332.78 L130.6 324.81 L131.1 317.53 L131.6 311.24 L132.1 306.25 L132.6 302.82 L133.1 301.15 L133.6 301.34 L134.1 303.37 L134.6 307.13 L135.1 312.4 L135.6 318.92 L136.1 326.36 L136.6 334.43 L137.1 342.8 L137.6 351.18 L138.1 359.32 L138.6 367.02 L139.1 374.11 L139.6 380.49 L140.1 386.11 L140.6 390.94 L141.1 395.02 L141.6 398.4 L142.1 401.13 L142.6 403.31 L143.1 405.01 L143.6 406.31 L144.1 407.3 L144.6 408.03 L145.1 408.57 L145.6 408.96 L146.1 409.24 L146.6 409.44 L147.1 409.58 L147.6 409.68 L148.1 409.75 L148.6 409.8 L149.1 409.84 L149.6 409.87 L150.1 409.9 L150.6 409.92 L151.1 409.93 L151.6 409.95 L152.1 409.96 L152.6 409.97 L153.1 409.98 L153.6 409.99 L154.1 410 L154.6 410.01 L155.1 410.01 L155.6 410.01 L156.1 410 L156.6 409.99 L157.1 409.97 L157.6 409.93 L158.1 409.87 L158.6 409.79 L159.1 409.68 L159.6 409.55 L160.1 409.39 L160.6 409.2 L161.1 408.98 L161.6 408.76 L162.1 408.54 L162.6 408.33 L163.1 408.15 L163.6 408.01 L164.1 407.93 L164.6 407.92 L165.1 407.97 L165.6 408.07 L166.1 408.23 L166.6 408.43 L167.1 408.66 L167.6 408.89 L168.1 409.11 L168.6 409.32 L169.1 409.51 L169.6 409.67 L170.1 409.8 L170.6 409.9 L171.1 409.97 L171.6 410.03 L172.1 410.07 L172.6 410.1 L173.1 410.12 L173.6 410.13 L174.1 410.14 L174.6 410.14 L175.1 410.15 L175.6 410.15 L176.1 410.15 L176.6 410.15 L177.1 410.15 L177.6 410.16 L178.1 410.16 L178.6 410.16 L179.1 410.16 L179.6 410.16 L180.1 410.16 L180.6 410.16 L181.1 410.16 L181.6 410.16 L182.1 410.16 L182.6 410.16 L183.1 410.16 L183.6 410.17 L184.1 410.17 L184.6 410.17 L185.1 410.17 L185.6 410.17 L186.1 410.17 L186.6 410.16 L187.1 410.16 L187.6 410.16 L188.1 410.15 L188.6 410.14 L189.1 410.12 L189.6 410.09 L190.1 410.05 L190.6 409.99 L191.1 409.91 L191.6 409.79 L192.1 409.64 L192.6 409.45 L193.1 409.19 L193.6 408.88 L194.1 408.49 L194.6 408.03 L195.1 407.48 L195.6 406.86 L196.1 406.17 L196.6 405.41 L197.1 404.61 L197.6 403.78 L198.1 402.94 L198.6 402.12 L199.1 401.34 L199.6 400.63 L200.1 400 L200.6 399.45 L201.1 399.01 L201.6 398.65 L202.1 398.37 L202.6 398.15 L203.1 397.98 L203.6 397.83 L204.1 397.69 L204.6 397.54 L205.1 397.36 L205.6 397.15 L206.1 396.92 L206.6 396.66 L207.1 396.41 L207.6 396.17 L208.1 395.97 L208.6 395.83 L209.1 395.77 L209.6 395.8 L210.1 395.94 L210.6 396.2 L211.1 396.58 L211.6 397.07 L212.1 397.67 L212.6 398.37 L213.1 399.14 L213.6 399.97 L214.1 400.83 L214.6 401.72 L215.1 402.61 L215.6 403.47 L216.1 404.3 L216.6 405.09 L217.1 405.82 L217.6 406.48 L218.1 407.08 L218.6 407.61 L219.1 408.07 L219.6 408.47 L220.1 408.81 L220.6 409.1 L221.1 409.33 L221.6 409.52 L222.1 409.68 L222.6 409.8 L223.1 409.9 L223.6 409.97 L224.1 410.03 L224.6 410.07 L225.1 410.11 L225.6 410.13 L226.1 410.15 L226.6 410.16 L227.1 410.17 L227.6 410.18 L228.1 410.18 L228.6 410.18 L229.1 410.19 L229.6 410.19 L230.1 410.19 L230.6 410.19 L231.1 410.19 L231.6 410.19 L232.1 410.19 L232.6 410.19 L233.1 410.19 L233.6 410.19 L234.1 410.19 L234.6 410.19 L235.1 410.19 L235.6 410.19 L236.1 410.19 L236.6 410.19 L237.1 410.19 L237.6 410.19 L238.1 410.19 L238.6 410.19 L239.1 410.19 L239.6 410.19 L240.1 410.19 L240.6 410.19 L241.1 410.19 L241.6 410.19 L242.1 410.19 L242.6 410.19 L243.1 410.19 L243.6 410.19 L244.1 410.19 L244.6 410.19 L245.1 410.19 L245.6 410.19 L246.1 410.19 L246.6 410.19 L247.1 410.19 L247.6 410.19 L248.1 410.19 L248.6 410.19 L249.1 410.19 L249.6 410.19 L250.1 410.19 L250.6 410.19 L251.1 410.19 L251.6 410.19 L252.1 410.19 L252.6 410.19 L253.1 410.19 L253.6 410.19 L254.1 410.19 L254.6 410.19 L255.1 410.19 L255.6 410.19 L256.1 410.19 L256.6 410.19 L257.1 410.19 L257.6 410.19 L258.1 410.19 L258.6 410.19 L259.1 410.19 L259.6 410.19 L260.1 410.19 L260.6 410.19 L261.1 410.19 L261.6 410.19 L262.1 410.19 L262.6 410.19 L263.1 410.19 L263.6 410.19 L264.1 410.19 L264.6 410.19 L265.1 410.19 L265.6 410.2 L266.1 410.2 L266.6 410.2 L267.1 410.2 L267.6 410.2 L268.1 410.2 L268.6 410.2 L269.1 410.2 L269.6 410.2 L270.1 410.2" stroke="#CC9900" stroke-width="1.8" fill="none" stroke-linejoin="round" clip-path="url(#cc)"/>
<path d="M69.6 410.1 L70.1 410.1 L70.6 410.1 L71.1 410.1 L71.6 410.1 L72.1 410.1 L72.6 410.09 L73.1 410.09 L73.6 410.09 L74.1 410.09 L74.6 410.09 L75.1 410.09 L75.6 410.09 L76.1 410.09 L76.6 410.09 L77.1 410.09 L77.6 410.09 L78.1 410.09 L78.6 410.09 L79.1 410.09 L79.6 410.09 L80.1 410.09 L80.6 410.09 L81.1 410.09 L81.6 410.09 L82.1 410.08 L82.6 410.08 L83.1 410.08 L83.6 410.08 L84.1 410.08 L84.6 410.08 L85.1 410.08 L85.6 410.08 L86.1 410.08 L86.6 410.08 L87.1 410.08 L87.6 410.07 L88.1 410.07 L88.6 410.07 L89.1 410.06 L89.6 410.06 L90.1 410.04 L90.6 410.02 L91.1 409.99 L91.6 409.94 L92.1 409.87 L92.6 409.76 L93.1 409.62 L93.6 409.42 L94.1 409.19 L94.6 408.9 L95.1 408.58 L95.6 408.24 L96.1 407.89 L96.6 407.57 L97.1 407.28 L97.6 407.04 L98.1 406.87 L98.6 406.74 L99.1 406.65 L99.6 406.58 L100.1 406.48 L100.6 406.34 L101.1 406.14 L101.6 405.85 L102.1 405.48 L102.6 405.01 L103.1 404.47 L103.6 403.86 L104.1 403.21 L104.6 402.54 L105.1 401.86 L105.6 401.2 L106.1 400.59 L106.6 400.03 L107.1 399.55 L107.6 399.17 L108.1 398.89 L108.6 398.73 L109.1 398.68 L109.6 398.76 L110.1 398.96 L110.6 399.27 L111.1 399.68 L111.6 400.18 L112.1 400.76 L112.6 401.39 L113.1 402.06 L113.6 402.76 L114.1 403.46 L114.6 404.15 L115.1 404.82 L115.6 405.45 L116.1 406.03 L116.6 406.57 L117.1 407.05 L117.6 407.46 L118.1 407.81 L118.6 408.1 L119.1 408.31 L119.6 408.44 L120.1 408.49 L120.6 408.43 L121.1 408.24 L121.6 407.91 L122.1 407.38 L122.6 406.61 L123.1 405.54 L123.6 404.1 L124.1 402.21 L124.6 399.78 L125.1 396.73 L125.6 392.97 L126.1 388.44 L126.6 383.08 L127.1 376.89 L127.6 369.87 L128.1 362.12 L128.6 353.74 L129.1 344.92 L129.6 335.89 L130.1 326.94 L130.6 318.39 L131.1 310.56 L131.6 303.8 L132.1 298.44 L132.6 294.76 L133.1 292.96 L133.6 293.16 L134.1 295.35 L134.6 299.38 L135.1 305.05 L135.6 312.05 L136.1 320.05 L136.6 328.71 L137.1 337.7 L137.6 346.71 L138.1 355.46 L138.6 363.73 L139.1 371.35 L139.6 378.2 L140.1 384.24 L140.6 389.43 L141.1 393.81 L141.6 397.44 L142.1 400.38 L142.6 402.71 L143.1 404.54 L143.6 405.94 L144.1 407 L144.6 407.79 L145.1 408.37 L145.6 408.79 L146.1 409.09 L146.6 409.3 L147.1 409.45 L147.6 409.56 L148.1 409.64 L148.6 409.69 L149.1 409.74 L149.6 409.77 L150.1 409.79 L150.6 409.82 L151.1 409.83 L151.6 409.85 L152.1 409.86 L152.6 409.88 L153.1 409.89 L153.6 409.9 L154.1 409.91 L154.6 409.91 L155.1 409.92 L155.6 409.91 L156.1 409.91 L156.6 409.89 L157.1 409.86 L157.6 409.82 L158.1 409.75 L158.6 409.66 L159.1 409.54 L159.6 409.39 L160.1 409.21 L160.6 408.99 L161.1 408.76 L161.6 408.5 L162.1 408.25 L162.6 408.01 L163.1 407.81 L163.6 407.66 L164.1 407.57 L164.6 407.55 L165.1 407.6 L165.6 407.73 L166.1 407.91 L166.6 408.13 L167.1 408.38 L167.6 408.64 L168.1 408.9 L168.6 409.13 L169.1 409.34 L169.6 409.52 L170.1 409.67 L170.6 409.78 L171.1 409.87 L171.6 409.93 L172.1 409.98 L172.6 410.01 L173.1 410.03 L173.6 410.04 L174.1 410.05 L174.6 410.06 L175.1 410.06 L175.6 410.07 L176.1 410.07 L176.6 410.07 L177.1 410.07 L177.6 410.07 L178.1 410.07 L178.6 410.07 L179.1 410.08 L179.6 410.08 L180.1 410.08 L180.6 410.08 L181.1 410.08 L181.6 410.08 L182.1 410.08 L182.6 410.08 L183.1 410.08 L183.6 410.08 L184.1 410.08 L184.6 410.08 L185.1 410.08 L185.6 410.08 L186.1 410.08 L186.6 410.08 L187.1 410.08 L187.6 410.07 L188.1 410.06 L188.6 410.05 L189.1 410.03 L189.6 410 L190.1 409.95 L190.6 409.88 L191.1 409.79 L191.6 409.66 L192.1 409.49 L192.6 409.27 L193.1 408.99 L193.6 408.63 L194.1 408.19 L194.6 407.67 L195.1 407.06 L195.6 406.36 L196.1 405.57 L196.6 404.72 L197.1 403.81 L197.6 402.88 L198.1 401.93 L198.6 401.01 L199.1 400.13 L199.6 399.33 L200.1 398.61 L200.6 398 L201.1 397.49 L201.6 397.09 L202.1 396.77 L202.6 396.53 L203.1 396.34 L203.6 396.17 L204.1 396.01 L204.6 395.84 L205.1 395.63 L205.6 395.4 L206.1 395.14 L206.6 394.85 L207.1 394.57 L207.6 394.3 L208.1 394.07 L208.6 393.91 L209.1 393.84 L209.6 393.88 L210.1 394.04 L210.6 394.33 L211.1 394.76 L211.6 395.31 L212.1 395.99 L212.6 396.77 L213.1 397.64 L213.6 398.58 L214.1 399.56 L214.6 400.56 L215.1 401.56 L215.6 402.53 L216.1 403.47 L216.6 404.36 L217.1 405.18 L217.6 405.93 L218.1 406.6 L218.6 407.2 L219.1 407.72 L219.6 408.17 L220.1 408.55 L220.6 408.87 L221.1 409.14 L221.6 409.36 L222.1 409.53 L222.6 409.67 L223.1 409.78 L223.6 409.86 L224.1 409.93 L224.6 409.98 L225.1 410.01 L225.6 410.04 L226.1 410.06 L226.6 410.08 L227.1 410.09 L227.6 410.09 L228.1 410.1 L228.6 410.1 L229.1 410.11 L229.6 410.11 L230.1 410.11 L230.6 410.11 L231.1 410.11 L231.6 410.11 L232.1 410.11 L232.6 410.11 L233.1 410.11 L233.6 410.11 L234.1 410.11 L234.6 410.11 L235.1 410.11 L235.6 410.11 L236.1 410.11 L236.6 410.11 L237.1 410.11 L237.6 410.11 L238.1 410.11 L238.6 410.11 L239.1 410.11 L239.6 410.11 L240.1 410.11 L240.6 410.11 L241.1 410.11 L241.6 410.11 L242.1 410.11 L242.6 410.11 L243.1 410.11 L243.6 410.11 L244.1 410.11 L244.6 410.11 L245.1 410.11 L245.6 410.11 L246.1 410.11 L246.6 410.11 L247.1 410.11 L247.6 410.11 L248.1 410.11 L248.6 410.11 L249.1 410.11 L249.6 410.11 L250.1 410.11 L250.6 410.11 L251.1 410.11 L251.6 410.11 L252.1 410.11 L252.6 410.11 L253.1 410.11 L253.6 410.11 L254.1 410.11 L254.6 410.11 L255.1 410.11 L255.6 410.11 L256.1 410.11 L256.6 410.11 L257.1 410.11 L257.6 410.11 L258.1 410.11 L258.6 410.11 L259.1 410.11 L259.6 410.11 L260.1 410.11 L260.6 410.11 L261.1 410.11 L261.6 410.11 L262.1 410.11 L262.6 410.11 L263.1 410.11 L263.6 410.11 L264.1 410.11 L264.6 410.11 L265.1 410.11 L265.6 410.11 L266.1 410.11 L266.6 410.11 L267.1 410.11 L267.6 410.11 L268.1 410.11 L268.6 410.11 L269.1 410.11 L269.6 410.11 L270.1 410.11" stroke="#00CBCC" stroke-width="1.8" fill="none" stroke-linejoin="round" clip-path="url(#cc)"/>
<path d="M69.6 410.01 L70.1 410.01 L70.6 410.01 L71.1 410.01 L71.6 410.01 L72.1 410.01 L72.6 410.01 L73.1 410.01 L73.6 410.01 L74.1 410.01 L74.6 410.01 L75.1 410.01 L75.6 410.01 L76.1 410.01 L76.6 410.01 L77.1 410.01 L77.6 410.01 L78.1 410.01 L78.6 410 L79.1 410 L79.6 410 L80.1 410 L80.6 410 L81.1 410 L81.6 410 L82.1 410 L82.6 410 L83.1 410 L83.6 410 L84.1 410 L84.6 410 L85.1 409.99 L85.6 409.99 L86.1 409.99 L86.6 409.99 L87.1 409.99 L87.6 409.99 L88.1 409.99 L88.6 409.98 L89.1 409.98 L89.6 409.97 L90.1 409.96 L90.6 409.93 L91.1 409.9 L91.6 409.84 L92.1 409.76 L92.6 409.64 L93.1 409.48 L93.6 409.26 L94.1 409 L94.6 408.68 L95.1 408.32 L95.6 407.94 L96.1 407.56 L96.6 407.19 L97.1 406.87 L97.6 406.61 L98.1 406.42 L98.6 406.28 L99.1 406.18 L99.6 406.09 L100.1 405.99 L100.6 405.83 L101.1 405.61 L101.6 405.29 L102.1 404.87 L102.6 404.35 L103.1 403.75 L103.6 403.07 L104.1 402.35 L104.6 401.6 L105.1 400.84 L105.6 400.11 L106.1 399.42 L106.6 398.8 L107.1 398.27 L107.6 397.84 L108.1 397.53 L108.6 397.35 L109.1 397.3 L109.6 397.39 L110.1 397.61 L110.6 397.96 L111.1 398.41 L111.6 398.97 L112.1 399.61 L112.6 400.32 L113.1 401.07 L113.6 401.84 L114.1 402.62 L114.6 403.39 L115.1 404.13 L115.6 404.83 L116.1 405.48 L116.6 406.08 L117.1 406.61 L117.6 407.07 L118.1 407.46 L118.6 407.78 L119.1 408.01 L119.6 408.16 L120.1 408.2 L120.6 408.13 L121.1 407.92 L121.6 407.54 L122.1 406.93 L122.6 406.06 L123.1 404.84 L123.6 403.21 L124.1 401.06 L124.6 398.3 L125.1 394.83 L125.6 390.57 L126.1 385.42 L126.6 379.34 L127.1 372.3 L127.6 364.33 L128.1 355.52 L128.6 346.01 L129.1 335.99 L129.6 325.74 L130.1 315.58 L130.6 305.86 L131.1 296.97 L131.6 289.29 L132.1 283.2 L132.6 279.02 L133.1 276.98 L133.6 277.21 L134.1 279.69 L134.6 284.28 L135.1 290.71 L135.6 298.66 L136.1 307.75 L136.6 317.59 L137.1 327.8 L137.6 338.02 L138.1 347.96 L138.6 357.35 L139.1 366 L139.6 373.79 L140.1 380.64 L140.6 386.55 L141.1 391.52 L141.6 395.64 L142.1 398.97 L142.6 401.63 L143.1 403.7 L143.6 405.3 L144.1 406.5 L144.6 407.4 L145.1 408.05 L145.6 408.53 L146.1 408.87 L146.6 409.11 L147.1 409.28 L147.6 409.4 L148.1 409.49 L148.6 409.56 L149.1 409.6 L149.6 409.64 L150.1 409.67 L150.6 409.7 L151.1 409.72 L151.6 409.73 L152.1 409.75 L152.6 409.76 L153.1 409.78 L153.6 409.79 L154.1 409.8 L154.6 409.8 L155.1 409.81 L155.6 409.81 L156.1 409.8 L156.6 409.78 L157.1 409.75 L157.6 409.7 L158.1 409.63 L158.6 409.53 L159.1 409.4 L159.6 409.23 L160.1 409.02 L160.6 408.78 L161.1 408.52 L161.6 408.24 L162.1 407.96 L162.6 407.69 L163.1 407.47 L163.6 407.3 L164.1 407.2 L164.6 407.18 L165.1 407.24 L165.6 407.37 L166.1 407.57 L166.6 407.82 L167.1 408.1 L167.6 408.39 L168.1 408.68 L168.6 408.94 L169.1 409.17 L169.6 409.37 L170.1 409.53 L170.6 409.66 L171.1 409.76 L171.6 409.83 L172.1 409.88 L172.6 409.92 L173.1 409.94 L173.6 409.95 L174.1 409.97 L174.6 409.97 L175.1 409.98 L175.6 409.98 L176.1 409.98 L176.6 409.98 L177.1 409.98 L177.6 409.99 L178.1 409.99 L178.6 409.99 L179.1 409.99 L179.6 409.99 L180.1 409.99 L180.6 409.99 L181.1 409.99 L181.6 409.99 L182.1 410 L182.6 410 L183.1 410 L183.6 410 L184.1 410 L184.6 410 L185.1 410 L185.6 410 L186.1 410 L186.6 410 L187.1 409.99 L187.6 409.99 L188.1 409.98 L188.6 409.96 L189.1 409.94 L189.6 409.9 L190.1 409.85 L190.6 409.78 L191.1 409.67 L191.6 409.53 L192.1 409.34 L192.6 409.09 L193.1 408.78 L193.6 408.38 L194.1 407.89 L194.6 407.31 L195.1 406.63 L195.6 405.85 L196.1 404.98 L196.6 404.03 L197.1 403.02 L197.6 401.97 L198.1 400.92 L198.6 399.9 L199.1 398.92 L199.6 398.03 L200.1 397.23 L200.6 396.55 L201.1 395.98 L201.6 395.53 L202.1 395.18 L202.6 394.91 L203.1 394.7 L203.6 394.51 L204.1 394.33 L204.6 394.14 L205.1 393.91 L205.6 393.65 L206.1 393.36 L206.6 393.04 L207.1 392.73 L207.6 392.43 L208.1 392.17 L208.6 392 L209.1 391.92 L209.6 391.96 L210.1 392.14 L210.6 392.46 L211.1 392.93 L211.6 393.55 L212.1 394.31 L212.6 395.18 L213.1 396.15 L213.6 397.19 L214.1 398.28 L214.6 399.39 L215.1 400.5 L215.6 401.59 L216.1 402.64 L216.6 403.62 L217.1 404.54 L217.6 405.37 L218.1 406.12 L218.6 406.79 L219.1 407.37 L219.6 407.87 L220.1 408.3 L220.6 408.65 L221.1 408.95 L221.6 409.19 L222.1 409.38 L222.6 409.54 L223.1 409.66 L223.6 409.75 L224.1 409.83 L224.6 409.88 L225.1 409.92 L225.6 409.95 L226.1 409.98 L226.6 409.99 L227.1 410 L227.6 410.01 L228.1 410.02 L228.6 410.02 L229.1 410.02 L229.6 410.03 L230.1 410.03 L230.6 410.03 L231.1 410.03 L231.6 410.03 L232.1 410.03 L232.6 410.03 L233.1 410.03 L233.6 410.03 L234.1 410.03 L234.6 410.03 L235.1 410.03 L235.6 410.03 L236.1 410.03 L236.6 410.03 L237.1 410.03 L237.6 410.03 L238.1 410.03 L238.6 410.03 L239.1 410.03 L239.6 410.03 L240.1 410.03 L240.6 410.03 L241.1 410.03 L241.6 410.03 L242.1 410.03 L242.6 410.03 L243.1 410.03 L243.6 410.03 L244.1 410.03 L244.6 410.03 L245.1 410.03 L245.6 410.03 L246.1 410.03 L246.6 410.03 L247.1 410.03 L247.6 410.03 L248.1 410.03 L248.6 410.03 L249.1 410.03 L249.6 410.03 L250.1 410.03 L250.6 410.03 L251.1 410.03 L251.6 410.03 L252.1 410.03 L252.6 410.03 L253.1 410.03 L253.6 410.03 L254.1 410.03 L254.6 410.03 L255.1 410.03 L255.6 410.03 L256.1 410.03 L256.6 410.03 L257.1 410.03 L257.6 410.03 L258.1 410.03 L258.6 410.03 L259.1 410.03 L259.6 410.03 L260.1 410.03 L260.6 410.03 L261.1 410.03 L261.6 410.03 L262.1 410.03 L262.6 410.03 L263.1 410.03 L263.6 410.03 L264.1 410.03 L264.6 410.03 L265.1 410.03 L265.6 410.03 L266.1 410.03 L266.6 410.03 L267.1 410.03 L267.6 410.03 L268.1 410.03 L268.6 410.03 L269.1 410.03 L269.6 410.03 L270.1 410.03" stroke="#7D4E4E" stroke-width="1.8" fill="none" stroke-linejoin="round" clip-path="url(#cc)"/>
<path d="M69.6 409.93 L70.1 409.93 L70.6 409.93 L71.1 409.93 L71.6 409.93 L72.1 409.93 L72.6 409.93 L73.1 409.93 L73.6 409.93 L74.1 409.93 L74.6 409.93 L75.1 409.93 L75.6 409.93 L76.1 409.93 L76.6 409.93 L77.1 409.92 L77.6 409.92 L78.1 409.92 L78.6 409.92 L79.1 409.92 L79.6 409.92 L80.1 409.92 L80.6 409.92 L81.1 409.92 L81.6 409.92 L82.1 409.92 L82.6 409.92 L83.1 409.92 L83.6 409.91 L84.1 409.91 L84.6 409.91 L85.1 409.91 L85.6 409.91 L86.1 409.91 L86.6 409.91 L87.1 409.91 L87.6 409.91 L88.1 409.9 L88.6 409.9 L89.1 409.89 L89.6 409.88 L90.1 409.87 L90.6 409.84 L91.1 409.81 L91.6 409.74 L92.1 409.65 L92.6 409.52 L93.1 409.34 L93.6 409.11 L94.1 408.82 L94.6 408.47 L95.1 408.07 L95.6 407.65 L96.1 407.23 L96.6 406.83 L97.1 406.48 L97.6 406.19 L98.1 405.97 L98.6 405.82 L99.1 405.71 L99.6 405.61 L100.1 405.5 L100.6 405.33 L101.1 405.08 L101.6 404.73 L102.1 404.27 L102.6 403.7 L103.1 403.03 L103.6 402.29 L104.1 401.49 L104.6 400.66 L105.1 399.83 L105.6 399.02 L106.1 398.27 L106.6 397.59 L107.1 397 L107.6 396.53 L108.1 396.19 L108.6 395.99 L109.1 395.93 L109.6 396.03 L110.1 396.27 L110.6 396.66 L111.1 397.16 L111.6 397.78 L112.1 398.48 L112.6 399.26 L113.1 400.08 L113.6 400.94 L114.1 401.8 L114.6 402.64 L115.1 403.46 L115.6 404.24 L116.1 404.96 L116.6 405.61 L117.1 406.2 L117.6 406.71 L118.1 407.14 L118.6 407.49 L119.1 407.76 L119.6 407.92 L120.1 407.98 L120.6 407.92 L121.1 407.7 L121.6 407.31 L122.1 406.68 L122.6 405.76 L123.1 404.49 L123.6 402.77 L124.1 400.51 L124.6 397.61 L125.1 393.96 L125.6 389.47 L126.1 384.06 L126.6 377.66 L127.1 370.26 L127.6 361.88 L128.1 352.61 L128.6 342.6 L129.1 332.06 L129.6 321.28 L130.1 310.59 L130.6 300.37 L131.1 291.01 L131.6 282.94 L132.1 276.53 L132.6 272.14 L133.1 269.99 L133.6 270.23 L134.1 272.84 L134.6 277.67 L135.1 284.43 L135.6 292.79 L136.1 302.36 L136.6 312.71 L137.1 323.45 L137.6 334.2 L138.1 344.65 L138.6 354.53 L139.1 363.64 L139.6 371.83 L140.1 379.04 L140.6 385.25 L141.1 390.48 L141.6 394.81 L142.1 398.32 L142.6 401.11 L143.1 403.29 L143.6 404.97 L144.1 406.24 L144.6 407.18 L145.1 407.87 L145.6 408.37 L146.1 408.73 L146.6 408.98 L147.1 409.16 L147.6 409.29 L148.1 409.38 L148.6 409.45 L149.1 409.5 L149.6 409.54 L150.1 409.57 L150.6 409.6 L151.1 409.62 L151.6 409.64 L152.1 409.65 L152.6 409.67 L153.1 409.68 L153.6 409.7 L154.1 409.71 L154.6 409.71 L155.1 409.72 L155.6 409.71 L156.1 409.7 L156.6 409.69 L157.1 409.65 L157.6 409.6 L158.1 409.52 L158.6 409.41 L159.1 409.26 L159.6 409.07 L160.1 408.85 L160.6 408.58 L161.1 408.29 L161.6 407.98 L162.1 407.67 L162.6 407.38 L163.1 407.13 L163.6 406.94 L164.1 406.83 L164.6 406.81 L165.1 406.88 L165.6 407.03 L166.1 407.25 L166.6 407.52 L167.1 407.83 L167.6 408.15 L168.1 408.46 L168.6 408.75 L169.1 409.01 L169.6 409.23 L170.1 409.41 L170.6 409.55 L171.1 409.65 L171.6 409.73 L172.1 409.79 L172.6 409.83 L173.1 409.85 L173.6 409.87 L174.1 409.88 L174.6 409.89 L175.1 409.89 L175.6 409.9 L176.1 409.9 L176.6 409.9 L177.1 409.9 L177.6 409.9 L178.1 409.9 L178.6 409.91 L179.1 409.91 L179.6 409.91 L180.1 409.91 L180.6 409.91 L181.1 409.91 L181.6 409.91 L182.1 409.91 L182.6 409.91 L183.1 409.91 L183.6 409.92 L184.1 409.92 L184.6 409.92 L185.1 409.92 L185.6 409.92 L186.1 409.92 L186.6 409.91 L187.1 409.91 L187.6 409.9 L188.1 409.89 L188.6 409.88 L189.1 409.85 L189.6 409.81 L190.1 409.75 L190.6 409.67 L191.1 409.56 L191.6 409.4 L192.1 409.19 L192.6 408.92 L193.1 408.57 L193.6 408.13 L194.1 407.6 L194.6 406.95 L195.1 406.2 L195.6 405.34 L196.1 404.38 L196.6 403.34 L197.1 402.22 L197.6 401.07 L198.1 399.92 L198.6 398.78 L199.1 397.71 L199.6 396.72 L200.1 395.85 L200.6 395.09 L201.1 394.47 L201.6 393.98 L202.1 393.59 L202.6 393.29 L203.1 393.06 L203.6 392.85 L204.1 392.65 L204.6 392.44 L205.1 392.19 L205.6 391.9 L206.1 391.58 L206.6 391.23 L207.1 390.88 L207.6 390.55 L208.1 390.28 L208.6 390.08 L209.1 389.99 L209.6 390.04 L210.1 390.23 L210.6 390.59 L211.1 391.11 L211.6 391.8 L212.1 392.63 L212.6 393.59 L213.1 394.65 L213.6 395.8 L214.1 397 L214.6 398.23 L215.1 399.45 L215.6 400.65 L216.1 401.8 L216.6 402.89 L217.1 403.9 L217.6 404.82 L218.1 405.64 L218.6 406.38 L219.1 407.02 L219.6 407.57 L220.1 408.04 L220.6 408.43 L221.1 408.76 L221.6 409.02 L222.1 409.24 L222.6 409.41 L223.1 409.54 L223.6 409.65 L224.1 409.73 L224.6 409.79 L225.1 409.83 L225.6 409.86 L226.1 409.89 L226.6 409.91 L227.1 409.92 L227.6 409.93 L228.1 409.93 L228.6 409.94 L229.1 409.94 L229.6 409.94 L230.1 409.95 L230.6 409.95 L231.1 409.95 L231.6 409.95 L232.1 409.95 L232.6 409.95 L233.1 409.95 L233.6 409.95 L234.1 409.95 L234.6 409.95 L235.1 409.95 L235.6 409.95 L236.1 409.95 L236.6 409.95 L237.1 409.95 L237.6 409.95 L238.1 409.95 L238.6 409.95 L239.1 409.95 L239.6 409.95 L240.1 409.95 L240.6 409.95 L241.1 409.95 L241.6 409.95 L242.1 409.95 L242.6 409.95 L243.1 409.95 L243.6 409.95 L244.1 409.95 L244.6 409.95 L245.1 409.95 L245.6 409.95 L246.1 409.95 L246.6 409.95 L247.1 409.95 L247.6 409.95 L248.1 409.95 L248.6 409.95 L249.1 409.95 L249.6 409.95 L250.1 409.95 L250.6 409.95 L251.1 409.95 L251.6 409.95 L252.1 409.95 L252.6 409.95 L253.1 409.95 L253.6 409.95 L254.1 409.95 L254.6 409.95 L255.1 409.95 L255.6 409.95 L256.1 409.95 L256.6 409.95 L257.1 409.95 L257.6 409.95 L258.1 409.95 L258.6 409.95 L259.1 409.95 L259.6 409.95 L260.1 409.95 L260.6 409.95 L261.1 409.95 L261.6 409.95 L262.1 409.95 L262.6 409.95 L263.1 409.95 L263.6 409.95 L264.1 409.95 L264.6 409.95 L265.1 409.95 L265.6 409.95 L266.1 409.95 L266.6 409.95 L267.1 409.95 L267.6 409.95 L268.1 409.95 L268.6 409.95 L269.1 409.95 L269.6 409.95 L270.1 409.95" stroke="#8E8E00" stroke-width="1.8" fill="none" stroke-linejoin="round" clip-path="url(#cc)"/>
<path d="M69.6 409.85 L70.1 409.85 L70.6 409.85 L71.1 409.85 L71.6 409.85 L72.1 409.85 L72.6 409.85 L73.1 409.85 L73.6 409.85 L74.1 409.85 L74.6 409.85 L75.1 409.84 L75.6 409.84 L76.1 409.84 L76.6 409.84 L77.1 409.84 L77.6 409.84 L78.1 409.84 L78.6 409.84 L79.1 409.84 L79.6 409.84 L80.1 409.84 L80.6 409.84 L81.1 409.84 L81.6 409.84 L82.1 409.83 L82.6 409.83 L83.1 409.83 L83.6 409.83 L84.1 409.83 L84.6 409.83 L85.1 409.83 L85.6 409.83 L86.1 409.83 L86.6 409.82 L87.1 409.82 L87.6 409.82 L88.1 409.82 L88.6 409.81 L89.1 409.81 L89.6 409.8 L90.1 409.78 L90.6 409.76 L91.1 409.71 L91.6 409.65 L92.1 409.55 L92.6 409.4 L93.1 409.21 L93.6 408.95 L94.1 408.63 L94.6 408.25 L95.1 407.82 L95.6 407.36 L96.1 406.9 L96.6 406.46 L97.1 406.08 L97.6 405.76 L98.1 405.52 L98.6 405.36 L99.1 405.24 L99.6 405.13 L100.1 405.01 L100.6 404.83 L101.1 404.55 L101.6 404.17 L102.1 403.66 L102.6 403.04 L103.1 402.32 L103.6 401.5 L104.1 400.63 L104.6 399.73 L105.1 398.82 L105.6 397.94 L106.1 397.11 L106.6 396.36 L107.1 395.72 L107.6 395.21 L108.1 394.84 L108.6 394.62 L109.1 394.56 L109.6 394.67 L110.1 394.93 L110.6 395.35 L111.1 395.9 L111.6 396.58 L112.1 397.35 L112.6 398.2 L113.1 399.1 L113.6 400.03 L114.1 400.97 L114.6 401.89 L115.1 402.79 L115.6 403.64 L116.1 404.42 L116.6 405.14 L117.1 405.78 L117.6 406.34 L118.1 406.82 L118.6 407.2 L119.1 407.49 L119.6 407.67 L120.1 407.74 L120.6 407.68 L121.1 407.45 L121.6 407.03 L122.1 406.36 L122.6 405.38 L123.1 404.01 L123.6 402.17 L124.1 399.76 L124.6 396.65 L125.1 392.75 L125.6 387.94 L126.1 382.15 L126.6 375.29 L127.1 367.37 L127.6 358.4 L128.1 348.47 L128.6 337.75 L129.1 326.47 L129.6 314.93 L130.1 303.48 L130.6 292.53 L131.1 282.51 L131.6 273.87 L132.1 267.01 L132.6 262.3 L133.1 260.01 L133.6 260.26 L134.1 263.06 L134.6 268.22 L135.1 275.47 L135.6 284.42 L136.1 294.66 L136.6 305.74 L137.1 317.24 L137.6 328.76 L138.1 339.95 L138.6 350.53 L139.1 360.28 L139.6 369.05 L140.1 376.77 L140.6 383.42 L141.1 389.02 L141.6 393.66 L142.1 397.41 L142.6 400.41 L143.1 402.74 L143.6 404.54 L144.1 405.89 L144.6 406.9 L145.1 407.64 L145.6 408.18 L146.1 408.56 L146.6 408.83 L147.1 409.03 L147.6 409.16 L148.1 409.26 L148.6 409.34 L149.1 409.39 L149.6 409.43 L150.1 409.46 L150.6 409.49 L151.1 409.51 L151.6 409.54 L152.1 409.55 L152.6 409.57 L153.1 409.58 L153.6 409.6 L154.1 409.61 L154.6 409.61 L155.1 409.62 L155.6 409.62 L156.1 409.61 L156.6 409.58 L157.1 409.55 L157.6 409.49 L158.1 409.4 L158.6 409.28 L159.1 409.12 L159.6 408.91 L160.1 408.67 L160.6 408.38 L161.1 408.06 L161.6 407.72 L162.1 407.38 L162.6 407.06 L163.1 406.79 L163.6 406.59 L164.1 406.47 L164.6 406.44 L165.1 406.51 L165.6 406.68 L166.1 406.92 L166.6 407.22 L167.1 407.56 L167.6 407.9 L168.1 408.25 L168.6 408.56 L169.1 408.84 L169.6 409.08 L170.1 409.28 L170.6 409.43 L171.1 409.55 L171.6 409.63 L172.1 409.69 L172.6 409.74 L173.1 409.76 L173.6 409.78 L174.1 409.79 L174.6 409.8 L175.1 409.81 L175.6 409.81 L176.1 409.81 L176.6 409.82 L177.1 409.82 L177.6 409.82 L178.1 409.82 L178.6 409.82 L179.1 409.82 L179.6 409.82 L180.1 409.83 L180.6 409.83 L181.1 409.83 L181.6 409.83 L182.1 409.83 L182.6 409.83 L183.1 409.83 L183.6 409.83 L184.1 409.83 L184.6 409.83 L185.1 409.83 L185.6 409.83 L186.1 409.83 L186.6 409.83 L187.1 409.83 L187.6 409.82 L188.1 409.81 L188.6 409.79 L189.1 409.76 L189.6 409.72 L190.1 409.65 L190.6 409.56 L191.1 409.44 L191.6 409.27 L192.1 409.04 L192.6 408.74 L193.1 408.36 L193.6 407.88 L194.1 407.3 L194.6 406.6 L195.1 405.78 L195.6 404.84 L196.1 403.79 L196.6 402.64 L197.1 401.43 L197.6 400.17 L198.1 398.91 L198.6 397.67 L199.1 396.5 L199.6 395.42 L200.1 394.46 L200.6 393.64 L201.1 392.96 L201.6 392.42 L202.1 392 L202.6 391.67 L203.1 391.41 L203.6 391.19 L204.1 390.97 L204.6 390.74 L205.1 390.47 L205.6 390.16 L206.1 389.8 L206.6 389.42 L207.1 389.04 L207.6 388.68 L208.1 388.38 L208.6 388.16 L209.1 388.07 L209.6 388.12 L210.1 388.33 L210.6 388.72 L211.1 389.29 L211.6 390.04 L212.1 390.94 L212.6 391.99 L213.1 393.16 L213.6 394.41 L214.1 395.73 L214.6 397.07 L215.1 398.4 L215.6 399.71 L216.1 400.97 L216.6 402.16 L217.1 403.26 L217.6 404.26 L218.1 405.17 L218.6 405.97 L219.1 406.67 L219.6 407.27 L220.1 407.78 L220.6 408.21 L221.1 408.57 L221.6 408.86 L222.1 409.09 L222.6 409.28 L223.1 409.42 L223.6 409.54 L224.1 409.62 L224.6 409.69 L225.1 409.74 L225.6 409.78 L226.1 409.8 L226.6 409.82 L227.1 409.84 L227.6 409.85 L228.1 409.85 L228.6 409.86 L229.1 409.86 L229.6 409.86 L230.1 409.86 L230.6 409.87 L231.1 409.87 L231.6 409.87 L232.1 409.87 L232.6 409.87 L233.1 409.87 L233.6 409.87 L234.1 409.87 L234.6 409.87 L235.1 409.87 L235.6 409.87 L236.1 409.87 L236.6 409.87 L237.1 409.87 L237.6 409.87 L238.1 409.87 L238.6 409.87 L239.1 409.87 L239.6 409.87 L240.1 409.87 L240.6 409.87 L241.1 409.87 L241.6 409.87 L242.1 409.87 L242.6 409.87 L243.1 409.87 L243.6 409.87 L244.1 409.87 L244.6 409.87 L245.1 409.87 L245.6 409.87 L246.1 409.87 L246.6 409.87 L247.1 409.87 L247.6 409.87 L248.1 409.87 L248.6 409.87 L249.1 409.87 L249.6 409.87 L250.1 409.87 L250.6 409.87 L251.1 409.87 L251.6 409.87 L252.1 409.87 L252.6 409.87 L253.1 409.87 L253.6 409.87 L254.1 409.87 L254.6 409.87 L255.1 409.87 L255.6 409.87 L256.1 409.87 L256.6 409.87 L257.1 409.87 L257.6 409.87 L258.1 409.87 L258.6 409.87 L259.1 409.87 L259.6 409.87 L260.1 409.87 L260.6 409.87 L261.1 409.87 L261.6 409.87 L262.1 409.87 L262.6 409.87 L263.1 409.87 L263.6 409.87 L264.1 409.87 L264.6 409.87 L265.1 409.87 L265.6 409.87 L266.1 409.87 L266.6 409.87 L267.1 409.87 L267.6 409.87 L268.1 409.87 L268.6 409.87 L269.1 409.87 L269.6 409.87 L270.1 409.87" stroke="#FB6501" stroke-width="1.8" fill="none" stroke-linejoin="round" clip-path="url(#cc)"/>
<path d="M69.6 409.77 L70.1 409.77 L70.6 409.77 L71.1 409.77 L71.6 409.77 L72.1 409.77 L72.6 409.77 L73.1 409.76 L73.6 409.76 L74.1 409.76 L74.6 409.76 L75.1 409.76 L75.6 409.76 L76.1 409.76 L76.6 409.76 L77.1 409.76 L77.6 409.76 L78.1 409.76 L78.6 409.76 L79.1 409.76 L79.6 409.76 L80.1 409.75 L80.6 409.75 L81.1 409.75 L81.6 409.75 L82.1 409.75 L82.6 409.75 L83.1 409.75 L83.6 409.75 L84.1 409.75 L84.6 409.75 L85.1 409.75 L85.6 409.74 L86.1 409.74 L86.6 409.74 L87.1 409.74 L87.6 409.74 L88.1 409.73 L88.6 409.73 L89.1 409.72 L89.6 409.71 L90.1 409.7 L90.6 409.67 L91.1 409.62 L91.6 409.55 L92.1 409.44 L92.6 409.28 L93.1 409.07 L93.6 408.79 L94.1 408.45 L94.6 408.03 L95.1 407.57 L95.6 407.07 L96.1 406.57 L96.6 406.09 L97.1 405.68 L97.6 405.33 L98.1 405.08 L98.6 404.9 L99.1 404.77 L99.6 404.65 L100.1 404.52 L100.6 404.32 L101.1 404.02 L101.6 403.61 L102.1 403.06 L102.6 402.39 L103.1 401.6 L103.6 400.72 L104.1 399.77 L104.6 398.79 L105.1 397.8 L105.6 396.85 L106.1 395.95 L106.6 395.14 L107.1 394.45 L107.6 393.89 L108.1 393.49 L108.6 393.25 L109.1 393.19 L109.6 393.31 L110.1 393.59 L110.6 394.04 L111.1 394.64 L111.6 395.37 L112.1 396.21 L112.6 397.13 L113.1 398.11 L113.6 399.12 L114.1 400.14 L114.6 401.14 L115.1 402.11 L115.6 403.03 L116.1 403.89 L116.6 404.67 L117.1 405.36 L117.6 405.97 L118.1 406.49 L118.6 406.9 L119.1 407.22 L119.6 407.42 L120.1 407.5 L120.6 407.43 L121.1 407.19 L121.6 406.74 L122.1 406.03 L122.6 404.99 L123.1 403.53 L123.6 401.56 L124.1 398.98 L124.6 395.66 L125.1 391.49 L125.6 386.35 L126.1 380.16 L126.6 372.84 L127.1 364.36 L127.6 354.77 L128.1 344.17 L128.6 332.71 L129.1 320.66 L129.6 308.32 L130.1 296.08 L130.6 284.38 L131.1 273.68 L131.6 264.44 L132.1 257.11 L132.6 252.07 L133.1 249.62 L133.6 249.89 L134.1 252.88 L134.6 258.4 L135.1 266.15 L135.6 275.72 L136.1 286.66 L136.6 298.5 L137.1 310.79 L137.6 323.1 L138.1 335.06 L138.6 346.37 L139.1 356.79 L139.6 366.16 L140.1 374.41 L140.6 381.52 L141.1 387.51 L141.6 392.46 L142.1 396.48 L142.6 399.67 L143.1 402.17 L143.6 404.09 L144.1 405.54 L144.6 406.62 L145.1 407.41 L145.6 407.98 L146.1 408.39 L146.6 408.68 L147.1 408.89 L147.6 409.03 L148.1 409.14 L148.6 409.22 L149.1 409.28 L149.6 409.32 L150.1 409.36 L150.6 409.38 L151.1 409.41 L151.6 409.43 L152.1 409.45 L152.6 409.47 L153.1 409.48 L153.6 409.5 L154.1 409.51 L154.6 409.52 L155.1 409.52 L155.6 409.52 L156.1 409.51 L156.6 409.48 L157.1 409.44 L157.6 409.38 L158.1 409.28 L158.6 409.15 L159.1 408.98 L159.6 408.75 L160.1 408.49 L160.6 408.17 L161.1 407.83 L161.6 407.46 L162.1 407.09 L162.6 406.75 L163.1 406.45 L163.6 406.23 L164.1 406.1 L164.6 406.07 L165.1 406.15 L165.6 406.33 L166.1 406.59 L166.6 406.92 L167.1 407.28 L167.6 407.66 L168.1 408.03 L168.6 408.37 L169.1 408.68 L169.6 408.94 L170.1 409.15 L170.6 409.31 L171.1 409.44 L171.6 409.53 L172.1 409.6 L172.6 409.64 L173.1 409.68 L173.6 409.7 L174.1 409.71 L174.6 409.72 L175.1 409.72 L175.6 409.73 L176.1 409.73 L176.6 409.73 L177.1 409.73 L177.6 409.74 L178.1 409.74 L178.6 409.74 L179.1 409.74 L179.6 409.74 L180.1 409.74 L180.6 409.74 L181.1 409.74 L181.6 409.75 L182.1 409.75 L182.6 409.75 L183.1 409.75 L183.6 409.75 L184.1 409.75 L184.6 409.75 L185.1 409.75 L185.6 409.75 L186.1 409.75 L186.6 409.75 L187.1 409.74 L187.6 409.73 L188.1 409.72 L188.6 409.7 L189.1 409.67 L189.6 409.62 L190.1 409.55 L190.6 409.46 L191.1 409.32 L191.6 409.14 L192.1 408.89 L192.6 408.57 L193.1 408.15 L193.6 407.64 L194.1 407 L194.6 406.24 L195.1 405.35 L195.6 404.33 L196.1 403.19 L196.6 401.95 L197.1 400.64 L197.6 399.27 L198.1 397.9 L198.6 396.56 L199.1 395.29 L199.6 394.12 L200.1 393.08 L200.6 392.19 L201.1 391.45 L201.6 390.86 L202.1 390.4 L202.6 390.05 L203.1 389.77 L203.6 389.53 L204.1 389.3 L204.6 389.04 L205.1 388.75 L205.6 388.41 L206.1 388.02 L206.6 387.61 L207.1 387.2 L207.6 386.81 L208.1 386.48 L208.6 386.25 L209.1 386.14 L209.6 386.2 L210.1 386.43 L210.6 386.85 L211.1 387.47 L211.6 388.28 L212.1 389.26 L212.6 390.4 L213.1 391.67 L213.6 393.03 L214.1 394.45 L214.6 395.9 L215.1 397.35 L215.6 398.77 L216.1 400.14 L216.6 401.42 L217.1 402.62 L217.6 403.71 L218.1 404.69 L218.6 405.56 L219.1 406.32 L219.6 406.97 L220.1 407.53 L220.6 407.99 L221.1 408.38 L221.6 408.69 L222.1 408.94 L222.6 409.15 L223.1 409.31 L223.6 409.43 L224.1 409.52 L224.6 409.59 L225.1 409.65 L225.6 409.69 L226.1 409.72 L226.6 409.74 L227.1 409.75 L227.6 409.76 L228.1 409.77 L228.6 409.78 L229.1 409.78 L229.6 409.78 L230.1 409.78 L230.6 409.78 L231.1 409.79 L231.6 409.79 L232.1 409.79 L232.6 409.79 L233.1 409.79 L233.6 409.79 L234.1 409.79 L234.6 409.79 L235.1 409.79 L235.6 409.79 L236.1 409.79 L236.6 409.79 L237.1 409.79 L237.6 409.79 L238.1 409.79 L238.6 409.79 L239.1 409.79 L239.6 409.79 L240.1 409.79 L240.6 409.79 L241.1 409.79 L241.6 409.79 L242.1 409.79 L242.6 409.79 L243.1 409.79 L243.6 409.79 L244.1 409.79 L244.6 409.79 L245.1 409.79 L245.6 409.79 L246.1 409.79 L246.6 409.79 L247.1 409.79 L247.6 409.79 L248.1 409.79 L248.6 409.79 L249.1 409.79 L249.6 409.79 L250.1 409.79 L250.6 409.79 L251.1 409.79 L251.6 409.79 L252.1 409.79 L252.6 409.79 L253.1 409.79 L253.6 409.79 L254.1 409.79 L254.6 409.79 L255.1 409.79 L255.6 409.79 L256.1 409.79 L256.6 409.79 L257.1 409.79 L257.6 409.79 L258.1 409.79 L258.6 409.79 L259.1 409.79 L259.6 409.79 L260.1 409.79 L260.6 409.79 L261.1 409.79 L261.6 409.79 L262.1 409.79 L262.6 409.79 L263.1 409.79 L263.6 409.79 L264.1 409.79 L264.6 409.79 L265.1 409.79 L265.6 409.79 L266.1 409.79 L266.6 409.79 L267.1 409.79 L267.6 409.79 L268.1 409.79 L268.6 409.79 L269.1 409.79 L269.6 409.79 L270.1 409.79" stroke="#6699CC" stroke-width="1.8" fill="none" stroke-linejoin="round" clip-path="url(#cc)"/>
<rect x="69.6" y="232.9" width="200" height="178.2" fill="none" stroke="#111" stroke-width="1.7"/>
<path d="M69.6 411.1 V414.3 M117.2 411.1 V414.3 M164.8 411.1 V414.3 M212.4 411.1 V414.3 M260 411.1 V414.3" stroke="#111" stroke-width="1.3" fill="none"/>
<path d="M93.4 411.1 V412.9 M141 411.1 V412.9 M188.6 411.1 V412.9 M236.2 411.1 V412.9" stroke="#111" stroke-width="1.3" fill="none"/>
<path d="M69.6 411.1 H66.4 M69.6 366.35 H66.4 M69.6 321.6 H66.4 M69.6 276.85 H66.4 M69.6 232.1 H66.4" stroke="#111" stroke-width="1.3" fill="none"/>
<path d="M69.6 388.73 H67.8 M69.6 343.98 H67.8 M69.6 299.23 H67.8 M69.6 254.48 H67.8" stroke="#111" stroke-width="1.3" fill="none"/>
<text x="69.6" y="424.2" font-size="11" text-anchor="middle" >550</text>
<text x="117.2" y="424.2" font-size="11" text-anchor="middle" >600</text>
<text x="164.8" y="424.2" font-size="11" text-anchor="middle" >650</text>
<text x="212.4" y="424.2" font-size="11" text-anchor="middle" >700</text>
<text x="260" y="424.2" font-size="11" text-anchor="middle" >750</text>
<text x="64.5" y="415" font-size="11" text-anchor="end" >0.0</text>
<text x="64.5" y="370.25" font-size="11" text-anchor="end" >5.0k</text>
<text x="64.5" y="325.5" font-size="11" text-anchor="end" >10.0k</text>
<text x="64.5" y="280.75" font-size="11" text-anchor="end" >15.0k</text>
<text x="64.5" y="236" font-size="11" text-anchor="end" >20.0k</text>
<text x="169.2" y="440" font-size="11.3" text-anchor="middle" >Wavelength (nm)</text>
<text x="31.1" y="321.4" font-size="11.1" text-anchor="middle" transform="rotate(-90 31.1 321.4)">Photoluminescence Intensity (a.u.)</text>
<text x="4.8" y="235.1" font-size="19.5" text-anchor="start" >c</text>
<rect x="214.5" y="237.4" width="49.5" height="123.7" fill="#fff" stroke="#111" stroke-width="1.5"/>
<path d="M215 243.5 H236" stroke="#515151" stroke-width="1.9"/>
<text x="238" y="246.6" font-size="8.6" text-anchor="start" >0</text>
<path d="M215 254.65 H236" stroke="#F14040" stroke-width="1.9"/>
<text x="238" y="257.75" font-size="8.6" text-anchor="start" >1 µM</text>
<path d="M215 265.8 H236" stroke="#1A6FDF" stroke-width="1.9"/>
<text x="238" y="268.9" font-size="8.6" text-anchor="start" >2 µM</text>
<path d="M215 276.95 H236" stroke="#37AD6B" stroke-width="1.9"/>
<text x="238" y="280.05" font-size="8.6" text-anchor="start" >3 µM</text>
<path d="M215 288.1 H236" stroke="#B177DE" stroke-width="1.9"/>
<text x="238" y="291.2" font-size="8.6" text-anchor="start" >4 µM</text>
<path d="M215 299.25 H236" stroke="#CC9900" stroke-width="1.9"/>
<text x="238" y="302.35" font-size="8.6" text-anchor="start" >5 µM</text>
<path d="M215 310.4 H236" stroke="#00CBCC" stroke-width="1.9"/>
<text x="238" y="313.5" font-size="8.6" text-anchor="start" >6 µM</text>
<path d="M215 321.55 H236" stroke="#7D4E4E" stroke-width="1.9"/>
<text x="238" y="324.65" font-size="8.6" text-anchor="start" >7 µM</text>
<path d="M215 332.7 H236" stroke="#8E8E00" stroke-width="1.9"/>
<text x="238" y="335.8" font-size="8.6" text-anchor="start" >8 µM</text>
<path d="M215 343.85 H236" stroke="#FB6501" stroke-width="1.9"/>
<text x="238" y="346.95" font-size="8.6" text-anchor="start" >9 µM</text>
<path d="M215 355 H236" stroke="#6699CC" stroke-width="1.9"/>
<text x="238" y="358.1" font-size="8.6" text-anchor="start" >10 µM</text>
<clipPath id="cd"><rect x="334.1" y="232.8" width="199.8" height="178"/></clipPath>
<path d="M333.6 399.6 L334.1 399.6 L334.6 399.6 L335.1 399.6 L335.6 399.6 L336.1 399.6 L336.6 399.6 L337.1 399.6 L337.6 399.6 L338.1 399.95 L338.6 400.81 L339.1 401.73 L339.6 402.86 L340.1 404 L340.6 404.14 L341.1 404.28 L341.6 404.41 L342.1 404.55 L342.6 404.69 L343.1 404.81 L343.6 404.86 L344.1 404.91 L344.6 404.95 L345.1 405 L345.6 405.05 L346.1 405.1 L346.6 405.16 L347.1 405.23 L347.6 405.29 L348.1 405.36 L348.6 405.42 L349.1 405.48 L349.6 405.55 L350.1 405.61 L350.6 405.65 L351.1 405.69 L351.6 405.73 L352.1 405.78 L352.6 405.82 L353.1 405.86 L353.6 405.9 L354.1 405.94 L354.6 405.98 L355.1 405.9 L355.6 405.75 L356.1 405.59 L356.6 405.43 L357.1 405.28 L357.6 405.15 L358.1 405.03 L358.6 404.91 L359.1 404.79 L359.6 404.67 L360.1 404.55 L360.6 404.48 L361.1 404.44 L361.6 404.4 L362.1 404.36 L362.6 404.32 L363.1 404.28 L363.6 404.25 L364.1 404.21 L364.6 404.17 L365.1 404.13 L365.6 404.09 L366.1 404.05 L366.6 404.02 L367.1 404 L367.6 404 L368.1 404 L368.6 404 L369.1 404 L369.6 403.9 L370.1 403.4 L370.6 403 L371.1 403 L371.6 403 L372.1 403 L372.6 403 L373.1 403 L373.6 403 L374.1 403 L374.6 403 L375.1 403 L375.6 403 L376.1 403 L376.6 403 L377.1 403 L377.6 403 L378.1 403 L378.6 403 L379.1 403 L379.6 403 L380.1 403 L380.6 403 L381.1 403 L381.6 403 L382.1 403 L382.6 403 L383.1 403 L383.6 403 L384.1 403 L384.6 403 L385.1 403 L385.6 403 L386.1 403 L386.6 403 L387.1 403 L387.6 403 L388.1 403 L388.6 403 L389.1 403 L389.6 403 L390.1 403 L390.6 402.98 L391.1 402.97 L391.6 402.95 L392.1 402.94 L392.6 402.92 L393.1 402.91 L393.6 402.9 L394.1 402.88 L394.6 402.87 L395.1 402.85 L395.6 402.84 L396.1 402.82 L396.6 402.81 L397.1 402.79 L397.6 402.78 L398.1 402.77 L398.6 402.75 L399.1 402.74 L399.6 402.72 L400.1 402.71 L400.6 402.69 L401.1 402.68 L401.6 402.66 L402.1 402.65 L402.6 402.63 L403.1 402.62 L403.6 402.61 L404.1 402.41 L404.6 402.08 L405.1 401.76 L405.6 401.44 L406.1 401.17 L406.6 400.89 L407.1 400.62 L407.6 400.4 L408.1 400.4 L408.6 400.4 L409.1 400.4 L409.6 400.4 L410.1 400.4 L410.6 400.4 L411.1 400.4 L411.6 400.4 L412.1 400.4 L412.6 400.4 L413.1 400.4 L413.6 400.4 L414.1 400.4 L414.6 400.4 L415.1 400.4 L415.6 400.4 L416.1 400.4 L416.6 400.4 L417.1 400.4 L417.6 400.4 L418.1 400.4 L418.6 400.4 L419.1 400.4 L419.6 400.4 L420.1 400.4 L420.6 400.4 L421.1 400.4 L421.6 400.4 L422.1 400.4 L422.6 400.4 L423.1 400.4 L423.6 400.4 L424.1 400.4 L424.6 400.4 L425.1 400.4 L425.6 400.4 L426.1 400.4 L426.6 400.4 L427.1 400.4 L427.6 400.4 L428.1 400.4 L428.6 400.4 L429.1 400.4 L429.6 400.4 L430.1 400.4 L430.6 400.4 L431.1 400.4 L431.6 400.4 L432.1 400.4 L432.6 400.4 L433.1 400.4 L433.6 400.4 L434.1 400.4 L434.6 400.4 L435.1 400.4 L435.6 400.4 L436.1 400.4 L436.6 400.4 L437.1 400.4 L437.6 400.4 L438.1 400.4 L438.6 400.4 L439.1 400.4 L439.6 400.4 L440.1 400.4 L440.6 400.4 L441.1 400.4 L441.6 400.4 L442.1 400.4 L442.6 400.4 L443.1 400.4 L443.6 400.4 L444.1 400.4 L444.6 400.4 L445.1 400.4 L445.6 400.4 L446.1 400.4 L446.6 400.4 L447.1 400.77 L447.6 401.24 L448.1 401.71 L448.6 401.31 L449.1 400.71 L449.6 400.1 L450.1 400.09 L450.6 400.08 L451.1 400.07 L451.6 400.06 L452.1 400.05 L452.6 400.04 L453.1 400.03 L453.6 400.02 L454.1 400.01 L454.6 400 L455.1 399.99 L455.6 399.98 L456.1 399.97 L456.6 399.96 L457.1 399.95 L457.6 399.94 L458.1 399.93 L458.6 399.92 L459.1 399.91 L459.6 399.9 L460.1 399.89 L460.6 399.88 L461.1 399.87 L461.6 399.86 L462.1 399.85 L462.6 399.85 L463.1 399.84 L463.6 399.83 L464.1 399.82 L464.6 399.81 L465.1 399.8 L465.6 399.79 L466.1 399.78 L466.6 399.77 L467.1 399.76 L467.6 399.75 L468.1 399.74 L468.6 399.73 L469.1 399.72 L469.6 399.71 L470.1 399.7 L470.6 399.7 L471.1 399.7 L471.6 399.7 L472.1 399.7 L472.6 399.7 L473.1 399.7 L473.6 399.7 L474.1 399.7 L474.6 399.7 L475.1 399.7 L475.6 399.7 L476.1 399.7 L476.6 399.7 L477.1 399.7 L477.6 399.7 L478.1 399.7 L478.6 399.7 L479.1 399.7 L479.6 399.7 L480.1 399.7 L480.6 399.7 L481.1 399.7 L481.6 399.7 L482.1 399.7 L482.6 399.7 L483.1 399.7 L483.6 399.7 L484.1 399.7 L484.6 399.7 L485.1 399.7 L485.6 399.7 L486.1 399.7 L486.6 399.7 L487.1 399.7 L487.6 399.7 L488.1 399.7 L488.6 399.7 L489.1 399.7 L489.6 399.7 L490.1 399.7 L490.6 399.7 L491.1 399.7 L491.6 399.7 L492.1 399.7 L492.6 399.7 L493.1 399.7 L493.6 399.7 L494.1 399.7 L494.6 399.7 L495.1 399.7 L495.6 399.7 L496.1 399.7 L496.6 399.7 L497.1 399.7 L497.6 399.7 L498.1 399.7 L498.6 399.7 L499.1 399.7 L499.6 399.7 L500.1 399.7 L500.6 399.7 L501.1 399.7 L501.6 399.7 L502.1 399.7 L502.6 399.7 L503.1 399.7 L503.6 399.7 L504.1 399.7 L504.6 399.7 L505.1 399.7 L505.6 399.7 L506.1 399.7 L506.6 399.7 L507.1 399.7 L507.6 399.7 L508.1 399.7 L508.6 399.7 L509.1 399.7 L509.6 399.7 L510.1 399.7 L510.6 399.7 L511.1 399.7 L511.6 399.7 L512.1 399.7 L512.6 399.7 L513.1 399.7 L513.6 399.7 L514.1 399.7 L514.6 399.7 L515.1 399.7 L515.6 399.7 L516.1 399.7 L516.6 399.7 L517.1 399.7 L517.6 399.7 L518.1 399.7 L518.6 399.7 L519.1 399.7 L519.6 399.7 L520.1 399.7 L520.6 399.7 L521.1 399.7 L521.6 399.7 L522.1 399.7 L522.6 399.7 L523.1 399.7 L523.6 399.7 L524.1 399.7 L524.6 399.7 L525.1 399.7 L525.6 399.7 L526.1 399.7 L526.6 399.7 L527.1 399.7 L527.6 399.7 L528.1 399.7 L528.6 399.7 L529.1 399.7 L529.6 399.7 L530.1 399.7 L530.6 399.7 L531.1 399.7 L531.6 399.7 L532.1 399.7 L532.6 399.7 L533.1 399.7 L533.6 399.7 L534.1 399.7" stroke="#515151" stroke-width="1.8" fill="none" stroke-linejoin="round" clip-path="url(#cd)"/>
<path d="M333.6 387.86 L334.1 387.84 L334.6 387.83 L335.1 387.81 L335.6 387.8 L336.1 387.82 L336.6 387.87 L337.1 387.98 L337.6 388.14 L338.1 388.41 L338.6 389.31 L339.1 390.45 L339.6 391.87 L340.1 392.93 L340.6 393.44 L341.1 393.76 L341.6 393.96 L342.1 394.1 L342.6 394.2 L343.1 394.32 L343.6 394.46 L344.1 394.61 L344.6 394.76 L345.1 394.91 L345.6 395.05 L346.1 395.19 L346.6 395.32 L347.1 395.45 L347.6 395.57 L348.1 395.68 L348.6 395.78 L349.1 395.88 L349.6 395.97 L350.1 396.05 L350.6 396.13 L351.1 396.21 L351.6 396.3 L352.1 396.38 L352.6 396.46 L353.1 396.53 L353.6 396.6 L354.1 396.67 L354.6 396.72 L355.1 396.79 L355.6 396.86 L356.1 396.94 L356.6 397 L357.1 397.07 L357.6 397.13 L358.1 397.19 L358.6 397.25 L359.1 397.3 L359.6 397.36 L360.1 397.41 L360.6 397.47 L361.1 397.51 L361.6 397.56 L362.1 397.6 L362.6 397.64 L363.1 397.67 L363.6 397.7 L364.1 397.73 L364.6 397.75 L365.1 397.76 L365.6 397.77 L366.1 397.78 L366.6 397.77 L367.1 397.75 L367.6 397.73 L368.1 397.69 L368.6 397.65 L369.1 397.59 L369.6 397.55 L370.1 397.54 L370.6 397.53 L371.1 397.46 L371.6 397.39 L372.1 397.32 L372.6 397.26 L373.1 397.2 L373.6 397.15 L374.1 397.1 L374.6 397.06 L375.1 397.02 L375.6 396.99 L376.1 396.95 L376.6 396.91 L377.1 396.87 L377.6 396.83 L378.1 396.79 L378.6 396.74 L379.1 396.69 L379.6 396.64 L380.1 396.59 L380.6 396.54 L381.1 396.48 L381.6 396.43 L382.1 396.37 L382.6 396.32 L383.1 396.26 L383.6 396.2 L384.1 396.14 L384.6 396.08 L385.1 396.01 L385.6 395.93 L386.1 395.85 L386.6 395.76 L387.1 395.66 L387.6 395.55 L388.1 395.43 L388.6 395.3 L389.1 395.16 L389.6 395.01 L390.1 394.86 L390.6 394.7 L391.1 394.54 L391.6 394.37 L392.1 394.19 L392.6 394.02 L393.1 393.84 L393.6 393.66 L394.1 393.48 L394.6 393.3 L395.1 393.13 L395.6 392.96 L396.1 392.79 L396.6 392.62 L397.1 392.46 L397.6 392.29 L398.1 392.12 L398.6 391.95 L399.1 391.77 L399.6 391.59 L400.1 391.41 L400.6 391.21 L401.1 390.99 L401.6 390.76 L402.1 390.51 L402.6 390.25 L403.1 389.99 L403.6 389.72 L404.1 389.47 L404.6 389.24 L405.1 389.02 L405.6 388.8 L406.1 388.57 L406.6 388.34 L407.1 388.12 L407.6 387.9 L408.1 387.65 L408.6 387.42 L409.1 387.2 L409.6 386.98 L410.1 386.78 L410.6 386.58 L411.1 386.39 L411.6 386.22 L412.1 386.05 L412.6 385.89 L413.1 385.75 L413.6 385.63 L414.1 385.52 L414.6 385.43 L415.1 385.36 L415.6 385.29 L416.1 385.24 L416.6 385.19 L417.1 385.15 L417.6 385.11 L418.1 385.07 L418.6 385.03 L419.1 384.98 L419.6 384.94 L420.1 384.89 L420.6 384.86 L421.1 384.82 L421.6 384.8 L422.1 384.79 L422.6 384.79 L423.1 384.8 L423.6 384.8 L424.1 384.81 L424.6 384.82 L425.1 384.83 L425.6 384.85 L426.1 384.87 L426.6 384.89 L427.1 384.92 L427.6 384.95 L428.1 384.99 L428.6 385.04 L429.1 385.09 L429.6 385.14 L430.1 385.2 L430.6 385.27 L431.1 385.35 L431.6 385.43 L432.1 385.52 L432.6 385.61 L433.1 385.71 L433.6 385.81 L434.1 385.92 L434.6 386.03 L435.1 386.15 L435.6 386.29 L436.1 386.44 L436.6 386.6 L437.1 386.77 L437.6 386.96 L438.1 387.15 L438.6 387.37 L439.1 387.6 L439.6 387.84 L440.1 388.09 L440.6 388.35 L441.1 388.61 L441.6 388.88 L442.1 389.15 L442.6 389.42 L443.1 389.7 L443.6 389.99 L444.1 390.28 L444.6 390.59 L445.1 390.92 L445.6 391.28 L446.1 391.68 L446.6 392.08 L447.1 392.44 L447.6 392.75 L448.1 393.02 L448.6 393.34 L449.1 393.66 L449.6 393.98 L450.1 394.24 L450.6 394.51 L451.1 394.78 L451.6 395.06 L452.1 395.33 L452.6 395.59 L453.1 395.83 L453.6 396.06 L454.1 396.28 L454.6 396.49 L455.1 396.69 L455.6 396.87 L456.1 397.04 L456.6 397.19 L457.1 397.32 L457.6 397.45 L458.1 397.57 L458.6 397.68 L459.1 397.79 L459.6 397.89 L460.1 397.99 L460.6 398.08 L461.1 398.16 L461.6 398.24 L462.1 398.31 L462.6 398.38 L463.1 398.45 L463.6 398.51 L464.1 398.57 L464.6 398.62 L465.1 398.67 L465.6 398.72 L466.1 398.77 L466.6 398.81 L467.1 398.86 L467.6 398.9 L468.1 398.93 L468.6 398.97 L469.1 399 L469.6 399.03 L470.1 399.06 L470.6 399.08 L471.1 399.1 L471.6 399.11 L472.1 399.13 L472.6 399.14 L473.1 399.15 L473.6 399.17 L474.1 399.18 L474.6 399.19 L475.1 399.2 L475.6 399.22 L476.1 399.23 L476.6 399.24 L477.1 399.24 L477.6 399.25 L478.1 399.26 L478.6 399.26 L479.1 399.27 L479.6 399.28 L480.1 399.28 L480.6 399.29 L481.1 399.3 L481.6 399.31 L482.1 399.32 L482.6 399.33 L483.1 399.34 L483.6 399.35 L484.1 399.36 L484.6 399.37 L485.1 399.37 L485.6 399.38 L486.1 399.39 L486.6 399.4 L487.1 399.41 L487.6 399.42 L488.1 399.43 L488.6 399.44 L489.1 399.45 L489.6 399.46 L490.1 399.47 L490.6 399.47 L491.1 399.48 L491.6 399.49 L492.1 399.49 L492.6 399.5 L493.1 399.51 L493.6 399.51 L494.1 399.52 L494.6 399.52 L495.1 399.52 L495.6 399.52 L496.1 399.53 L496.6 399.53 L497.1 399.53 L497.6 399.54 L498.1 399.54 L498.6 399.54 L499.1 399.54 L499.6 399.54 L500.1 399.55 L500.6 399.55 L501.1 399.55 L501.6 399.55 L502.1 399.55 L502.6 399.56 L503.1 399.56 L503.6 399.56 L504.1 399.56 L504.6 399.56 L505.1 399.56 L505.6 399.57 L506.1 399.57 L506.6 399.57 L507.1 399.57 L507.6 399.57 L508.1 399.57 L508.6 399.57 L509.1 399.57 L509.6 399.58 L510.1 399.58 L510.6 399.58 L511.1 399.58 L511.6 399.58 L512.1 399.58 L512.6 399.58 L513.1 399.58 L513.6 399.58 L514.1 399.58 L514.6 399.58 L515.1 399.58 L515.6 399.59 L516.1 399.59 L516.6 399.59 L517.1 399.59 L517.6 399.59 L518.1 399.59 L518.6 399.59 L519.1 399.59 L519.6 399.59 L520.1 399.59 L520.6 399.59 L521.1 399.59 L521.6 399.59 L522.1 399.59 L522.6 399.59 L523.1 399.59 L523.6 399.59 L524.1 399.59 L524.6 399.59 L525.1 399.59 L525.6 399.59 L526.1 399.59 L526.6 399.59 L527.1 399.6 L527.6 399.6 L528.1 399.6 L528.6 399.6 L529.1 399.6 L529.6 399.6 L530.1 399.6 L530.6 399.6 L531.1 399.6 L531.6 399.6 L532.1 399.6 L532.6 399.6 L533.1 399.6 L533.6 399.6 L534.1 399.6" stroke="#F14040" stroke-width="1.8" fill="none" stroke-linejoin="round" clip-path="url(#cd)"/>
<path d="M333.6 377.5 L334.1 377.51 L334.6 377.52 L335.1 377.53 L335.6 377.55 L336.1 377.6 L336.6 377.7 L337.1 377.86 L337.6 378.08 L338.1 378.39 L338.6 379.3 L339.1 380.48 L339.6 381.99 L340.1 383.15 L340.6 383.81 L341.1 384.23 L341.6 384.5 L342.1 384.7 L342.6 384.85 L343.1 385.03 L343.6 385.25 L344.1 385.48 L344.6 385.71 L345.1 385.93 L345.6 386.16 L346.1 386.38 L346.6 386.59 L347.1 386.79 L347.6 386.99 L348.1 387.18 L348.6 387.35 L349.1 387.53 L349.6 387.69 L350.1 387.85 L350.6 388.02 L351.1 388.19 L351.6 388.36 L352.1 388.54 L352.6 388.71 L353.1 388.89 L353.6 389.05 L354.1 389.21 L354.6 389.35 L355.1 389.51 L355.6 389.69 L356.1 389.86 L356.6 390.03 L357.1 390.2 L357.6 390.35 L358.1 390.5 L358.6 390.65 L359.1 390.79 L359.6 390.93 L360.1 391.07 L360.6 391.19 L361.1 391.3 L361.6 391.41 L362.1 391.52 L362.6 391.62 L363.1 391.71 L363.6 391.79 L364.1 391.86 L364.6 391.92 L365.1 391.98 L365.6 392.03 L366.1 392.07 L366.6 392.09 L367.1 392.1 L367.6 392.09 L368.1 392.06 L368.6 392.02 L369.1 391.97 L369.6 391.92 L370.1 391.96 L370.6 391.97 L371.1 391.88 L371.6 391.79 L372.1 391.7 L372.6 391.62 L373.1 391.54 L373.6 391.48 L374.1 391.41 L374.6 391.35 L375.1 391.3 L375.6 391.24 L376.1 391.18 L376.6 391.11 L377.1 391.04 L377.6 390.96 L378.1 390.88 L378.6 390.79 L379.1 390.7 L379.6 390.6 L380.1 390.49 L380.6 390.39 L381.1 390.28 L381.6 390.16 L382.1 390.05 L382.6 389.93 L383.1 389.81 L383.6 389.69 L384.1 389.57 L384.6 389.43 L385.1 389.29 L385.6 389.14 L386.1 388.97 L386.6 388.79 L387.1 388.59 L387.6 388.37 L388.1 388.14 L388.6 387.89 L389.1 387.62 L389.6 387.34 L390.1 387.04 L390.6 386.74 L391.1 386.42 L391.6 386.1 L392.1 385.76 L392.6 385.42 L393.1 385.08 L393.6 384.74 L394.1 384.4 L394.6 384.07 L395.1 383.74 L395.6 383.41 L396.1 383.1 L396.6 382.79 L397.1 382.48 L397.6 382.17 L398.1 381.86 L398.6 381.55 L399.1 381.24 L399.6 380.92 L400.1 380.6 L400.6 380.26 L401.1 379.9 L401.6 379.53 L402.1 379.14 L402.6 378.73 L403.1 378.32 L403.6 377.89 L404.1 377.51 L404.6 377.15 L405.1 376.8 L405.6 376.45 L406.1 376.08 L406.6 375.72 L407.1 375.36 L407.6 375 L408.1 374.61 L408.6 374.22 L409.1 373.84 L409.6 373.46 L410.1 373.1 L410.6 372.75 L411.1 372.41 L411.6 372.09 L412.1 371.78 L412.6 371.5 L413.1 371.24 L413.6 371.01 L414.1 370.81 L414.6 370.65 L415.1 370.51 L415.6 370.39 L416.1 370.28 L416.6 370.19 L417.1 370.11 L417.6 370.03 L418.1 369.96 L418.6 369.88 L419.1 369.79 L419.6 369.71 L420.1 369.63 L420.6 369.56 L421.1 369.51 L421.6 369.47 L422.1 369.45 L422.6 369.46 L423.1 369.47 L423.6 369.49 L424.1 369.52 L424.6 369.54 L425.1 369.58 L425.6 369.62 L426.1 369.66 L426.6 369.72 L427.1 369.78 L427.6 369.85 L428.1 369.93 L428.6 370.02 L429.1 370.13 L429.6 370.24 L430.1 370.38 L430.6 370.52 L431.1 370.67 L431.6 370.84 L432.1 371.02 L432.6 371.21 L433.1 371.41 L433.6 371.62 L434.1 371.84 L434.6 372.07 L435.1 372.33 L435.6 372.61 L436.1 372.91 L436.6 373.23 L437.1 373.58 L437.6 373.95 L438.1 374.35 L438.6 374.79 L439.1 375.25 L439.6 375.73 L440.1 376.24 L440.6 376.76 L441.1 377.29 L441.6 377.83 L442.1 378.37 L442.6 378.91 L443.1 379.48 L443.6 380.05 L444.1 380.65 L444.6 381.27 L445.1 381.92 L445.6 382.65 L446.1 383.44 L446.6 384.25 L447.1 384.97 L447.6 385.6 L448.1 386.13 L448.6 386.77 L449.1 387.42 L449.6 388.05 L450.1 388.58 L450.6 389.12 L451.1 389.67 L451.6 390.23 L452.1 390.77 L452.6 391.29 L453.1 391.78 L453.6 392.25 L454.1 392.69 L454.6 393.11 L455.1 393.5 L455.6 393.87 L456.1 394.21 L456.6 394.51 L457.1 394.78 L457.6 395.04 L458.1 395.28 L458.6 395.51 L459.1 395.73 L459.6 395.93 L460.1 396.13 L460.6 396.31 L461.1 396.48 L461.6 396.64 L462.1 396.79 L462.6 396.93 L463.1 397.06 L463.6 397.19 L464.1 397.31 L464.6 397.42 L465.1 397.53 L465.6 397.63 L466.1 397.73 L466.6 397.82 L467.1 397.9 L467.6 397.99 L468.1 398.06 L468.6 398.14 L469.1 398.21 L469.6 398.27 L470.1 398.32 L470.6 398.36 L471.1 398.4 L471.6 398.44 L472.1 398.47 L472.6 398.5 L473.1 398.53 L473.6 398.55 L474.1 398.58 L474.6 398.61 L475.1 398.64 L475.6 398.66 L476.1 398.69 L476.6 398.71 L477.1 398.73 L477.6 398.74 L478.1 398.76 L478.6 398.77 L479.1 398.78 L479.6 398.8 L480.1 398.82 L480.6 398.83 L481.1 398.85 L481.6 398.87 L482.1 398.89 L482.6 398.91 L483.1 398.93 L483.6 398.95 L484.1 398.97 L484.6 398.99 L485.1 399.01 L485.6 399.03 L486.1 399.05 L486.6 399.07 L487.1 399.09 L487.6 399.11 L488.1 399.13 L488.6 399.15 L489.1 399.17 L489.6 399.18 L490.1 399.2 L490.6 399.22 L491.1 399.23 L491.6 399.25 L492.1 399.26 L492.6 399.27 L493.1 399.29 L493.6 399.3 L494.1 399.31 L494.6 399.31 L495.1 399.32 L495.6 399.33 L496.1 399.33 L496.6 399.34 L497.1 399.34 L497.6 399.35 L498.1 399.35 L498.6 399.36 L499.1 399.36 L499.6 399.37 L500.1 399.37 L500.6 399.38 L501.1 399.38 L501.6 399.38 L502.1 399.39 L502.6 399.39 L503.1 399.4 L503.6 399.4 L504.1 399.4 L504.6 399.41 L505.1 399.41 L505.6 399.41 L506.1 399.42 L506.6 399.42 L507.1 399.42 L507.6 399.42 L508.1 399.43 L508.6 399.43 L509.1 399.43 L509.6 399.43 L510.1 399.44 L510.6 399.44 L511.1 399.44 L511.6 399.44 L512.1 399.44 L512.6 399.45 L513.1 399.45 L513.6 399.45 L514.1 399.45 L514.6 399.45 L515.1 399.45 L515.6 399.46 L516.1 399.46 L516.6 399.46 L517.1 399.46 L517.6 399.46 L518.1 399.46 L518.6 399.46 L519.1 399.47 L519.6 399.47 L520.1 399.47 L520.6 399.47 L521.1 399.47 L521.6 399.47 L522.1 399.47 L522.6 399.47 L523.1 399.47 L523.6 399.47 L524.1 399.48 L524.6 399.48 L525.1 399.48 L525.6 399.48 L526.1 399.48 L526.6 399.48 L527.1 399.48 L527.6 399.48 L528.1 399.48 L528.6 399.49 L529.1 399.49 L529.6 399.49 L530.1 399.49 L530.6 399.49 L531.1 399.49 L531.6 399.49 L532.1 399.49 L532.6 399.5 L533.1 399.5 L533.6 399.5 L534.1 399.5" stroke="#1A6FDF" stroke-width="1.8" fill="none" stroke-linejoin="round" clip-path="url(#cd)"/>
<path d="M333.6 370.05 L334.1 370.06 L334.6 370.1 L335.1 370.13 L335.6 370.17 L336.1 370.25 L336.6 370.37 L337.1 370.57 L337.6 370.83 L338.1 371.17 L338.6 372.08 L339.1 373.3 L339.6 374.87 L340.1 376.09 L340.6 376.87 L341.1 377.35 L341.6 377.68 L342.1 377.92 L342.6 378.11 L343.1 378.33 L343.6 378.59 L344.1 378.88 L344.6 379.17 L345.1 379.45 L345.6 379.73 L346.1 380.01 L346.6 380.27 L347.1 380.53 L347.6 380.78 L348.1 381.02 L348.6 381.25 L349.1 381.48 L349.6 381.69 L350.1 381.91 L350.6 382.13 L351.1 382.36 L351.6 382.59 L352.1 382.84 L352.6 383.08 L353.1 383.32 L353.6 383.55 L354.1 383.76 L354.6 383.96 L355.1 384.19 L355.6 384.44 L356.1 384.68 L356.6 384.92 L357.1 385.15 L357.6 385.37 L358.1 385.58 L358.6 385.78 L359.1 385.98 L359.6 386.17 L360.1 386.36 L360.6 386.53 L361.1 386.69 L361.6 386.83 L362.1 386.98 L362.6 387.11 L363.1 387.23 L363.6 387.33 L364.1 387.43 L364.6 387.52 L365.1 387.59 L365.6 387.66 L366.1 387.71 L366.6 387.74 L367.1 387.76 L367.6 387.74 L368.1 387.72 L368.6 387.67 L369.1 387.6 L369.6 387.54 L370.1 387.6 L370.6 387.61 L371.1 387.49 L371.6 387.37 L372.1 387.25 L372.6 387.13 L373.1 387.03 L373.6 386.93 L374.1 386.83 L374.6 386.74 L375.1 386.65 L375.6 386.56 L376.1 386.46 L376.6 386.36 L377.1 386.24 L377.6 386.11 L378.1 385.98 L378.6 385.83 L379.1 385.68 L379.6 385.52 L380.1 385.36 L380.6 385.19 L381.1 385.01 L381.6 384.83 L382.1 384.64 L382.6 384.46 L383.1 384.27 L383.6 384.07 L384.1 383.87 L384.6 383.65 L385.1 383.43 L385.6 383.19 L386.1 382.93 L386.6 382.65 L387.1 382.35 L387.6 382.02 L388.1 381.67 L388.6 381.3 L389.1 380.9 L389.6 380.49 L390.1 380.06 L390.6 379.61 L391.1 379.15 L391.6 378.68 L392.1 378.19 L392.6 377.7 L393.1 377.21 L393.6 376.71 L394.1 376.22 L394.6 375.73 L395.1 375.25 L395.6 374.78 L396.1 374.32 L396.6 373.87 L397.1 373.42 L397.6 372.97 L398.1 372.52 L398.6 372.07 L399.1 371.62 L399.6 371.17 L400.1 370.71 L400.6 370.23 L401.1 369.74 L401.6 369.22 L402.1 368.69 L402.6 368.14 L403.1 367.59 L403.6 367.01 L404.1 366.49 L404.6 366.01 L405.1 365.53 L405.6 365.05 L406.1 364.55 L406.6 364.06 L407.1 363.58 L407.6 363.09 L408.1 362.54 L408.6 362.02 L409.1 361.49 L409.6 360.97 L410.1 360.47 L410.6 359.98 L411.1 359.51 L411.6 359.05 L412.1 358.62 L412.6 358.22 L413.1 357.86 L413.6 357.53 L414.1 357.25 L414.6 357.01 L415.1 356.8 L415.6 356.62 L416.1 356.47 L416.6 356.33 L417.1 356.21 L417.6 356.09 L418.1 355.98 L418.6 355.86 L419.1 355.74 L419.6 355.62 L420.1 355.51 L420.6 355.41 L421.1 355.34 L421.6 355.29 L422.1 355.26 L422.6 355.28 L423.1 355.3 L423.6 355.33 L424.1 355.37 L424.6 355.41 L425.1 355.46 L425.6 355.52 L426.1 355.59 L426.6 355.67 L427.1 355.77 L427.6 355.87 L428.1 356 L428.6 356.13 L429.1 356.29 L429.6 356.46 L430.1 356.66 L430.6 356.87 L431.1 357.1 L431.6 357.35 L432.1 357.61 L432.6 357.89 L433.1 358.19 L433.6 358.5 L434.1 358.82 L434.6 359.16 L435.1 359.53 L435.6 359.94 L436.1 360.39 L436.6 360.86 L437.1 361.38 L437.6 361.93 L438.1 362.51 L438.6 363.14 L439.1 363.82 L439.6 364.53 L440.1 365.28 L440.6 366.04 L441.1 366.82 L441.6 367.6 L442.1 368.39 L442.6 369.19 L443.1 370.02 L443.6 370.86 L444.1 371.74 L444.6 372.65 L445.1 373.6 L445.6 374.66 L446.1 375.82 L446.6 377.01 L447.1 378.05 L447.6 378.98 L448.1 379.76 L448.6 380.7 L449.1 381.65 L449.6 382.57 L450.1 383.34 L450.6 384.14 L451.1 384.95 L451.6 385.76 L452.1 386.55 L452.6 387.31 L453.1 388.04 L453.6 388.71 L454.1 389.36 L454.6 389.97 L455.1 390.55 L455.6 391.09 L456.1 391.59 L456.6 392.03 L457.1 392.43 L457.6 392.81 L458.1 393.17 L458.6 393.5 L459.1 393.82 L459.6 394.12 L460.1 394.41 L460.6 394.67 L461.1 394.92 L461.6 395.16 L462.1 395.38 L462.6 395.59 L463.1 395.78 L463.6 395.97 L464.1 396.15 L464.6 396.31 L465.1 396.47 L465.6 396.62 L466.1 396.76 L466.6 396.9 L467.1 397.02 L467.6 397.15 L468.1 397.26 L468.6 397.37 L469.1 397.47 L469.6 397.56 L470.1 397.64 L470.6 397.71 L471.1 397.76 L471.6 397.82 L472.1 397.86 L472.6 397.91 L473.1 397.95 L473.6 397.99 L474.1 398.03 L474.6 398.07 L475.1 398.11 L475.6 398.15 L476.1 398.19 L476.6 398.22 L477.1 398.25 L477.6 398.27 L478.1 398.29 L478.6 398.31 L479.1 398.34 L479.6 398.36 L480.1 398.38 L480.6 398.41 L481.1 398.43 L481.6 398.46 L482.1 398.49 L482.6 398.52 L483.1 398.55 L483.6 398.58 L484.1 398.61 L484.6 398.64 L485.1 398.67 L485.6 398.7 L486.1 398.73 L486.6 398.76 L487.1 398.79 L487.6 398.82 L488.1 398.85 L488.6 398.88 L489.1 398.9 L489.6 398.93 L490.1 398.96 L490.6 398.98 L491.1 399 L491.6 399.02 L492.1 399.04 L492.6 399.06 L493.1 399.08 L493.6 399.1 L494.1 399.11 L494.6 399.12 L495.1 399.13 L495.6 399.14 L496.1 399.15 L496.6 399.16 L497.1 399.17 L497.6 399.17 L498.1 399.18 L498.6 399.19 L499.1 399.2 L499.6 399.2 L500.1 399.21 L500.6 399.22 L501.1 399.22 L501.6 399.23 L502.1 399.24 L502.6 399.24 L503.1 399.25 L503.6 399.25 L504.1 399.26 L504.6 399.26 L505.1 399.27 L505.6 399.27 L506.1 399.28 L506.6 399.28 L507.1 399.29 L507.6 399.29 L508.1 399.29 L508.6 399.3 L509.1 399.3 L509.6 399.3 L510.1 399.31 L510.6 399.31 L511.1 399.31 L511.6 399.32 L512.1 399.32 L512.6 399.32 L513.1 399.33 L513.6 399.33 L514.1 399.33 L514.6 399.33 L515.1 399.33 L515.6 399.34 L516.1 399.34 L516.6 399.34 L517.1 399.34 L517.6 399.35 L518.1 399.35 L518.6 399.35 L519.1 399.35 L519.6 399.35 L520.1 399.35 L520.6 399.36 L521.1 399.36 L521.6 399.36 L522.1 399.36 L522.6 399.36 L523.1 399.36 L523.6 399.37 L524.1 399.37 L524.6 399.37 L525.1 399.37 L525.6 399.37 L526.1 399.37 L526.6 399.38 L527.1 399.38 L527.6 399.38 L528.1 399.38 L528.6 399.38 L529.1 399.38 L529.6 399.39 L530.1 399.39 L530.6 399.39 L531.1 399.39 L531.6 399.39 L532.1 399.4 L532.6 399.4 L533.1 399.4 L533.6 399.4 L534.1 399.41" stroke="#37AD6B" stroke-width="1.8" fill="none" stroke-linejoin="round" clip-path="url(#cd)"/>
<path d="M333.6 360.96 L334.1 361 L334.6 361.05 L335.1 361.11 L335.6 361.18 L336.1 361.29 L336.6 361.45 L337.1 361.69 L337.6 362.01 L338.1 362.38 L338.6 363.3 L339.1 364.56 L339.6 366.21 L340.1 367.51 L340.6 368.42 L341.1 368.99 L341.6 369.38 L342.1 369.67 L342.6 369.92 L343.1 370.18 L343.6 370.51 L344.1 370.86 L344.6 371.22 L345.1 371.58 L345.6 371.93 L346.1 372.27 L346.6 372.61 L347.1 372.94 L347.6 373.26 L348.1 373.56 L348.6 373.86 L349.1 374.15 L349.6 374.43 L350.1 374.72 L350.6 375.01 L351.1 375.31 L351.6 375.63 L352.1 375.95 L352.6 376.28 L353.1 376.6 L353.6 376.92 L354.1 377.21 L354.6 377.49 L355.1 377.8 L355.6 378.14 L356.1 378.47 L356.6 378.8 L357.1 379.12 L357.6 379.42 L358.1 379.7 L358.6 379.99 L359.1 380.26 L359.6 380.52 L360.1 380.78 L360.6 381.02 L361.1 381.23 L361.6 381.44 L362.1 381.63 L362.6 381.82 L363.1 381.98 L363.6 382.13 L364.1 382.27 L364.6 382.4 L365.1 382.51 L365.6 382.61 L366.1 382.69 L366.6 382.75 L367.1 382.78 L367.6 382.78 L368.1 382.76 L368.6 382.72 L369.1 382.64 L369.6 382.59 L370.1 382.68 L370.6 382.72 L371.1 382.58 L371.6 382.44 L372.1 382.3 L372.6 382.16 L373.1 382.04 L373.6 381.93 L374.1 381.82 L374.6 381.71 L375.1 381.6 L375.6 381.49 L376.1 381.37 L376.6 381.24 L377.1 381.09 L377.6 380.93 L378.1 380.76 L378.6 380.58 L379.1 380.39 L379.6 380.18 L380.1 379.97 L380.6 379.75 L381.1 379.53 L381.6 379.29 L382.1 379.05 L382.6 378.81 L383.1 378.57 L383.6 378.31 L384.1 378.05 L384.6 377.78 L385.1 377.48 L385.6 377.17 L386.1 376.84 L386.6 376.48 L387.1 376.09 L387.6 375.67 L388.1 375.21 L388.6 374.73 L389.1 374.22 L389.6 373.69 L390.1 373.13 L390.6 372.55 L391.1 371.96 L391.6 371.34 L392.1 370.72 L392.6 370.09 L393.1 369.45 L393.6 368.81 L394.1 368.17 L394.6 367.54 L395.1 366.92 L395.6 366.32 L396.1 365.73 L396.6 365.14 L397.1 364.57 L397.6 363.99 L398.1 363.42 L398.6 362.85 L399.1 362.28 L399.6 361.7 L400.1 361.12 L400.6 360.52 L401.1 359.9 L401.6 359.25 L402.1 358.59 L402.6 357.92 L403.1 357.23 L403.6 356.52 L404.1 355.87 L404.6 355.28 L405.1 354.68 L405.6 354.09 L406.1 353.47 L406.6 352.85 L407.1 352.25 L407.6 351.64 L408.1 350.96 L408.6 350.3 L409.1 349.63 L409.6 348.97 L410.1 348.33 L410.6 347.7 L411.1 347.09 L411.6 346.51 L412.1 345.96 L412.6 345.44 L413.1 344.97 L413.6 344.55 L414.1 344.19 L414.6 343.88 L415.1 343.61 L415.6 343.39 L416.1 343.19 L416.6 343.01 L417.1 342.86 L417.6 342.71 L418.1 342.56 L418.6 342.41 L419.1 342.25 L419.6 342.1 L420.1 341.96 L420.6 341.83 L421.1 341.74 L421.6 341.67 L422.1 341.65 L422.6 341.66 L423.1 341.7 L423.6 341.74 L424.1 341.79 L424.6 341.84 L425.1 341.91 L425.6 341.99 L426.1 342.09 L426.6 342.2 L427.1 342.32 L427.6 342.46 L428.1 342.62 L428.6 342.81 L429.1 343.01 L429.6 343.24 L430.1 343.49 L430.6 343.77 L431.1 344.07 L431.6 344.4 L432.1 344.74 L432.6 345.11 L433.1 345.49 L433.6 345.9 L434.1 346.32 L434.6 346.77 L435.1 347.26 L435.6 347.79 L436.1 348.37 L436.6 349 L437.1 349.67 L437.6 350.38 L438.1 351.15 L438.6 351.97 L439.1 352.85 L439.6 353.79 L440.1 354.75 L440.6 355.75 L441.1 356.77 L441.6 357.79 L442.1 358.82 L442.6 359.87 L443.1 360.94 L443.6 362.04 L444.1 363.18 L444.6 364.37 L445.1 365.61 L445.6 367 L446.1 368.51 L446.6 370.06 L447.1 371.42 L447.6 372.62 L448.1 373.64 L448.6 374.87 L449.1 376.11 L449.6 377.32 L450.1 378.32 L450.6 379.36 L451.1 380.41 L451.6 381.47 L452.1 382.5 L452.6 383.5 L453.1 384.44 L453.6 385.32 L454.1 386.17 L454.6 386.97 L455.1 387.73 L455.6 388.43 L456.1 389.08 L456.6 389.66 L457.1 390.18 L457.6 390.67 L458.1 391.14 L458.6 391.58 L459.1 391.99 L459.6 392.38 L460.1 392.75 L460.6 393.1 L461.1 393.43 L461.6 393.74 L462.1 394.03 L462.6 394.3 L463.1 394.56 L463.6 394.8 L464.1 395.03 L464.6 395.25 L465.1 395.46 L465.6 395.65 L466.1 395.84 L466.6 396.01 L467.1 396.18 L467.6 396.34 L468.1 396.49 L468.6 396.63 L469.1 396.77 L469.6 396.88 L470.1 396.98 L470.6 397.07 L471.1 397.15 L471.6 397.22 L472.1 397.28 L472.6 397.34 L473.1 397.39 L473.6 397.45 L474.1 397.5 L474.6 397.55 L475.1 397.61 L475.6 397.66 L476.1 397.71 L476.6 397.75 L477.1 397.79 L477.6 397.82 L478.1 397.85 L478.6 397.88 L479.1 397.9 L479.6 397.93 L480.1 397.97 L480.6 398 L481.1 398.04 L481.6 398.07 L482.1 398.11 L482.6 398.15 L483.1 398.19 L483.6 398.23 L484.1 398.27 L484.6 398.3 L485.1 398.34 L485.6 398.38 L486.1 398.42 L486.6 398.46 L487.1 398.5 L487.6 398.54 L488.1 398.58 L488.6 398.62 L489.1 398.65 L489.6 398.69 L490.1 398.72 L490.6 398.75 L491.1 398.78 L491.6 398.81 L492.1 398.84 L492.6 398.86 L493.1 398.88 L493.6 398.91 L494.1 398.92 L494.6 398.94 L495.1 398.95 L495.6 398.96 L496.1 398.98 L496.6 398.99 L497.1 399 L497.6 399.01 L498.1 399.02 L498.6 399.03 L499.1 399.04 L499.6 399.05 L500.1 399.06 L500.6 399.07 L501.1 399.07 L501.6 399.08 L502.1 399.09 L502.6 399.1 L503.1 399.1 L503.6 399.11 L504.1 399.12 L504.6 399.13 L505.1 399.13 L505.6 399.14 L506.1 399.14 L506.6 399.15 L507.1 399.16 L507.6 399.16 L508.1 399.17 L508.6 399.17 L509.1 399.18 L509.6 399.18 L510.1 399.18 L510.6 399.19 L511.1 399.19 L511.6 399.2 L512.1 399.2 L512.6 399.2 L513.1 399.21 L513.6 399.21 L514.1 399.21 L514.6 399.22 L515.1 399.22 L515.6 399.22 L516.1 399.23 L516.6 399.23 L517.1 399.23 L517.6 399.23 L518.1 399.24 L518.6 399.24 L519.1 399.24 L519.6 399.24 L520.1 399.25 L520.6 399.25 L521.1 399.25 L521.6 399.25 L522.1 399.25 L522.6 399.26 L523.1 399.26 L523.6 399.26 L524.1 399.26 L524.6 399.27 L525.1 399.27 L525.6 399.27 L526.1 399.27 L526.6 399.27 L527.1 399.28 L527.6 399.28 L528.1 399.28 L528.6 399.28 L529.1 399.29 L529.6 399.29 L530.1 399.29 L530.6 399.29 L531.1 399.3 L531.6 399.3 L532.1 399.3 L532.6 399.31 L533.1 399.31 L533.6 399.31 L534.1 399.32" stroke="#B177DE" stroke-width="1.8" fill="none" stroke-linejoin="round" clip-path="url(#cd)"/>
<path d="M333.6 351.78 L334.1 351.83 L334.6 351.92 L335.1 352 L335.6 352.09 L336.1 352.23 L336.6 352.43 L337.1 352.71 L337.6 353.09 L338.1 353.49 L338.6 354.42 L339.1 355.72 L339.6 357.44 L340.1 358.82 L340.6 359.87 L341.1 360.52 L341.6 360.99 L342.1 361.33 L342.6 361.62 L343.1 361.94 L343.6 362.33 L344.1 362.75 L344.6 363.18 L345.1 363.6 L345.6 364.02 L346.1 364.44 L346.6 364.85 L347.1 365.24 L347.6 365.63 L348.1 366 L348.6 366.36 L349.1 366.72 L349.6 367.07 L350.1 367.42 L350.6 367.78 L351.1 368.16 L351.6 368.55 L352.1 368.96 L352.6 369.37 L353.1 369.78 L353.6 370.17 L354.1 370.54 L354.6 370.89 L355.1 371.28 L355.6 371.71 L356.1 372.14 L356.6 372.55 L357.1 372.95 L357.6 373.33 L358.1 373.69 L358.6 374.04 L359.1 374.39 L359.6 374.72 L360.1 375.05 L360.6 375.34 L361.1 375.61 L361.6 375.87 L362.1 376.11 L362.6 376.34 L363.1 376.55 L363.6 376.74 L364.1 376.91 L364.6 377.07 L365.1 377.21 L365.6 377.33 L366.1 377.43 L366.6 377.51 L367.1 377.56 L367.6 377.56 L368.1 377.54 L368.6 377.49 L369.1 377.4 L369.6 377.34 L370.1 377.46 L370.6 377.51 L371.1 377.34 L371.6 377.17 L372.1 377 L372.6 376.83 L373.1 376.68 L373.6 376.54 L374.1 376.4 L374.6 376.26 L375.1 376.12 L375.6 375.97 L376.1 375.81 L376.6 375.64 L377.1 375.45 L377.6 375.24 L378.1 375.02 L378.6 374.78 L379.1 374.53 L379.6 374.26 L380.1 373.99 L380.6 373.7 L381.1 373.4 L381.6 373.09 L382.1 372.78 L382.6 372.46 L383.1 372.14 L383.6 371.81 L384.1 371.47 L384.6 371.11 L385.1 370.73 L385.6 370.33 L386.1 369.89 L386.6 369.43 L387.1 368.92 L387.6 368.38 L388.1 367.8 L388.6 367.18 L389.1 366.53 L389.6 365.85 L390.1 365.14 L390.6 364.41 L391.1 363.65 L391.6 362.87 L392.1 362.07 L392.6 361.27 L393.1 360.46 L393.6 359.64 L394.1 358.84 L394.6 358.03 L395.1 357.25 L395.6 356.48 L396.1 355.73 L396.6 354.99 L397.1 354.25 L397.6 353.53 L398.1 352.8 L398.6 352.08 L399.1 351.35 L399.6 350.62 L400.1 349.89 L400.6 349.14 L401.1 348.36 L401.6 347.56 L402.1 346.75 L402.6 345.91 L403.1 345.06 L403.6 344.19 L404.1 343.39 L404.6 342.66 L405.1 341.92 L405.6 341.18 L406.1 340.41 L406.6 339.65 L407.1 338.91 L407.6 338.15 L408.1 337.31 L408.6 336.49 L409.1 335.66 L409.6 334.84 L410.1 334.04 L410.6 333.25 L411.1 332.48 L411.6 331.75 L412.1 331.06 L412.6 330.41 L413.1 329.82 L413.6 329.29 L414.1 328.83 L414.6 328.43 L415.1 328.1 L415.6 327.8 L416.1 327.55 L416.6 327.33 L417.1 327.12 L417.6 326.93 L418.1 326.75 L418.6 326.56 L419.1 326.35 L419.6 326.16 L420.1 325.98 L420.6 325.83 L421.1 325.71 L421.6 325.63 L422.1 325.59 L422.6 325.62 L423.1 325.66 L423.6 325.71 L424.1 325.78 L424.6 325.85 L425.1 325.94 L425.6 326.05 L426.1 326.17 L426.6 326.31 L427.1 326.47 L427.6 326.65 L428.1 326.86 L428.6 327.09 L429.1 327.35 L429.6 327.65 L430.1 327.97 L430.6 328.33 L431.1 328.71 L431.6 329.13 L432.1 329.57 L432.6 330.04 L433.1 330.53 L433.6 331.05 L434.1 331.59 L434.6 332.16 L435.1 332.79 L435.6 333.47 L436.1 334.21 L436.6 335 L437.1 335.86 L437.6 336.77 L438.1 337.75 L438.6 338.8 L439.1 339.93 L439.6 341.12 L440.1 342.35 L440.6 343.62 L441.1 344.92 L441.6 346.22 L442.1 347.53 L442.6 348.87 L443.1 350.24 L443.6 351.64 L444.1 353.1 L444.6 354.61 L445.1 356.2 L445.6 357.97 L446.1 359.89 L446.6 361.87 L447.1 363.6 L447.6 365.13 L448.1 366.43 L448.6 368 L449.1 369.57 L449.6 371.12 L450.1 372.39 L450.6 373.72 L451.1 375.07 L451.6 376.41 L452.1 377.73 L452.6 379 L453.1 380.21 L453.6 381.33 L454.1 382.4 L454.6 383.43 L455.1 384.39 L455.6 385.29 L456.1 386.11 L456.6 386.85 L457.1 387.52 L457.6 388.15 L458.1 388.74 L458.6 389.3 L459.1 389.83 L459.6 390.34 L460.1 390.81 L460.6 391.25 L461.1 391.67 L461.6 392.06 L462.1 392.43 L462.6 392.78 L463.1 393.11 L463.6 393.42 L464.1 393.72 L464.6 394 L465.1 394.26 L465.6 394.51 L466.1 394.75 L466.6 394.97 L467.1 395.18 L467.6 395.39 L468.1 395.58 L468.6 395.76 L469.1 395.93 L469.6 396.08 L470.1 396.21 L470.6 396.33 L471.1 396.43 L471.6 396.52 L472.1 396.6 L472.6 396.67 L473.1 396.74 L473.6 396.81 L474.1 396.87 L474.6 396.94 L475.1 397.02 L475.6 397.08 L476.1 397.14 L476.6 397.2 L477.1 397.24 L477.6 397.28 L478.1 397.32 L478.6 397.36 L479.1 397.39 L479.6 397.43 L480.1 397.47 L480.6 397.52 L481.1 397.56 L481.6 397.61 L482.1 397.66 L482.6 397.71 L483.1 397.76 L483.6 397.81 L484.1 397.86 L484.6 397.91 L485.1 397.96 L485.6 398.01 L486.1 398.06 L486.6 398.11 L487.1 398.16 L487.6 398.21 L488.1 398.26 L488.6 398.31 L489.1 398.35 L489.6 398.4 L490.1 398.44 L490.6 398.48 L491.1 398.52 L491.6 398.56 L492.1 398.59 L492.6 398.62 L493.1 398.65 L493.6 398.68 L494.1 398.7 L494.6 398.72 L495.1 398.74 L495.6 398.76 L496.1 398.77 L496.6 398.78 L497.1 398.8 L497.6 398.81 L498.1 398.83 L498.6 398.84 L499.1 398.85 L499.6 398.86 L500.1 398.87 L500.6 398.89 L501.1 398.9 L501.6 398.91 L502.1 398.92 L502.6 398.93 L503.1 398.94 L503.6 398.95 L504.1 398.95 L504.6 398.96 L505.1 398.97 L505.6 398.98 L506.1 398.99 L506.6 398.99 L507.1 399 L507.6 399.01 L508.1 399.01 L508.6 399.02 L509.1 399.03 L509.6 399.03 L510.1 399.04 L510.6 399.04 L511.1 399.05 L511.6 399.05 L512.1 399.06 L512.6 399.06 L513.1 399.07 L513.6 399.07 L514.1 399.08 L514.6 399.08 L515.1 399.08 L515.6 399.09 L516.1 399.09 L516.6 399.1 L517.1 399.1 L517.6 399.1 L518.1 399.11 L518.6 399.11 L519.1 399.11 L519.6 399.11 L520.1 399.12 L520.6 399.12 L521.1 399.12 L521.6 399.13 L522.1 399.13 L522.6 399.13 L523.1 399.13 L523.6 399.14 L524.1 399.14 L524.6 399.14 L525.1 399.15 L525.6 399.15 L526.1 399.15 L526.6 399.15 L527.1 399.16 L527.6 399.16 L528.1 399.16 L528.6 399.17 L529.1 399.17 L529.6 399.17 L530.1 399.18 L530.6 399.18 L531.1 399.19 L531.6 399.19 L532.1 399.19 L532.6 399.2 L533.1 399.2 L533.6 399.21 L534.1 399.21" stroke="#CC9900" stroke-width="1.8" fill="none" stroke-linejoin="round" clip-path="url(#cd)"/>
<path d="M333.6 343.24 L334.1 343.31 L334.6 343.41 L335.1 343.52 L335.6 343.64 L336.1 343.81 L336.6 344.04 L337.1 344.37 L337.6 344.79 L338.1 345.23 L338.6 346.15 L339.1 347.5 L339.6 349.29 L340.1 350.75 L340.6 351.92 L341.1 352.66 L341.6 353.18 L342.1 353.58 L342.6 353.91 L343.1 354.27 L343.6 354.72 L344.1 355.21 L344.6 355.7 L345.1 356.19 L345.6 356.68 L346.1 357.16 L346.6 357.63 L347.1 358.09 L347.6 358.54 L348.1 358.97 L348.6 359.4 L349.1 359.81 L349.6 360.22 L350.1 360.64 L350.6 361.07 L351.1 361.52 L351.6 361.99 L352.1 362.47 L352.6 362.96 L353.1 363.44 L353.6 363.91 L354.1 364.36 L354.6 364.77 L355.1 365.25 L355.6 365.76 L356.1 366.27 L356.6 366.76 L357.1 367.24 L357.6 367.69 L358.1 368.13 L358.6 368.55 L359.1 368.97 L359.6 369.37 L360.1 369.76 L360.6 370.11 L361.1 370.43 L361.6 370.74 L362.1 371.03 L362.6 371.31 L363.1 371.56 L363.6 371.78 L364.1 371.99 L364.6 372.18 L365.1 372.35 L365.6 372.5 L366.1 372.63 L366.6 372.73 L367.1 372.78 L367.6 372.8 L368.1 372.78 L368.6 372.73 L369.1 372.64 L369.6 372.57 L370.1 372.72 L370.6 372.79 L371.1 372.59 L371.6 372.39 L372.1 372.2 L372.6 372.01 L373.1 371.84 L373.6 371.67 L374.1 371.51 L374.6 371.35 L375.1 371.18 L375.6 371.01 L376.1 370.83 L376.6 370.62 L377.1 370.4 L377.6 370.15 L378.1 369.89 L378.6 369.6 L379.1 369.3 L379.6 368.99 L380.1 368.66 L380.6 368.32 L381.1 367.96 L381.6 367.6 L382.1 367.22 L382.6 366.85 L383.1 366.47 L383.6 366.07 L384.1 365.66 L384.6 365.24 L385.1 364.78 L385.6 364.3 L386.1 363.79 L386.6 363.23 L387.1 362.64 L387.6 361.99 L388.1 361.3 L388.6 360.57 L389.1 359.8 L389.6 358.99 L390.1 358.15 L390.6 357.28 L391.1 356.39 L391.6 355.46 L392.1 354.52 L392.6 353.57 L393.1 352.61 L393.6 351.65 L394.1 350.69 L394.6 349.74 L395.1 348.81 L395.6 347.9 L396.1 347.02 L396.6 346.14 L397.1 345.28 L397.6 344.42 L398.1 343.56 L398.6 342.71 L399.1 341.85 L399.6 341 L400.1 340.13 L400.6 339.25 L401.1 338.35 L401.6 337.42 L402.1 336.47 L402.6 335.5 L403.1 334.51 L403.6 333.49 L404.1 332.57 L404.6 331.71 L405.1 330.86 L405.6 329.99 L406.1 329.1 L406.6 328.22 L407.1 327.35 L407.6 326.47 L408.1 325.49 L408.6 324.53 L409.1 323.56 L409.6 322.59 L410.1 321.65 L410.6 320.72 L411.1 319.82 L411.6 318.96 L412.1 318.14 L412.6 317.37 L413.1 316.68 L413.6 316.05 L414.1 315.51 L414.6 315.05 L415.1 314.64 L415.6 314.3 L416.1 314 L416.6 313.73 L417.1 313.49 L417.6 313.27 L418.1 313.05 L418.6 312.82 L419.1 312.59 L419.6 312.35 L420.1 312.14 L420.6 311.96 L421.1 311.82 L421.6 311.73 L422.1 311.69 L422.6 311.72 L423.1 311.77 L423.6 311.84 L424.1 311.91 L424.6 312 L425.1 312.11 L425.6 312.24 L426.1 312.38 L426.6 312.55 L427.1 312.74 L427.6 312.96 L428.1 313.21 L428.6 313.48 L429.1 313.79 L429.6 314.14 L430.1 314.53 L430.6 314.95 L431.1 315.41 L431.6 315.9 L432.1 316.43 L432.6 316.99 L433.1 317.57 L433.6 318.19 L434.1 318.83 L434.6 319.51 L435.1 320.25 L435.6 321.06 L436.1 321.94 L436.6 322.89 L437.1 323.9 L437.6 324.99 L438.1 326.14 L438.6 327.39 L439.1 328.73 L439.6 330.14 L440.1 331.61 L440.6 333.12 L441.1 334.65 L441.6 336.2 L442.1 337.76 L442.6 339.35 L443.1 340.97 L443.6 342.64 L444.1 344.36 L444.6 346.16 L445.1 348.04 L445.6 350.14 L446.1 352.43 L446.6 354.77 L447.1 356.83 L447.6 358.65 L448.1 360.19 L448.6 362.05 L449.1 363.92 L449.6 365.75 L450.1 367.26 L450.6 368.84 L451.1 370.44 L451.6 372.03 L452.1 373.59 L452.6 375.1 L453.1 376.53 L453.6 377.87 L454.1 379.14 L454.6 380.36 L455.1 381.5 L455.6 382.57 L456.1 383.55 L456.6 384.43 L457.1 385.21 L457.6 385.96 L458.1 386.67 L458.6 387.34 L459.1 387.97 L459.6 388.56 L460.1 389.12 L460.6 389.65 L461.1 390.15 L461.6 390.61 L462.1 391.05 L462.6 391.46 L463.1 391.86 L463.6 392.23 L464.1 392.58 L464.6 392.91 L465.1 393.22 L465.6 393.52 L466.1 393.8 L466.6 394.07 L467.1 394.32 L467.6 394.56 L468.1 394.79 L468.6 395.01 L469.1 395.21 L469.6 395.39 L470.1 395.55 L470.6 395.68 L471.1 395.8 L471.6 395.91 L472.1 396 L472.6 396.09 L473.1 396.17 L473.6 396.25 L474.1 396.33 L474.6 396.41 L475.1 396.5 L475.6 396.58 L476.1 396.66 L476.6 396.72 L477.1 396.77 L477.6 396.82 L478.1 396.87 L478.6 396.91 L479.1 396.95 L479.6 397 L480.1 397.05 L480.6 397.1 L481.1 397.16 L481.6 397.21 L482.1 397.27 L482.6 397.33 L483.1 397.39 L483.6 397.45 L484.1 397.51 L484.6 397.57 L485.1 397.63 L485.6 397.69 L486.1 397.75 L486.6 397.81 L487.1 397.87 L487.6 397.93 L488.1 397.99 L488.6 398.04 L489.1 398.1 L489.6 398.15 L490.1 398.2 L490.6 398.25 L491.1 398.3 L491.6 398.34 L492.1 398.38 L492.6 398.42 L493.1 398.45 L493.6 398.48 L494.1 398.51 L494.6 398.54 L495.1 398.56 L495.6 398.57 L496.1 398.59 L496.6 398.61 L497.1 398.63 L497.6 398.64 L498.1 398.66 L498.6 398.67 L499.1 398.69 L499.6 398.7 L500.1 398.72 L500.6 398.73 L501.1 398.74 L501.6 398.76 L502.1 398.77 L502.6 398.78 L503.1 398.79 L503.6 398.8 L504.1 398.81 L504.6 398.82 L505.1 398.83 L505.6 398.84 L506.1 398.85 L506.6 398.86 L507.1 398.87 L507.6 398.88 L508.1 398.88 L508.6 398.89 L509.1 398.9 L509.6 398.91 L510.1 398.91 L510.6 398.92 L511.1 398.92 L511.6 398.93 L512.1 398.94 L512.6 398.94 L513.1 398.95 L513.6 398.95 L514.1 398.96 L514.6 398.96 L515.1 398.97 L515.6 398.97 L516.1 398.98 L516.6 398.98 L517.1 398.98 L517.6 398.99 L518.1 398.99 L518.6 399 L519.1 399 L519.6 399 L520.1 399.01 L520.6 399.01 L521.1 399.01 L521.6 399.02 L522.1 399.02 L522.6 399.02 L523.1 399.03 L523.6 399.03 L524.1 399.03 L524.6 399.04 L525.1 399.04 L525.6 399.04 L526.1 399.05 L526.6 399.05 L527.1 399.05 L527.6 399.06 L528.1 399.06 L528.6 399.07 L529.1 399.07 L529.6 399.07 L530.1 399.08 L530.6 399.08 L531.1 399.09 L531.6 399.09 L532.1 399.1 L532.6 399.1 L533.1 399.11 L533.6 399.11 L534.1 399.12" stroke="#00CBCC" stroke-width="1.8" fill="none" stroke-linejoin="round" clip-path="url(#cd)"/>
<path d="M333.6 335.33 L334.1 335.41 L334.6 335.54 L335.1 335.66 L335.6 335.81 L336.1 336.01 L336.6 336.27 L337.1 336.63 L337.6 337.1 L338.1 337.57 L338.6 338.5 L339.1 339.89 L339.6 341.74 L340.1 343.27 L340.6 344.56 L341.1 345.36 L341.6 345.95 L342.1 346.39 L342.6 346.77 L343.1 347.17 L343.6 347.67 L344.1 348.22 L344.6 348.77 L345.1 349.32 L345.6 349.87 L346.1 350.41 L346.6 350.94 L347.1 351.46 L347.6 351.96 L348.1 352.45 L348.6 352.93 L349.1 353.4 L349.6 353.87 L350.1 354.34 L350.6 354.84 L351.1 355.35 L351.6 355.88 L352.1 356.43 L352.6 356.99 L353.1 357.55 L353.6 358.09 L354.1 358.6 L354.6 359.08 L355.1 359.62 L355.6 360.21 L356.1 360.79 L356.6 361.36 L357.1 361.91 L357.6 362.43 L358.1 362.93 L358.6 363.42 L359.1 363.89 L359.6 364.35 L360.1 364.8 L360.6 365.2 L361.1 365.57 L361.6 365.92 L362.1 366.25 L362.6 366.56 L363.1 366.85 L363.6 367.1 L364.1 367.34 L364.6 367.55 L365.1 367.75 L365.6 367.92 L366.1 368.06 L366.6 368.18 L367.1 368.24 L367.6 368.26 L368.1 368.24 L368.6 368.18 L369.1 368.07 L369.6 367.99 L370.1 368.16 L370.6 368.24 L371.1 368.02 L371.6 367.79 L372.1 367.57 L372.6 367.35 L373.1 367.15 L373.6 366.96 L374.1 366.76 L374.6 366.57 L375.1 366.38 L375.6 366.17 L376.1 365.95 L376.6 365.71 L377.1 365.44 L377.6 365.15 L378.1 364.84 L378.6 364.5 L379.1 364.15 L379.6 363.77 L380.1 363.38 L380.6 362.98 L381.1 362.56 L381.6 362.13 L382.1 361.69 L382.6 361.24 L383.1 360.79 L383.6 360.32 L384.1 359.84 L384.6 359.33 L385.1 358.8 L385.6 358.23 L386.1 357.63 L386.6 356.98 L387.1 356.28 L387.6 355.52 L388.1 354.72 L388.6 353.87 L389.1 352.97 L389.6 352.03 L390.1 351.05 L390.6 350.04 L391.1 349 L391.6 347.93 L392.1 346.84 L392.6 345.73 L393.1 344.61 L393.6 343.5 L394.1 342.38 L394.6 341.29 L395.1 340.2 L395.6 339.15 L396.1 338.12 L396.6 337.1 L397.1 336.09 L397.6 335.09 L398.1 334.1 L398.6 333.11 L399.1 332.12 L399.6 331.12 L400.1 330.12 L400.6 329.1 L401.1 328.06 L401.6 326.99 L402.1 325.9 L402.6 324.79 L403.1 323.65 L403.6 322.49 L404.1 321.43 L404.6 320.45 L405.1 319.47 L405.6 318.47 L406.1 317.45 L406.6 316.44 L407.1 315.44 L407.6 314.43 L408.1 313.3 L408.6 312.2 L409.1 311.09 L409.6 309.98 L410.1 308.89 L410.6 307.82 L411.1 306.78 L411.6 305.78 L412.1 304.84 L412.6 303.96 L413.1 303.15 L413.6 302.43 L414.1 301.8 L414.6 301.26 L415.1 300.79 L415.6 300.39 L416.1 300.04 L416.6 299.73 L417.1 299.45 L417.6 299.19 L418.1 298.93 L418.6 298.67 L419.1 298.39 L419.6 298.12 L420.1 297.88 L420.6 297.67 L421.1 297.51 L421.6 297.4 L422.1 297.36 L422.6 297.39 L423.1 297.45 L423.6 297.53 L424.1 297.62 L424.6 297.73 L425.1 297.85 L425.6 298 L426.1 298.17 L426.6 298.36 L427.1 298.59 L427.6 298.84 L428.1 299.13 L428.6 299.45 L429.1 299.81 L429.6 300.22 L430.1 300.67 L430.6 301.16 L431.1 301.7 L431.6 302.27 L432.1 302.88 L432.6 303.53 L433.1 304.22 L433.6 304.93 L434.1 305.68 L434.6 306.47 L435.1 307.33 L435.6 308.27 L436.1 309.29 L436.6 310.39 L437.1 311.57 L437.6 312.83 L438.1 314.18 L438.6 315.63 L439.1 317.19 L439.6 318.83 L440.1 320.53 L440.6 322.29 L441.1 324.07 L441.6 325.87 L442.1 327.69 L442.6 329.53 L443.1 331.41 L443.6 333.35 L444.1 335.36 L444.6 337.45 L445.1 339.63 L445.6 342.07 L446.1 344.73 L446.6 347.46 L447.1 349.85 L447.6 351.96 L448.1 353.75 L448.6 355.92 L449.1 358.09 L449.6 360.21 L450.1 361.97 L450.6 363.81 L451.1 365.66 L451.6 367.51 L452.1 369.33 L452.6 371.09 L453.1 372.75 L453.6 374.3 L454.1 375.78 L454.6 377.19 L455.1 378.53 L455.6 379.77 L456.1 380.9 L456.6 381.92 L457.1 382.84 L457.6 383.71 L458.1 384.53 L458.6 385.31 L459.1 386.04 L459.6 386.73 L460.1 387.38 L460.6 388 L461.1 388.57 L461.6 389.12 L462.1 389.63 L462.6 390.11 L463.1 390.56 L463.6 390.99 L464.1 391.4 L464.6 391.79 L465.1 392.15 L465.6 392.5 L466.1 392.83 L466.6 393.14 L467.1 393.43 L467.6 393.71 L468.1 393.98 L468.6 394.24 L469.1 394.47 L469.6 394.68 L470.1 394.86 L470.6 395.01 L471.1 395.15 L471.6 395.28 L472.1 395.39 L472.6 395.49 L473.1 395.59 L473.6 395.68 L474.1 395.78 L474.6 395.87 L475.1 395.97 L475.6 396.07 L476.1 396.15 L476.6 396.22 L477.1 396.29 L477.6 396.34 L478.1 396.4 L478.6 396.45 L479.1 396.5 L479.6 396.55 L480.1 396.61 L480.6 396.67 L481.1 396.74 L481.6 396.8 L482.1 396.87 L482.6 396.94 L483.1 397.01 L483.6 397.08 L484.1 397.15 L484.6 397.22 L485.1 397.29 L485.6 397.36 L486.1 397.43 L486.6 397.5 L487.1 397.57 L487.6 397.64 L488.1 397.7 L488.6 397.77 L489.1 397.83 L489.6 397.89 L490.1 397.95 L490.6 398.01 L491.1 398.06 L491.6 398.11 L492.1 398.16 L492.6 398.21 L493.1 398.25 L493.6 398.28 L494.1 398.32 L494.6 398.34 L495.1 398.37 L495.6 398.39 L496.1 398.41 L496.6 398.43 L497.1 398.45 L497.6 398.47 L498.1 398.49 L498.6 398.5 L499.1 398.52 L499.6 398.54 L500.1 398.55 L500.6 398.57 L501.1 398.58 L501.6 398.6 L502.1 398.61 L502.6 398.63 L503.1 398.64 L503.6 398.65 L504.1 398.67 L504.6 398.68 L505.1 398.69 L505.6 398.7 L506.1 398.71 L506.6 398.72 L507.1 398.73 L507.6 398.74 L508.1 398.75 L508.6 398.76 L509.1 398.77 L509.6 398.77 L510.1 398.78 L510.6 398.79 L511.1 398.8 L511.6 398.8 L512.1 398.81 L512.6 398.82 L513.1 398.82 L513.6 398.83 L514.1 398.83 L514.6 398.84 L515.1 398.85 L515.6 398.85 L516.1 398.86 L516.6 398.86 L517.1 398.87 L517.6 398.87 L518.1 398.87 L518.6 398.88 L519.1 398.88 L519.6 398.89 L520.1 398.89 L520.6 398.9 L521.1 398.9 L521.6 398.9 L522.1 398.91 L522.6 398.91 L523.1 398.92 L523.6 398.92 L524.1 398.92 L524.6 398.93 L525.1 398.93 L525.6 398.94 L526.1 398.94 L526.6 398.94 L527.1 398.95 L527.6 398.95 L528.1 398.96 L528.6 398.96 L529.1 398.97 L529.6 398.97 L530.1 398.98 L530.6 398.98 L531.1 398.99 L531.6 398.99 L532.1 399 L532.6 399.01 L533.1 399.01 L533.6 399.02 L534.1 399.03" stroke="#7D4E4E" stroke-width="1.8" fill="none" stroke-linejoin="round" clip-path="url(#cd)"/>
<path d="M333.6 325.16 L334.1 325.26 L334.6 325.42 L335.1 325.57 L335.6 325.75 L336.1 325.98 L336.6 326.28 L337.1 326.7 L337.6 327.22 L338.1 327.73 L338.6 328.67 L339.1 330.11 L339.6 332.05 L340.1 333.66 L340.6 335.11 L341.1 336.01 L341.6 336.67 L342.1 337.17 L342.6 337.6 L343.1 338.06 L343.6 338.63 L344.1 339.26 L344.6 339.89 L345.1 340.52 L345.6 341.15 L346.1 341.77 L346.6 342.38 L347.1 342.97 L347.6 343.56 L348.1 344.13 L348.6 344.68 L349.1 345.23 L349.6 345.77 L350.1 346.32 L350.6 346.9 L351.1 347.5 L351.6 348.12 L352.1 348.77 L352.6 349.43 L353.1 350.08 L353.6 350.72 L354.1 351.32 L354.6 351.89 L355.1 352.53 L355.6 353.22 L356.1 353.91 L356.6 354.58 L357.1 355.23 L357.6 355.84 L358.1 356.44 L358.6 357.02 L359.1 357.58 L359.6 358.12 L360.1 358.66 L360.6 359.14 L361.1 359.58 L361.6 360 L362.1 360.4 L362.6 360.77 L363.1 361.11 L363.6 361.43 L364.1 361.71 L364.6 361.98 L365.1 362.22 L365.6 362.44 L366.1 362.62 L366.6 362.77 L367.1 362.87 L367.6 362.91 L368.1 362.91 L368.6 362.87 L369.1 362.77 L369.6 362.7 L370.1 362.92 L370.6 363.04 L371.1 362.8 L371.6 362.57 L372.1 362.33 L372.6 362.11 L373.1 361.9 L373.6 361.7 L374.1 361.51 L374.6 361.31 L375.1 361.11 L375.6 360.9 L376.1 360.66 L376.6 360.41 L377.1 360.13 L377.6 359.82 L378.1 359.48 L378.6 359.12 L379.1 358.74 L379.6 358.33 L380.1 357.91 L380.6 357.47 L381.1 357.01 L381.6 356.54 L382.1 356.06 L382.6 355.58 L383.1 355.08 L383.6 354.57 L384.1 354.05 L384.6 353.49 L385.1 352.91 L385.6 352.29 L386.1 351.62 L386.6 350.91 L387.1 350.13 L387.6 349.29 L388.1 348.4 L388.6 347.45 L389.1 346.45 L389.6 345.4 L390.1 344.31 L390.6 343.18 L391.1 342.01 L391.6 340.81 L392.1 339.59 L392.6 338.35 L393.1 337.1 L393.6 335.85 L394.1 334.6 L394.6 333.37 L395.1 332.16 L395.6 330.99 L396.1 329.84 L396.6 328.7 L397.1 327.58 L397.6 326.47 L398.1 325.37 L398.6 324.27 L399.1 323.17 L399.6 322.06 L400.1 320.95 L400.6 319.82 L401.1 318.67 L401.6 317.48 L402.1 316.28 L402.6 315.05 L403.1 313.79 L403.6 312.5 L404.1 311.33 L404.6 310.25 L405.1 309.16 L405.6 308.06 L406.1 306.93 L406.6 305.8 L407.1 304.7 L407.6 303.58 L408.1 302.32 L408.6 301.08 L409.1 299.84 L409.6 298.59 L410.1 297.37 L410.6 296.17 L411.1 295 L411.6 293.87 L412.1 292.81 L412.6 291.82 L413.1 290.91 L413.6 290.1 L414.1 289.4 L414.6 288.79 L415.1 288.28 L415.6 287.83 L416.1 287.44 L416.6 287.1 L417.1 286.79 L417.6 286.5 L418.1 286.22 L418.6 285.92 L419.1 285.61 L419.6 285.31 L420.1 285.04 L420.6 284.81 L421.1 284.62 L421.6 284.5 L422.1 284.46 L422.6 284.49 L423.1 284.57 L423.6 284.65 L424.1 284.76 L424.6 284.88 L425.1 285.02 L425.6 285.18 L426.1 285.38 L426.6 285.6 L427.1 285.85 L427.6 286.14 L428.1 286.46 L428.6 286.83 L429.1 287.23 L429.6 287.69 L430.1 288.2 L430.6 288.75 L431.1 289.36 L431.6 290 L432.1 290.69 L432.6 291.42 L433.1 292.19 L433.6 293 L434.1 293.84 L434.6 294.73 L435.1 295.7 L435.6 296.76 L436.1 297.91 L436.6 299.15 L437.1 300.48 L437.6 301.9 L438.1 303.41 L438.6 305.05 L439.1 306.8 L439.6 308.65 L440.1 310.57 L440.6 312.54 L441.1 314.55 L441.6 316.57 L442.1 318.62 L442.6 320.69 L443.1 322.81 L443.6 325 L444.1 327.26 L444.6 329.61 L445.1 332.07 L445.6 334.81 L446.1 337.8 L446.6 340.87 L447.1 343.56 L447.6 345.94 L448.1 347.96 L448.6 350.39 L449.1 352.84 L449.6 355.23 L450.1 357.21 L450.6 359.28 L451.1 361.36 L451.6 363.45 L452.1 365.5 L452.6 367.47 L453.1 369.35 L453.6 371.09 L454.1 372.76 L454.6 374.35 L455.1 375.85 L455.6 377.24 L456.1 378.52 L456.6 379.67 L457.1 380.7 L457.6 381.68 L458.1 382.61 L458.6 383.48 L459.1 384.31 L459.6 385.09 L460.1 385.82 L460.6 386.51 L461.1 387.16 L461.6 387.77 L462.1 388.34 L462.6 388.89 L463.1 389.4 L463.6 389.89 L464.1 390.35 L464.6 390.78 L465.1 391.19 L465.6 391.58 L466.1 391.95 L466.6 392.3 L467.1 392.63 L467.6 392.95 L468.1 393.25 L468.6 393.54 L469.1 393.8 L469.6 394.03 L470.1 394.24 L470.6 394.41 L471.1 394.57 L471.6 394.71 L472.1 394.84 L472.6 394.95 L473.1 395.06 L473.6 395.17 L474.1 395.27 L474.6 395.38 L475.1 395.49 L475.6 395.6 L476.1 395.7 L476.6 395.78 L477.1 395.85 L477.6 395.92 L478.1 395.98 L478.6 396.03 L479.1 396.09 L479.6 396.15 L480.1 396.22 L480.6 396.29 L481.1 396.36 L481.6 396.43 L482.1 396.51 L482.6 396.58 L483.1 396.66 L483.6 396.74 L484.1 396.82 L484.6 396.9 L485.1 396.98 L485.6 397.06 L486.1 397.14 L486.6 397.22 L487.1 397.3 L487.6 397.37 L488.1 397.45 L488.6 397.52 L489.1 397.59 L489.6 397.66 L490.1 397.73 L490.6 397.79 L491.1 397.85 L491.6 397.91 L492.1 397.97 L492.6 398.02 L493.1 398.06 L493.6 398.1 L494.1 398.14 L494.6 398.17 L495.1 398.2 L495.6 398.22 L496.1 398.24 L496.6 398.27 L497.1 398.29 L497.6 398.31 L498.1 398.33 L498.6 398.35 L499.1 398.37 L499.6 398.39 L500.1 398.41 L500.6 398.43 L501.1 398.44 L501.6 398.46 L502.1 398.47 L502.6 398.49 L503.1 398.5 L503.6 398.52 L504.1 398.53 L504.6 398.55 L505.1 398.56 L505.6 398.57 L506.1 398.58 L506.6 398.6 L507.1 398.61 L507.6 398.62 L508.1 398.63 L508.6 398.64 L509.1 398.65 L509.6 398.66 L510.1 398.66 L510.6 398.67 L511.1 398.68 L511.6 398.69 L512.1 398.7 L512.6 398.7 L513.1 398.71 L513.6 398.72 L514.1 398.72 L514.6 398.73 L515.1 398.74 L515.6 398.74 L516.1 398.75 L516.6 398.75 L517.1 398.76 L517.6 398.76 L518.1 398.77 L518.6 398.77 L519.1 398.78 L519.6 398.78 L520.1 398.79 L520.6 398.79 L521.1 398.8 L521.6 398.8 L522.1 398.81 L522.6 398.81 L523.1 398.82 L523.6 398.82 L524.1 398.83 L524.6 398.83 L525.1 398.83 L525.6 398.84 L526.1 398.84 L526.6 398.85 L527.1 398.85 L527.6 398.86 L528.1 398.86 L528.6 398.87 L529.1 398.87 L529.6 398.88 L530.1 398.89 L530.6 398.89 L531.1 398.9 L531.6 398.9 L532.1 398.91 L532.6 398.92 L533.1 398.93 L533.6 398.93 L534.1 398.94" stroke="#8E8E00" stroke-width="1.8" fill="none" stroke-linejoin="round" clip-path="url(#cd)"/>
<path d="M333.6 314.89 L334.1 315.01 L334.6 315.2 L335.1 315.38 L335.6 315.59 L336.1 315.85 L336.6 316.2 L337.1 316.66 L337.6 317.25 L338.1 317.8 L338.6 318.74 L339.1 320.23 L339.6 322.25 L340.1 323.96 L340.6 325.56 L341.1 326.55 L341.6 327.29 L342.1 327.85 L342.6 328.34 L343.1 328.85 L343.6 329.49 L344.1 330.2 L344.6 330.91 L345.1 331.62 L345.6 332.33 L346.1 333.03 L346.6 333.72 L347.1 334.39 L347.6 335.05 L348.1 335.7 L348.6 336.32 L349.1 336.94 L349.6 337.56 L350.1 338.19 L350.6 338.85 L351.1 339.53 L351.6 340.25 L352.1 340.99 L352.6 341.75 L353.1 342.49 L353.6 343.22 L354.1 343.92 L354.6 344.57 L355.1 345.3 L355.6 346.1 L356.1 346.89 L356.6 347.66 L357.1 348.41 L357.6 349.11 L358.1 349.8 L358.6 350.47 L359.1 351.11 L359.6 351.74 L360.1 352.35 L360.6 352.91 L361.1 353.41 L361.6 353.9 L362.1 354.35 L362.6 354.78 L363.1 355.18 L363.6 355.54 L364.1 355.88 L364.6 356.19 L365.1 356.47 L365.6 356.72 L366.1 356.94 L366.6 357.12 L367.1 357.24 L367.6 357.3 L368.1 357.31 L368.6 357.26 L369.1 357.16 L369.6 357.09 L370.1 357.36 L370.6 357.5 L371.1 357.24 L371.6 356.98 L372.1 356.73 L372.6 356.48 L373.1 356.25 L373.6 356.04 L374.1 355.82 L374.6 355.61 L375.1 355.38 L375.6 355.15 L376.1 354.89 L376.6 354.61 L377.1 354.3 L377.6 353.95 L378.1 353.57 L378.6 353.16 L379.1 352.73 L379.6 352.28 L380.1 351.8 L380.6 351.3 L381.1 350.79 L381.6 350.26 L382.1 349.72 L382.6 349.17 L383.1 348.61 L383.6 348.04 L384.1 347.45 L384.6 346.82 L385.1 346.16 L385.6 345.46 L386.1 344.71 L386.6 343.9 L387.1 343.02 L387.6 342.08 L388.1 341.07 L388.6 339.99 L389.1 338.86 L389.6 337.67 L390.1 336.44 L390.6 335.16 L391.1 333.84 L391.6 332.48 L392.1 331.1 L392.6 329.7 L393.1 328.28 L393.6 326.87 L394.1 325.46 L394.6 324.07 L395.1 322.7 L395.6 321.37 L396.1 320.07 L396.6 318.79 L397.1 317.53 L397.6 316.27 L398.1 315.03 L398.6 313.79 L399.1 312.55 L399.6 311.3 L400.1 310.05 L400.6 308.78 L401.1 307.48 L401.6 306.16 L402.1 304.8 L402.6 303.42 L403.1 302.02 L403.6 300.57 L404.1 299.26 L404.6 298.05 L405.1 296.83 L405.6 295.6 L406.1 294.33 L406.6 293.06 L407.1 291.83 L407.6 290.57 L408.1 289.15 L408.6 287.76 L409.1 286.36 L409.6 284.95 L410.1 283.57 L410.6 282.21 L411.1 280.89 L411.6 279.62 L412.1 278.41 L412.6 277.29 L413.1 276.26 L413.6 275.35 L414.1 274.55 L414.6 273.87 L415.1 273.29 L415.6 272.78 L416.1 272.35 L416.6 271.96 L417.1 271.61 L417.6 271.28 L418.1 270.96 L418.6 270.63 L419.1 270.28 L419.6 269.94 L420.1 269.64 L420.6 269.37 L421.1 269.16 L421.6 269.03 L422.1 268.98 L422.6 269.02 L423.1 269.1 L423.6 269.2 L424.1 269.32 L424.6 269.46 L425.1 269.62 L425.6 269.81 L426.1 270.03 L426.6 270.28 L427.1 270.56 L427.6 270.89 L428.1 271.26 L428.6 271.67 L429.1 272.14 L429.6 272.66 L430.1 273.23 L430.6 273.86 L431.1 274.55 L431.6 275.28 L432.1 276.06 L432.6 276.89 L433.1 277.76 L433.6 278.68 L434.1 279.64 L434.6 280.64 L435.1 281.75 L435.6 282.95 L436.1 284.25 L436.6 285.66 L437.1 287.16 L437.6 288.77 L438.1 290.49 L438.6 292.35 L439.1 294.34 L439.6 296.43 L440.1 298.6 L440.6 300.84 L441.1 303.12 L441.6 305.42 L442.1 307.74 L442.6 310.09 L443.1 312.49 L443.6 314.97 L444.1 317.53 L444.6 320.2 L445.1 322.99 L445.6 326.1 L446.1 329.49 L446.6 332.97 L447.1 336.02 L447.6 338.72 L448.1 341.01 L448.6 343.77 L449.1 346.54 L449.6 349.26 L450.1 351.5 L450.6 353.84 L451.1 356.21 L451.6 358.57 L452.1 360.89 L452.6 363.13 L453.1 365.26 L453.6 367.24 L454.1 369.13 L454.6 370.93 L455.1 372.63 L455.6 374.22 L456.1 375.67 L456.6 376.97 L457.1 378.14 L457.6 379.25 L458.1 380.3 L458.6 381.29 L459.1 382.23 L459.6 383.11 L460.1 383.94 L460.6 384.73 L461.1 385.46 L461.6 386.16 L462.1 386.81 L462.6 387.42 L463.1 388.01 L463.6 388.56 L464.1 389.08 L464.6 389.57 L465.1 390.04 L465.6 390.48 L466.1 390.9 L466.6 391.29 L467.1 391.67 L467.6 392.03 L468.1 392.37 L468.6 392.7 L469.1 393 L469.6 393.26 L470.1 393.5 L470.6 393.7 L471.1 393.87 L471.6 394.03 L472.1 394.18 L472.6 394.31 L473.1 394.43 L473.6 394.55 L474.1 394.67 L474.6 394.79 L475.1 394.92 L475.6 395.05 L476.1 395.15 L476.6 395.25 L477.1 395.33 L477.6 395.4 L478.1 395.47 L478.6 395.53 L479.1 395.6 L479.6 395.67 L480.1 395.74 L480.6 395.82 L481.1 395.9 L481.6 395.99 L482.1 396.07 L482.6 396.16 L483.1 396.25 L483.6 396.34 L484.1 396.43 L484.6 396.52 L485.1 396.61 L485.6 396.7 L486.1 396.79 L486.6 396.88 L487.1 396.97 L487.6 397.06 L488.1 397.14 L488.6 397.23 L489.1 397.31 L489.6 397.39 L490.1 397.46 L490.6 397.53 L491.1 397.6 L491.6 397.67 L492.1 397.73 L492.6 397.79 L493.1 397.84 L493.6 397.88 L494.1 397.93 L494.6 397.96 L495.1 397.99 L495.6 398.02 L496.1 398.05 L496.6 398.07 L497.1 398.1 L497.6 398.12 L498.1 398.14 L498.6 398.17 L499.1 398.19 L499.6 398.21 L500.1 398.23 L500.6 398.25 L501.1 398.27 L501.6 398.29 L502.1 398.31 L502.6 398.33 L503.1 398.34 L503.6 398.36 L504.1 398.37 L504.6 398.39 L505.1 398.4 L505.6 398.42 L506.1 398.43 L506.6 398.44 L507.1 398.46 L507.6 398.47 L508.1 398.48 L508.6 398.49 L509.1 398.5 L509.6 398.51 L510.1 398.52 L510.6 398.53 L511.1 398.54 L511.6 398.55 L512.1 398.56 L512.6 398.57 L513.1 398.58 L513.6 398.58 L514.1 398.59 L514.6 398.6 L515.1 398.61 L515.6 398.61 L516.1 398.62 L516.6 398.63 L517.1 398.63 L517.6 398.64 L518.1 398.64 L518.6 398.65 L519.1 398.65 L519.6 398.66 L520.1 398.67 L520.6 398.67 L521.1 398.68 L521.6 398.68 L522.1 398.69 L522.6 398.69 L523.1 398.7 L523.6 398.7 L524.1 398.71 L524.6 398.71 L525.1 398.72 L525.6 398.72 L526.1 398.73 L526.6 398.73 L527.1 398.74 L527.6 398.75 L528.1 398.75 L528.6 398.76 L529.1 398.76 L529.6 398.77 L530.1 398.78 L530.6 398.78 L531.1 398.79 L531.6 398.8 L532.1 398.81 L532.6 398.81 L533.1 398.82 L533.6 398.83 L534.1 398.84" stroke="#FB6501" stroke-width="1.8" fill="none" stroke-linejoin="round" clip-path="url(#cd)"/>
<path d="M333.6 308.71 L334.1 308.84 L334.6 309.04 L335.1 309.24 L335.6 309.47 L336.1 309.75 L336.6 310.12 L337.1 310.62 L337.6 311.24 L338.1 311.81 L338.6 312.76 L339.1 314.27 L339.6 316.35 L340.1 318.11 L340.6 319.8 L341.1 320.85 L341.6 321.63 L342.1 322.23 L342.6 322.74 L343.1 323.29 L343.6 323.97 L344.1 324.73 L344.6 325.48 L345.1 326.24 L345.6 327 L346.1 327.75 L346.6 328.48 L347.1 329.2 L347.6 329.9 L348.1 330.59 L348.6 331.26 L349.1 331.92 L349.6 332.59 L350.1 333.26 L350.6 333.97 L351.1 334.7 L351.6 335.46 L352.1 336.26 L352.6 337.07 L353.1 337.87 L353.6 338.65 L354.1 339.4 L354.6 340.09 L355.1 340.88 L355.6 341.74 L356.1 342.58 L356.6 343.41 L357.1 344.22 L357.6 344.97 L358.1 345.71 L358.6 346.42 L359.1 347.11 L359.6 347.78 L360.1 348.44 L360.6 349.03 L361.1 349.57 L361.6 350.08 L362.1 350.57 L362.6 351.03 L363.1 351.45 L363.6 351.83 L364.1 352.19 L364.6 352.51 L365.1 352.81 L365.6 353.08 L366.1 353.31 L366.6 353.49 L367.1 353.61 L367.6 353.67 L368.1 353.68 L368.6 353.63 L369.1 353.51 L369.6 353.43 L370.1 353.71 L370.6 353.85 L371.1 353.57 L371.6 353.28 L372.1 353 L372.6 352.72 L373.1 352.47 L373.6 352.23 L374.1 351.98 L374.6 351.74 L375.1 351.49 L375.6 351.22 L376.1 350.93 L376.6 350.61 L377.1 350.26 L377.6 349.87 L378.1 349.45 L378.6 348.99 L379.1 348.51 L379.6 348.01 L380.1 347.48 L380.6 346.92 L381.1 346.35 L381.6 345.76 L382.1 345.16 L382.6 344.55 L383.1 343.93 L383.6 343.3 L384.1 342.64 L384.6 341.94 L385.1 341.21 L385.6 340.43 L386.1 339.6 L386.6 338.71 L387.1 337.75 L387.6 336.71 L388.1 335.6 L388.6 334.42 L389.1 333.18 L389.6 331.88 L390.1 330.53 L390.6 329.13 L391.1 327.69 L391.6 326.2 L392.1 324.69 L392.6 323.16 L393.1 321.61 L393.6 320.07 L394.1 318.53 L394.6 317.01 L395.1 315.51 L395.6 314.06 L396.1 312.63 L396.6 311.23 L397.1 309.85 L397.6 308.48 L398.1 307.11 L398.6 305.75 L399.1 304.4 L399.6 303.04 L400.1 301.67 L400.6 300.28 L401.1 298.86 L401.6 297.42 L402.1 295.94 L402.6 294.44 L403.1 292.91 L403.6 291.34 L404.1 289.92 L404.6 288.6 L405.1 287.27 L405.6 285.93 L406.1 284.54 L406.6 283.17 L407.1 281.82 L407.6 280.46 L408.1 278.92 L408.6 277.41 L409.1 275.88 L409.6 274.36 L410.1 272.85 L410.6 271.38 L411.1 269.94 L411.6 268.56 L412.1 267.25 L412.6 266.03 L413.1 264.91 L413.6 263.91 L414.1 263.05 L414.6 262.3 L415.1 261.66 L415.6 261.11 L416.1 260.63 L416.6 260.2 L417.1 259.82 L417.6 259.46 L418.1 259.1 L418.6 258.74 L419.1 258.36 L419.6 257.99 L420.1 257.65 L420.6 257.37 L421.1 257.14 L421.6 256.99 L422.1 256.94 L422.6 256.98 L423.1 257.08 L423.6 257.19 L424.1 257.31 L424.6 257.46 L425.1 257.64 L425.6 257.85 L426.1 258.09 L426.6 258.36 L427.1 258.68 L427.6 259.03 L428.1 259.44 L428.6 259.89 L429.1 260.39 L429.6 260.96 L430.1 261.59 L430.6 262.28 L431.1 263.03 L431.6 263.83 L432.1 264.68 L432.6 265.59 L433.1 266.54 L433.6 267.54 L434.1 268.59 L434.6 269.69 L435.1 270.89 L435.6 272.2 L436.1 273.63 L436.6 275.16 L437.1 276.81 L437.6 278.57 L438.1 280.44 L438.6 282.47 L439.1 284.64 L439.6 286.92 L440.1 289.3 L440.6 291.75 L441.1 294.23 L441.6 296.74 L442.1 299.27 L442.6 301.84 L443.1 304.47 L443.6 307.17 L444.1 309.97 L444.6 312.88 L445.1 315.93 L445.6 319.33 L446.1 323.03 L446.6 326.83 L447.1 330.16 L447.6 333.1 L448.1 335.6 L448.6 338.62 L449.1 341.64 L449.6 344.61 L450.1 347.06 L450.6 349.61 L451.1 352.2 L451.6 354.78 L452.1 357.31 L452.6 359.76 L453.1 362.08 L453.6 364.24 L454.1 366.3 L454.6 368.27 L455.1 370.13 L455.6 371.86 L456.1 373.44 L456.6 374.87 L457.1 376.15 L457.6 377.36 L458.1 378.5 L458.6 379.58 L459.1 380.61 L459.6 381.57 L460.1 382.48 L460.6 383.34 L461.1 384.14 L461.6 384.9 L462.1 385.61 L462.6 386.28 L463.1 386.92 L463.6 387.52 L464.1 388.09 L464.6 388.63 L465.1 389.14 L465.6 389.62 L466.1 390.08 L466.6 390.51 L467.1 390.93 L467.6 391.32 L468.1 391.69 L468.6 392.05 L469.1 392.37 L469.6 392.66 L470.1 392.92 L470.6 393.14 L471.1 393.33 L471.6 393.5 L472.1 393.66 L472.6 393.8 L473.1 393.94 L473.6 394.07 L474.1 394.2 L474.6 394.34 L475.1 394.48 L475.6 394.61 L476.1 394.73 L476.6 394.83 L477.1 394.92 L477.6 395 L478.1 395.08 L478.6 395.15 L479.1 395.22 L479.6 395.29 L480.1 395.38 L480.6 395.46 L481.1 395.55 L481.6 395.64 L482.1 395.73 L482.6 395.83 L483.1 395.93 L483.6 396.03 L484.1 396.12 L484.6 396.22 L485.1 396.32 L485.6 396.42 L486.1 396.52 L486.6 396.62 L487.1 396.72 L487.6 396.81 L488.1 396.9 L488.6 397 L489.1 397.08 L489.6 397.17 L490.1 397.25 L490.6 397.33 L491.1 397.41 L491.6 397.48 L492.1 397.55 L492.6 397.61 L493.1 397.66 L493.6 397.72 L494.1 397.76 L494.6 397.8 L495.1 397.83 L495.6 397.86 L496.1 397.89 L496.6 397.92 L497.1 397.95 L497.6 397.97 L498.1 398 L498.6 398.03 L499.1 398.05 L499.6 398.07 L500.1 398.1 L500.6 398.12 L501.1 398.14 L501.6 398.16 L502.1 398.18 L502.6 398.2 L503.1 398.22 L503.6 398.23 L504.1 398.25 L504.6 398.27 L505.1 398.28 L505.6 398.3 L506.1 398.31 L506.6 398.33 L507.1 398.34 L507.6 398.36 L508.1 398.37 L508.6 398.38 L509.1 398.39 L509.6 398.4 L510.1 398.41 L510.6 398.43 L511.1 398.44 L511.6 398.45 L512.1 398.45 L512.6 398.46 L513.1 398.47 L513.6 398.48 L514.1 398.49 L514.6 398.5 L515.1 398.5 L515.6 398.51 L516.1 398.52 L516.6 398.53 L517.1 398.53 L517.6 398.54 L518.1 398.55 L518.6 398.55 L519.1 398.56 L519.6 398.56 L520.1 398.57 L520.6 398.58 L521.1 398.58 L521.6 398.59 L522.1 398.59 L522.6 398.6 L523.1 398.6 L523.6 398.61 L524.1 398.61 L524.6 398.62 L525.1 398.63 L525.6 398.63 L526.1 398.64 L526.6 398.64 L527.1 398.65 L527.6 398.66 L528.1 398.66 L528.6 398.67 L529.1 398.68 L529.6 398.68 L530.1 398.69 L530.6 398.7 L531.1 398.71 L531.6 398.71 L532.1 398.72 L532.6 398.73 L533.1 398.74 L533.6 398.75 L534.1 398.76" stroke="#6699CC" stroke-width="1.8" fill="none" stroke-linejoin="round" clip-path="url(#cd)"/>
<rect x="334.1" y="232.8" width="199.8" height="178" fill="none" stroke="#111" stroke-width="1.7"/>
<path d="M334.1 410.8 V414 M383.98 410.8 V414 M433.85 410.8 V414 M483.73 410.8 V414 M533.6 410.8 V414" stroke="#111" stroke-width="1.3" fill="none"/>
<path d="M359.04 410.8 V412.6 M408.91 410.8 V412.6 M458.79 410.8 V412.6 M508.66 410.8 V412.6" stroke="#111" stroke-width="1.3" fill="none"/>
<path d="M334.1 399.6 H330.9 M334.1 357.8 H330.9 M334.1 316 H330.9 M334.1 274.2 H330.9 M334.1 232.4 H330.9" stroke="#111" stroke-width="1.3" fill="none"/>
<path d="M334.1 378.7 H332.3 M334.1 336.9 H332.3 M334.1 295.1 H332.3 M334.1 253.3 H332.3" stroke="#111" stroke-width="1.3" fill="none"/>
<text x="334.1" y="424.4" font-size="11" text-anchor="middle" >300</text>
<text x="383.98" y="424.4" font-size="11" text-anchor="middle" >350</text>
<text x="433.85" y="424.4" font-size="11" text-anchor="middle" >400</text>
<text x="483.73" y="424.4" font-size="11" text-anchor="middle" >450</text>
<text x="533.6" y="424.4" font-size="11" text-anchor="middle" >500</text>
<text x="329" y="403.5" font-size="11" text-anchor="end" >0.00</text>
<text x="329" y="361.7" font-size="11" text-anchor="end" >0.04</text>
<text x="329" y="319.9" font-size="11" text-anchor="end" >0.08</text>
<text x="329" y="278.1" font-size="11" text-anchor="end" >0.12</text>
<text x="329" y="236.3" font-size="11" text-anchor="end" >0.16</text>
<text x="434" y="440.5" font-size="11.3" text-anchor="middle" >Wavelength (nm)</text>
<text x="305.2" y="314.8" font-size="11" text-anchor="middle" transform="rotate(-90 305.2 314.8)">Absorption</text>
<text x="294" y="235.2" font-size="19.5" text-anchor="start" >d</text>
<rect x="479.5" y="237.4" width="49.5" height="123.7" fill="#fff" stroke="#111" stroke-width="1.5"/>
<path d="M480 243.5 H501" stroke="#515151" stroke-width="1.9"/>
<text x="503" y="246.6" font-size="8.6" text-anchor="start" >0</text>
<path d="M480 254.65 H501" stroke="#F14040" stroke-width="1.9"/>
<text x="503" y="257.75" font-size="8.6" text-anchor="start" >1 µM</text>
<path d="M480 265.8 H501" stroke="#1A6FDF" stroke-width="1.9"/>
<text x="503" y="268.9" font-size="8.6" text-anchor="start" >2 µM</text>
<path d="M480 276.95 H501" stroke="#37AD6B" stroke-width="1.9"/>
<text x="503" y="280.05" font-size="8.6" text-anchor="start" >3 µM</text>
<path d="M480 288.1 H501" stroke="#B177DE" stroke-width="1.9"/>
<text x="503" y="291.2" font-size="8.6" text-anchor="start" >4 µM</text>
<path d="M480 299.25 H501" stroke="#CC9900" stroke-width="1.9"/>
<text x="503" y="302.35" font-size="8.6" text-anchor="start" >5 µM</text>
<path d="M480 310.4 H501" stroke="#00CBCC" stroke-width="1.9"/>
<text x="503" y="313.5" font-size="8.6" text-anchor="start" >6 µM</text>
<path d="M480 321.55 H501" stroke="#7D4E4E" stroke-width="1.9"/>
<text x="503" y="324.65" font-size="8.6" text-anchor="start" >7 µM</text>
<path d="M480 332.7 H501" stroke="#8E8E00" stroke-width="1.9"/>
<text x="503" y="335.8" font-size="8.6" text-anchor="start" >8 µM</text>
<path d="M480 343.85 H501" stroke="#FB6501" stroke-width="1.9"/>
<text x="503" y="346.95" font-size="8.6" text-anchor="start" >9 µM</text>
<path d="M480 355 H501" stroke="#6699CC" stroke-width="1.9"/>
<text x="503" y="358.1" font-size="8.6" text-anchor="start" >10 µM</text>
</svg>
</body></html>
